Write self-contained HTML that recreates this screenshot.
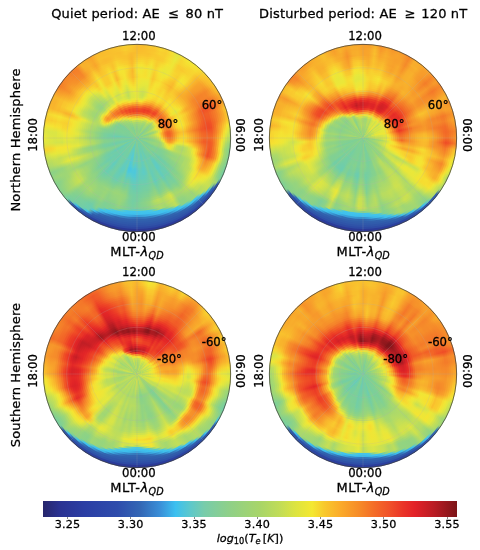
<!DOCTYPE html><html><head><meta charset="utf-8"><title>Polar Te maps</title><style>
html,body{margin:0;padding:0;background:#fff}
body{width:480px;height:550px;position:relative;overflow:hidden;font-family:"DejaVu Sans","Liberation Sans",sans-serif;color:#000}
.pl{position:absolute;width:189.2px;height:189.2px}
.pl i{position:absolute;display:block;border-radius:50%}
.ov{position:absolute;overflow:visible}
.t{position:absolute;white-space:nowrap;line-height:1;transform:translate(-50%,-50%);-webkit-text-stroke:0.28px #000}
.tt{font-size:13px;letter-spacing:.15px}
.tk{font-size:11.7px}
.r90{transform:translate(-50%,-50%) rotate(-90deg)}
.r270{transform:translate(-50%,-50%) rotate(90deg)}
.cb{position:absolute;left:42.7px;top:500.8px;width:414.5px;height:16.3px;background:linear-gradient(to right,#27266b 0.0%,#2a3292 4.0%,#2b3ea4 10.0%,#2e4cac 18.0%,#3367b5 23.5%,#3a8fd8 28.3%,#3cc0f0 32.0%,#5cc8cc 35.5%,#78ccaa 39.0%,#8fd088 45.0%,#a8d568 52.4%,#c0dc58 57.0%,#dce440 60.9%,#f4e832 65.0%,#f8c82c 68.0%,#fbac2a 71.7%,#f68a28 76.5%,#f46c28 80.0%,#f0502a 83.8%,#ea3428 87.0%,#e32228 89.8%,#b81c24 94.6%,#7c1418 100.0%)}
.tick{position:absolute;top:517px;width:0.6px;height:2px;background:#888}
sub{font-size:74%;vertical-align:baseline;position:relative;top:0.28em;font-style:italic}
em{font-style:italic}
</style></head><body>
<div class="pl" style="left:42.4px;top:43.2px">
<i style="left:0.65px;top:0.65px;width:187.90px;height:187.90px;background:conic-gradient(#f9bc2d,#f9bd2d,#f9c52e,#f9c82e,#f7d530,#f8d02f,#f6dd31,#dee642,#f6dc31,#f2e534,#f3e533,#f5e232,#f6db31,#f9cc2e,#f9c62e,#f9c42e,#f9ba2d,#f8a82b,#f8a62b,#f9ca2e,#f9c62e,#f8cd2f,#e7e83b,#c4df56,#b3db64,#97d57c,#86d18c,#87d18b,#83d090,#7fd096,#78cf9f,#7bcf9a,#2f58aa,#2e4fa6,#2d49a3,#2c45a1,#2c429f,#2c419f,#2c409e,#2b3f9e,#2b3d9d,#2b3b9b,#2b3a99,#2b3997,#2b3996,#2b3895,#2b3895,#2b3794,#2b3794,#2b3794,#2b3895,#2b3896,#2b3896,#2b3998,#2b3a99,#2b3c9c,#2c409e,#2e4ba4,#2e4fa6,#2f52a8,#305fac,#74cea3,#87d18b,#89d289,#85d18d,#95d47e,#8ad288,#a8d86d,#bddd5c,#d1e34c,#f7d530,#e0e641,#eae73a,#e1e740,#f5e132,#f9cc2e,#f8d02f,#f8b32c,#f8b02c,#f8b62c,#f7992b,#f47e29,#f5832a,#f5882a,#f47f29,#f5852a,#f8b12c,#f8ad2c,#f8a12b,#f9b92d,#f9bc2d,#f9c22d,#f9be2d,#f9c32d,#f8d22f,#f8d02f,#f9bc2d)"></i>
<i style="left:2.99px;top:2.99px;width:183.22px;height:183.22px;background:conic-gradient(#f9bc2d,#f9bc2d,#f9c52e,#f9c82e,#f7d630,#f8cf2f,#f6de31,#e0e641,#f6dc31,#f4e433,#f5e432,#f6de31,#f8d12f,#f9c62e,#f9c12d,#f9ba2d,#f8b32c,#f79f2b,#f79c2b,#f9b92d,#f8b72c,#f9c02d,#f5e332,#dce544,#c2df57,#a2d772,#94d47f,#97d57c,#92d480,#8ad289,#83d190,#89d28a,#a4d870,#326bb3,#305eac,#3059aa,#2f56a9,#2f54a8,#2f53a8,#2e51a7,#2e50a7,#2e4ea6,#2e4ca5,#2d4ba4,#2d4aa4,#2d49a3,#2d48a3,#2d48a3,#2d47a2,#2d48a3,#2d48a3,#2d49a3,#2d4aa4,#2e4ba4,#2e4da5,#2e4fa6,#2f53a8,#3161ad,#3370b6,#3dbae9,#76cea1,#78cf9e,#8ed384,#8fd384,#89d289,#98d57b,#8cd287,#adda69,#bddd5b,#d6e448,#f8d32f,#dfe641,#e7e83b,#dee642,#f3e433,#f8cd2f,#f6da31,#f8b72c,#f8b32c,#f8b52c,#f79b2b,#f48129,#f5882a,#f5892a,#f47e29,#f48029,#f8b22c,#f8ae2c,#f8a42b,#f9bc2d,#f9bc2d,#f9be2d,#f9c22d,#f9c52e,#f9cc2e,#f9c82e,#f9bc2d)"></i>
<i style="left:4.98px;top:4.98px;width:179.23px;height:179.23px;background:conic-gradient(#f9bc2d,#f9be2d,#f9c22d,#f9c52e,#f8d02f,#f8cd2f,#f6db31,#e5e83d,#f7d530,#f6df31,#f6de31,#f6dc31,#f9cc2e,#f9c12d,#f9ba2d,#f8af2c,#f8a62b,#f6952a,#f68f2a,#f8a72b,#f8a72b,#f8b12c,#f8cf2f,#eee637,#d5e449,#b4db63,#a1d773,#a6d86e,#a2d772,#96d47d,#91d382,#97d57d,#b0da66,#88d18b,#3cb1e5,#3371b7,#3161ad,#305fad,#305dac,#305bab,#3059aa,#2f57a9,#2f55a9,#2f54a8,#2f53a8,#2f52a8,#2f52a7,#2e51a7,#2e51a7,#2e51a7,#2f52a7,#2f52a8,#2f53a8,#2f54a8,#2f55a9,#2f58aa,#305eac,#3fc2ee,#6dcdac,#76cea1,#78cf9e,#7ed096,#96d47d,#94d47f,#8cd287,#9bd579,#8dd286,#b1db66,#bfde5a,#dde643,#f7d530,#dee642,#e3e73e,#d9e546,#f3e533,#f8ce2f,#f6da31,#f8b52c,#f8b32c,#f8b72c,#f79d2b,#f5862a,#f58b2a,#f58c2a,#f5832a,#f48129,#f8b12c,#f8b22c,#f8a72b,#f9be2d,#f9bd2d,#f9be2d,#f9c12d,#f9c32e,#f8ce2f,#f9c52e,#f9bc2d)"></i>
<i style="left:6.97px;top:6.97px;width:175.25px;height:175.25px;background:conic-gradient(#f9bd2d,#f9be2d,#f9c32d,#f9c72e,#f8d12f,#f8ce2f,#f6dd31,#e8e83b,#f7d430,#f6db31,#f7d630,#f7d730,#f9c62e,#f9ba2d,#f8b02c,#f79f2b,#f79c2b,#f5882a,#f47e29,#f7992b,#f79b2b,#f8a42b,#f9be2d,#f7d830,#ebe739,#d1e24c,#c0de59,#cbe150,#c8e053,#b0da67,#a9d96c,#adda69,#bddd5c,#c4df56,#bcdd5c,#3fc3ee,#3aa9e1,#3789c8,#3373b8,#3163ae,#3160ad,#305eac,#305cab,#305bab,#3059aa,#2f58aa,#2f58aa,#2f57aa,#2f57a9,#2f57aa,#2f58aa,#3059aa,#3059aa,#305bab,#305cab,#305fad,#347abd,#6bcdb0,#72cea6,#77ce9f,#7bcf9b,#83d190,#9ed676,#99d57a,#90d383,#9bd678,#8fd384,#b8dc60,#c4df56,#e2e73f,#f7d530,#dbe544,#dee642,#dae546,#f4e433,#f8cc2f,#f6dd31,#f9b82d,#f9b82d,#f9b92d,#f7a02b,#f58a2a,#f6912a,#f68c2a,#f5852a,#f5822a,#f8ae2c,#f8b42c,#f8a82b,#f9bf2d,#f9bf2d,#f9c02d,#f9c02d,#f9bf2d,#f9c72e,#f9c22d,#f9bd2d)"></i>
<i style="left:8.97px;top:8.97px;width:171.27px;height:171.27px;background:conic-gradient(#f9be2d,#f9c12d,#f9c12d,#f9c72e,#f9cb2e,#f8cf2f,#f6df31,#eae739,#f8d32f,#f7d430,#f8d32f,#f7d530,#f9bd2d,#f8af2c,#f8a32b,#f6932a,#f6932a,#f47e29,#f37328,#f68e2a,#f68f2a,#f6952a,#f8aa2b,#f9bc2d,#f7d630,#efe636,#e8e73a,#f1e535,#eee636,#d5e349,#cce150,#cbe150,#c9e052,#c9e052,#bcdd5c,#b2db65,#42c4ea,#3fc3ee,#3ebfec,#39a1db,#357fc1,#3166b0,#3162ad,#3160ad,#305fac,#305eac,#305dac,#305dac,#305cab,#305dac,#305dac,#305eac,#305fac,#3160ad,#3163ae,#3371b8,#3fc1ed,#6ccdaf,#73cea5,#79cf9e,#7ccf99,#84d18e,#a3d771,#9ed676,#96d47d,#9ed676,#91d381,#badd5f,#c7e054,#e4e83d,#f7d930,#d9e546,#dee642,#dae545,#f5e432,#f8d02f,#f6df31,#f9ba2d,#f9be2d,#f9bd2d,#f8a52b,#f68e2a,#f6952a,#f6902a,#f58a2a,#f5852a,#f8ad2c,#f8b32c,#f8a62b,#f9be2d,#f9bb2d,#f9bd2d,#f9c32d,#f9c02d,#f9c62e,#f9ba2d,#f9be2d)"></i>
<i style="left:10.96px;top:10.96px;width:167.29px;height:167.29px;background:conic-gradient(#f9c32d,#f9c52e,#f9c32e,#f9ca2e,#f9c92e,#f8cd2f,#f6dd31,#ede637,#f9cc2e,#f8cd2f,#f8d22f,#f7d430,#f9ba2d,#f8a72b,#f79c2b,#f58a2a,#f58c2a,#f37428,#f26327,#f48029,#f5832a,#f5892a,#f79b2b,#f8a72b,#f9be2d,#f8cc2f,#f8d12f,#f9c42e,#f9c22d,#f1e534,#ece638,#eae739,#d8e447,#cde14f,#bcdd5c,#b2db65,#9cd677,#97d57c,#63ccbc,#40c3ed,#3ec0ec,#39a0da,#357ec0,#3371b7,#3166b0,#3163ae,#3162ae,#3162ad,#3161ad,#3162ae,#3162ae,#3163ae,#3165af,#3373b8,#3687c6,#3cb3e6,#76cea0,#6ccdae,#73cea5,#7bcf9b,#80d094,#89d28a,#a8d86d,#a2d772,#9ad579,#9dd676,#94d47f,#c0de59,#c7e054,#e7e83b,#f6de31,#d6e448,#dbe544,#dce543,#f6e031,#f8cf2f,#f6e031,#f9b82d,#f9bf2d,#f9be2d,#f8a82b,#f6912a,#f79c2b,#f6922a,#f58a2a,#f5862a,#f8a92b,#f8b72c,#f8a52b,#f9bd2d,#f9ba2d,#f9bc2d,#f9c52e,#f9c12d,#f9c22d,#f9b82d,#f9c32d)"></i>
<i style="left:12.95px;top:12.95px;width:163.30px;height:163.30px;background:conic-gradient(#f9c62e,#f9cb2e,#f9c92e,#f8cf2f,#f9c82e,#f8cd2f,#f6df31,#eee636,#f8cd2f,#f9c92e,#f8d22f,#f7d530,#f9bb2d,#f8a52b,#f79c2b,#f5862a,#f5852a,#f36e28,#f15b27,#f47829,#f47929,#f47829,#f5892a,#f6922a,#f8a92b,#f8ab2b,#f8ab2b,#f7a02b,#f79b2b,#f9c82e,#f7d530,#f6dc31,#e9e73a,#d6e449,#bcdd5c,#b2db65,#9cd677,#97d57c,#91d382,#8dd286,#42c4ea,#3fc2ee,#3db9e9,#3aa5de,#3892cf,#3581c2,#3479bd,#3475ba,#3370b7,#3476bb,#357dbf,#3683c3,#378ecc,#3aa8e1,#3ebfec,#40c3ec,#87d18b,#70cda8,#77ce9f,#82d091,#85d18d,#8bd288,#acd96a,#aad96b,#a0d674,#9dd676,#96d47d,#c4df56,#c4df56,#e6e83c,#f4e433,#d3e34b,#dce544,#dbe544,#f5e132,#f7d530,#f5e232,#f9bc2d,#f9c72e,#f9c42e,#f8ad2c,#f6952a,#f7a02b,#f6962a,#f68f2a,#f58b2a,#f8a82b,#f9ba2d,#f8ab2b,#f9c02d,#f9bd2d,#f9c02d,#f9c92e,#f9c42e,#f9c22d,#f8b72c,#f9c62e)"></i>
<i style="left:14.94px;top:14.94px;width:159.32px;height:159.32px;background:conic-gradient(#f8cd2f,#f8d12f,#f8cd2f,#f7d830,#f8cd2f,#f8d32f,#f5e432,#eee636,#f8cf2f,#f8ce2f,#f7d830,#f7d730,#f9bc2d,#f8a32b,#f79b2b,#f5862a,#f5852a,#f37028,#f15827,#f37128,#f37128,#f26a27,#f37228,#f47d29,#f6902a,#f68e2a,#f68e2a,#f5822a,#f48129,#f8ad2c,#f9be2d,#f9ca2e,#f2e534,#e2e73f,#c8e053,#c0de5a,#9cd677,#9bd678,#91d382,#8fd383,#c0de59,#70cda9,#40c3ed,#3fc2ed,#3ebfec,#3cb4e7,#3aaae1,#39a3dc,#399bd7,#3aa5de,#3bafe4,#3db8e9,#3ebfec,#3fc2ee,#41c4eb,#7acf9c,#87d18b,#77cea0,#7ed097,#89d289,#8ad289,#91d382,#b3db64,#afda67,#a1d773,#9ed675,#9cd677,#cce150,#c3df57,#e8e73a,#f4e433,#d5e349,#dfe641,#e3e73e,#f6e031,#f7d530,#f5e332,#f9bb2d,#f9c92e,#f9c62e,#f8af2c,#f7a02b,#f8a72b,#f79f2b,#f79a2b,#f6952a,#f8ac2c,#f9c42e,#f8b12c,#f9c62e,#f9c62e,#f9c32d,#f8d22f,#f9c92e,#f9c42e,#f8b62c,#f8cd2f)"></i>
<i style="left:16.93px;top:16.93px;width:155.34px;height:155.34px;background:conic-gradient(#f8d22f,#f7d830,#f8d02f,#f6de31,#f8cd2f,#f6db31,#f0e535,#efe536,#f8d12f,#f8d02f,#f6de31,#f6da31,#f9bc2d,#f8a22b,#f79a2b,#f5832a,#f5832a,#f36f28,#f05326,#f26827,#f26827,#f26127,#f16027,#f36e28,#f48029,#f37528,#f37628,#f37028,#f36e28,#f79f2b,#f8b12c,#f9bf2d,#f5e132,#e8e83b,#cfe24e,#c3df57,#a0d674,#9fd675,#91d382,#8fd383,#c0de59,#afda67,#82d091,#45c5e6,#41c4ec,#3fc3ee,#3fc1ed,#3fc1ed,#3ec0ec,#3fc1ed,#3fc2ee,#3fc3ee,#40c3ec,#4ec8db,#80d094,#7ed096,#87d18b,#7dcf98,#85d18d,#92d481,#92d481,#97d57c,#badd5e,#b8dc60,#a8d86d,#a1d773,#a3d771,#d4e349,#c8e053,#ece638,#f5e432,#d4e34a,#dfe641,#e5e83c,#f6df31,#f8d32f,#f6de31,#f8b72c,#f8ce2f,#f9ca2e,#f8b52c,#f8a82b,#f8ae2c,#f8a62b,#f79f2b,#f79f2b,#f8b22c,#f9cb2e,#f9b82d,#f9c72e,#f8cd2f,#f9c22d,#f7d630,#f9cc2e,#f9ca2e,#f9b82d,#f8d22f)"></i>
<i style="left:18.92px;top:18.92px;width:151.35px;height:151.35px;background:conic-gradient(#f7d930,#f6de31,#f8d22f,#f5e332,#f8cd2f,#f6df31,#eee637,#eee637,#f7d630,#f8d02f,#f5e232,#f6de31,#f9be2d,#f8a32b,#f7992b,#f5832a,#f5832a,#f36d28,#f05126,#f15f27,#f15c27,#f05226,#ef4e26,#f15d27,#f36f28,#f26127,#f15f27,#f15d27,#f15d27,#f6932a,#f8a22b,#f8b42c,#f6db31,#f0e536,#dee642,#d0e24d,#abd96b,#a2d772,#96d47d,#94d47f,#c0de59,#b1da66,#a1d773,#acd96a,#85d18d,#50c9d9,#42c4ea,#41c4eb,#40c4ec,#41c4eb,#42c4ea,#59cbcc,#76cea1,#86d18c,#82d091,#7ed096,#8ad288,#85d18d,#8fd384,#9bd579,#98d57b,#9bd579,#c1de58,#bcdd5c,#b0da66,#a2d772,#aad96c,#dbe544,#cbe151,#ece638,#f4e433,#d1e34c,#e1e73f,#e9e73a,#f7d730,#f8d12f,#f6dc31,#f8b32c,#f8d32f,#f8ce2f,#f9bc2d,#f8b32c,#f9ba2d,#f8b02c,#f8a92b,#f8a52b,#f9b92d,#f8d22f,#f9bf2d,#f9c92e,#f7d430,#f9c22d,#f6da31,#f7d330,#f9cb2e,#f9ba2d,#f7d930)"></i>
<i style="left:20.91px;top:20.91px;width:147.37px;height:147.37px;background:conic-gradient(#f5e132,#f5e432,#f6da31,#f0e535,#f8d22f,#f3e433,#ebe739,#eee637,#f7d630,#f8cd2f,#f3e533,#f6e031,#f9be2d,#f8a32b,#f7972b,#f5832a,#f47f29,#f36e28,#f05226,#f15f27,#f15b27,#ef4d26,#ef4926,#f15c27,#f26a27,#f15927,#f15927,#f05326,#f05126,#f5882a,#f79b2b,#f8ad2c,#f7d530,#f4e432,#e8e83b,#dae545,#b6dc62,#a8d86d,#9cd677,#9bd579,#c8e053,#bcdd5c,#a4d770,#acd96a,#a1d773,#8fd383,#80d094,#76cea1,#67ccb6,#6bcdb1,#7acf9c,#83d18f,#91d382,#86d18c,#82d091,#80d094,#92d481,#8dd286,#93d480,#9fd675,#9dd677,#9ed675,#c6e054,#c1de58,#b7dc60,#a1d773,#add969,#e2e73f,#cce150,#ebe739,#f5e432,#d9e546,#e6e83c,#eee637,#f7d730,#f8d02f,#f7da30,#f8b32c,#f7d430,#f8d12f,#f9c42e,#f9be2d,#f9c32d,#f9c12d,#f8b32c,#f8af2c,#f9bc2d,#f7d730,#f9c22d,#f9c92e,#f7d930,#f9c42e,#f5e232,#f6db31,#f8d32f,#f9bf2d,#f5e132)"></i>
<i style="left:22.91px;top:22.91px;width:143.39px;height:143.39px;background:conic-gradient(#f1e535,#eee637,#f5e232,#ebe739,#f7d430,#f1e534,#e8e73a,#efe636,#f7d830,#f8cd2f,#f2e534,#f6e031,#f9be2d,#f8a52b,#f6962a,#f5842a,#f47e29,#f36d28,#f05026,#f15a27,#f15927,#ef4e26,#ef4926,#f15d27,#f36b28,#f15927,#f26127,#f26327,#f16027,#f6932a,#f8a22b,#f8ae2c,#f8d22f,#f6db31,#f0e536,#e3e73e,#c0de59,#afda67,#a3d771,#a5d870,#d3e34a,#bfde5a,#adda69,#acd96a,#a5d870,#93d480,#86d18c,#82d091,#7ccf99,#76cea1,#7dcf97,#87d18b,#94d47f,#88d18a,#86d18c,#88d18b,#97d57c,#90d383,#97d57c,#a9d96d,#a5d870,#a4d770,#c8e053,#c5df55,#bcdd5c,#a1d773,#b6dc61,#e7e83b,#cee24e,#e9e73a,#f5e432,#dee642,#ebe739,#f3e534,#f7d530,#f8cf2f,#f7d730,#f8b22c,#f7d630,#f7d630,#f8cd2f,#f9c62e,#f9c92e,#f9ca2e,#f9bb2d,#f9b92d,#f9c22d,#f6e031,#f9c72e,#f9cc2e,#f6df31,#f9ca2e,#efe636,#f5e232,#f7d930,#f9c42e,#f1e535)"></i>
<i style="left:24.90px;top:24.90px;width:139.40px;height:139.40px;background:conic-gradient(#f4e433,#eee637,#f5e132,#ece638,#f8d22f,#f5e432,#eae739,#f2e534,#f7d530,#f9c72e,#f5e232,#f6da31,#f9ba2d,#f8a62b,#f7972b,#f5882a,#f5822a,#f37628,#f15e27,#f16027,#f15c27,#f05527,#ef4e26,#f26127,#f26b27,#f15b27,#f26a27,#f37328,#f37228,#f8a32b,#f8b32c,#f9bd2d,#f6de31,#f4e433,#e9e73a,#d8e447,#b9dd5f,#a9d96c,#a7d86e,#a6d86e,#d2e34b,#c0de59,#b0da66,#b5dc62,#aad96b,#96d47d,#8ad289,#84d18f,#7ccf99,#77cea0,#7fd095,#8ad288,#98d57b,#8ed384,#8cd286,#8cd287,#9ad57a,#92d481,#97d57c,#a6d86e,#a4d870,#a1d773,#bfde5a,#bfde5a,#bbdd5e,#a1d773,#b5db63,#e5e83d,#c8e053,#e2e73f,#f2e534,#dbe545,#e8e73b,#f1e535,#f6dd31,#f7d830,#f6df31,#f9b92d,#f5e232,#f6e031,#f8d32f,#f8d22f,#f7d630,#f6da31,#f9cc2e,#f9c82e,#f9c42e,#f5e432,#f9cb2e,#f8cd2f,#f6de31,#f9c02d,#f4e433,#f5e332,#f7d530,#f9bb2d,#f4e433)"></i>
<i style="left:26.89px;top:26.89px;width:135.42px;height:135.42px;background:conic-gradient(#f5e332,#f1e534,#f6df31,#ece638,#f8cd2f,#f6e031,#efe636,#f5e132,#f8cd2f,#f9c22d,#f6dd31,#f7d530,#f9b92d,#f8a72b,#f79a2b,#f58a2a,#f5862a,#f5822a,#f26a27,#f26927,#f26527,#f15d27,#f05427,#f26427,#f36c28,#f15c27,#f37328,#f5852a,#f5842a,#f8b32c,#f9c72e,#f8d02f,#eee636,#ede638,#dee642,#cae052,#afda68,#9dd677,#a2d772,#a7d86e,#d5e449,#c4df56,#b2db65,#bddd5c,#b1db65,#97d57c,#8bd287,#85d18d,#7bcf9a,#76cea1,#7ed096,#8bd287,#99d57a,#91d382,#90d383,#8cd287,#9ad57a,#94d47f,#97d57d,#a0d773,#a1d773,#9fd675,#b3db64,#b6dc61,#b6dc61,#9fd675,#b6dc61,#e0e640,#c4df56,#d9e546,#ece638,#dae545,#e7e83c,#f0e535,#f4e433,#f6dd31,#f5e232,#f9c02d,#eee636,#efe636,#f6e031,#f5e132,#f5e432,#f1e535,#f6db31,#f8d32f,#f9c52e,#f3e433,#f9cc2e,#f9cc2e,#f6df31,#f9c02d,#f5e232,#f4e432,#f8d02f,#f8b72c,#f5e332)"></i>
<i style="left:28.88px;top:28.88px;width:131.44px;height:131.44px;background:conic-gradient(#f5e132,#f2e534,#f6df31,#ede637,#f9ca2e,#f6de31,#f1e535,#f7d930,#f9c72e,#f9bc2d,#f7d630,#f8cd2f,#f8b42c,#f8a72b,#f79c2b,#f6902a,#f68d2a,#f58c2a,#f47929,#f37428,#f37228,#f26427,#f05827,#f26a27,#f37328,#f26627,#f5832a,#f7982b,#f7972b,#f9c62e,#f6da31,#f5e132,#e3e73f,#e1e740,#cfe24e,#bcdd5c,#a5d86f,#94d47f,#9ed676,#a1d773,#cee24f,#bfde5a,#aeda68,#bcdd5d,#b0da67,#95d47e,#8cd287,#85d18e,#7acf9b,#75cea2,#7dcf98,#8ed385,#9bd579,#93d480,#93d480,#8dd286,#99d57a,#95d47e,#98d57b,#a0d674,#9dd677,#9dd677,#adda69,#acd969,#b0da67,#9cd678,#b6dc61,#dee642,#bede5b,#cce150,#e8e73b,#dae546,#e3e73e,#ede637,#eee637,#f4e433,#f3e533,#f9ca2e,#e5e83d,#e6e83c,#eee637,#eee637,#eae739,#e8e73b,#f1e534,#f6dc31,#f9c62e,#f2e534,#f8cd2f,#f9cb2e,#f6e031,#f9bc2d,#f6df31,#f5e432,#f8ce2f,#f9b92d,#f5e132)"></i>
<i style="left:30.87px;top:30.87px;width:127.46px;height:127.46px;background:conic-gradient(#f6dd31,#f5e432,#f6df31,#eee637,#f9c82e,#f6db31,#f5e332,#f8d22f,#f9c62e,#f9ba2d,#f8d02f,#f9c62e,#f8b12c,#f8a92b,#f8a32b,#f79b2b,#f6942a,#f6942a,#f5842a,#f48029,#f47d29,#f37328,#f26527,#f37428,#f47e29,#f37328,#f6942a,#f8b02c,#f8ae2c,#f6dc31,#ede637,#e8e73a,#d2e34c,#cde14f,#bfde5a,#abd96b,#9cd678,#8ad288,#94d47f,#94d47f,#b9dd5f,#acd96a,#9cd677,#acd969,#a0d774,#8ed384,#88d18a,#80d093,#77cea0,#74cea4,#7dcf98,#90d383,#99d57a,#97d57d,#95d47e,#8ed384,#9bd678,#97d57c,#96d47d,#9cd678,#9ad579,#9ad57a,#a3d771,#a9d96c,#aad96c,#97d57c,#b8dc60,#dee642,#bbdd5d,#c3df57,#e6e83c,#d8e446,#dde543,#e9e73a,#e8e83b,#efe536,#efe636,#f8d12f,#dee642,#dbe544,#e7e83b,#e8e83b,#e0e641,#dde643,#e6e83c,#f1e535,#f8d12f,#f1e535,#f9cc2e,#f9cc2e,#f5e232,#f9b82d,#f6db31,#f5e432,#f9cc2e,#f9ba2d,#f6dd31)"></i>
<i style="left:32.86px;top:32.86px;width:123.47px;height:123.47px;background:conic-gradient(#f6da31,#f5e332,#f5e232,#f1e534,#f9c52e,#f7d730,#f6dd31,#f8cd2f,#f9be2d,#f8b42c,#f9c72e,#f9bf2d,#f8ae2c,#f8ab2b,#f8a92b,#f8a52b,#f79d2b,#f79f2b,#f6902a,#f58c2a,#f68d2a,#f48029,#f37028,#f5832a,#f68c2a,#f5822a,#f8a52b,#f9ca2e,#f8ce2f,#ebe739,#dce544,#d7e447,#c0de59,#bede5b,#afda67,#9cd678,#96d47e,#83d090,#8ad289,#87d18b,#a1d773,#9ad57a,#8fd383,#9fd675,#98d57b,#88d28a,#84d18e,#7ed097,#77cea0,#76cea1,#7ed097,#93d480,#99d57a,#98d57b,#98d57b,#92d381,#99d57a,#95d47e,#94d47f,#97d57d,#97d57c,#96d47d,#9dd677,#a4d771,#a3d771,#96d47d,#b7dc61,#d8e447,#b1db65,#bcdd5d,#e5e83c,#d7e448,#d3e34b,#e5e83d,#dfe642,#e8e73b,#eae739,#f6dc31,#d1e24c,#cde14f,#d8e447,#dee642,#d2e34b,#cbe151,#d6e448,#e9e73a,#f8d32f,#f0e535,#f9cc2e,#f9cc2e,#f5e132,#f9b82d,#f7d930,#f3e533,#f8ce2f,#f9b92d,#f6da31)"></i>
<i style="left:34.86px;top:34.86px;width:119.49px;height:119.49px;background:conic-gradient(#f6e031,#efe636,#efe636,#ece638,#f9cb2e,#f6de31,#f5e132,#f8d22f,#f9c72e,#f9b92d,#f9c82e,#f9bf2d,#f8b32c,#f8b42c,#f8b42c,#f8b12c,#f8a32b,#f8a82b,#f79c2b,#f7972b,#f7972b,#f58b2a,#f47a29,#f58c2a,#f6952a,#f6902a,#f8b22c,#f6de31,#f4e433,#e0e641,#cee24f,#c6e054,#b7dc60,#b5db63,#a6d86f,#93d480,#90d383,#7ed096,#84d18f,#7ed097,#95d47e,#8cd286,#83d18f,#94d47f,#8fd384,#83d090,#7fd096,#7acf9b,#75cea2,#76cea1,#7dcf98,#94d47f,#99d57a,#9bd678,#9bd579,#95d47e,#9bd579,#97d57d,#92d481,#91d382,#93d480,#93d480,#97d57c,#a1d773,#a1d773,#94d47f,#b5db63,#cfe24e,#adda69,#b5db63,#e6e83c,#d7e448,#cde14f,#e3e73f,#d8e447,#e0e641,#e4e73e,#f3e534,#c6df55,#bede5b,#cae052,#d1e34c,#c4df56,#c1de58,#cae151,#dbe545,#f6e031,#e9e73a,#f7d530,#f7d530,#f0e535,#f9c52e,#f5e332,#ede637,#f7d330,#f9c12d,#f6e031)"></i>
<i style="left:36.85px;top:36.85px;width:115.51px;height:115.51px;background:conic-gradient(#f5e432,#ece638,#eae739,#eae73a,#f8d02f,#f5e332,#f5e232,#f8d22f,#f9ca2e,#f9be2d,#f9cb2e,#f9c52e,#f9ba2d,#f9bb2d,#f9bd2d,#f9bb2d,#f8a72b,#f8b62c,#f8a92b,#f8a22b,#f8a52b,#f6942a,#f5842a,#f7992b,#f8a32b,#f79e2b,#f9bf2d,#ece638,#e2e73f,#d0e24d,#bcdd5d,#b8dc60,#b2db65,#afda67,#a0d774,#91d382,#8ed384,#79cf9d,#7ed096,#78ce9f,#8cd286,#84d18e,#7dcf97,#91d382,#89d289,#7fd096,#7ccf99,#79cf9c,#74cea4,#75cea2,#79cf9d,#90d382,#94d47f,#99d57a,#98d57c,#8fd384,#92d481,#91d382,#8ed385,#89d289,#8cd287,#92d481,#91d381,#9cd678,#9cd678,#92d381,#b4db63,#c9e052,#a9d96c,#abd96a,#dbe544,#cfe24d,#c1de58,#d6e448,#cde14f,#d9e546,#d9e546,#eae739,#c1de58,#b8dc60,#bfde5a,#c8e053,#bbdd5d,#b7dc61,#c4df56,#d1e24c,#f2e534,#e1e740,#f6de31,#f6df31,#eee637,#f9cb2e,#f1e535,#eae739,#f6db31,#f9c92e,#f5e432)"></i>
<i style="left:38.84px;top:38.84px;width:111.52px;height:111.52px;background:conic-gradient(#f3e533,#eae739,#e6e83c,#e7e83b,#f7d330,#f5e332,#f6e031,#f7d430,#f7d430,#f9c32e,#f8ce2f,#f9cc2e,#f9c52e,#f9c42e,#f9c72e,#f9c92e,#f8b22c,#f9c32d,#f8b52c,#f8b02c,#f8b32c,#f7a02b,#f68f2a,#f8a32b,#f8b12c,#f8aa2b,#f8cf2f,#dbe544,#cee24e,#c7e054,#b4db63,#b0da67,#adda69,#a6d86f,#9bd678,#8cd287,#8dd385,#78cf9e,#7ccf99,#74cea4,#87d18b,#81d092,#79cf9c,#8cd286,#83d090,#7bcf9a,#79cf9c,#76cea0,#72cda7,#72cea6,#76cea1,#8dd286,#8ed385,#94d47f,#92d381,#87d18b,#8bd288,#8bd287,#88d28a,#83d090,#84d18e,#8fd384,#8bd287,#94d47f,#98d57c,#92d481,#b4db63,#c4df56,#a3d771,#a2d772,#d1e34c,#cde14f,#bfde5a,#cde14f,#c1de58,#cee24e,#d2e34c,#e6e83c,#bede5b,#b2db65,#b3db64,#bfde5a,#afda67,#acd96a,#badd5e,#c5df55,#ebe739,#d9e546,#f5e432,#f1e535,#e7e83b,#f8d22f,#ede637,#e6e83c,#f6e031,#f8d22f,#f3e533)"></i>
<i style="left:40.83px;top:40.83px;width:107.54px;height:107.54px;background:conic-gradient(#f0e535,#e6e83c,#e4e73e,#e3e73e,#f7d730,#f5e432,#f6dd31,#f8d22f,#f7d930,#f9c92e,#f8cd2f,#f8d12f,#f8cc2f,#f8ce2f,#f7d530,#f7d930,#f9bd2d,#f8cf2f,#f9c42e,#f9c02d,#f9c02d,#f8ab2b,#f7982b,#f8ad2c,#f9bc2d,#f8b32c,#f7d930,#d1e24c,#c6e054,#c0de59,#b0da66,#aeda68,#adda69,#a4d771,#99d57a,#88d18a,#8ad288,#75cea2,#78cf9e,#71cda7,#84d18e,#7dcf97,#75cea2,#86d18c,#7dcf98,#77ce9f,#76cea0,#73cea5,#6ecdab,#70cda9,#74cea3,#87d18b,#85d18d,#8dd286,#8ad288,#81d093,#83d090,#85d18e,#82d091,#7ed096,#7fd095,#8cd287,#87d18b,#90d382,#95d47e,#93d480,#b3db64,#bede5b,#a0d674,#9ed675,#cae151,#c6e055,#b7dc60,#c3df57,#b8dc60,#c6df55,#c9e052,#dae545,#b8dc60,#acd96a,#acd96a,#b7dc61,#a8d86d,#a6d86e,#b4db63,#bfde5a,#e5e83d,#d6e449,#f4e432,#ede637,#e2e73f,#f6da31,#e9e73a,#dce543,#f4e433,#f6da31,#f0e535)"></i>
<i style="left:42.82px;top:42.82px;width:103.56px;height:103.56px;background:conic-gradient(#efe636,#e2e73f,#dce544,#e2e73f,#f6db31,#f3e534,#f6de31,#f7d430,#f6db31,#f8cd2f,#f8d12f,#f6da31,#f8d12f,#f7d630,#f6dc31,#f3e533,#f9ca2e,#f7d630,#f9cc2e,#f9cc2e,#f9ca2e,#f8b72c,#f8a52b,#f9b92d,#f9c82e,#f9be2d,#f3e433,#c2df57,#bddd5c,#bddd5b,#aad96b,#a3d771,#a3d771,#9cd678,#95d47e,#85d18e,#88d18b,#73cea5,#76cea1,#6ecdab,#7fd095,#79cf9d,#70cda8,#82d092,#7acf9c,#76cea1,#75cea2,#71cda7,#6ccdae,#6acdb2,#72cea6,#82d091,#7ed096,#85d18d,#82d091,#7bcf9b,#7ccf9a,#81d093,#7ccf99,#78cf9e,#79cf9d,#87d18b,#82d091,#8bd287,#91d382,#93d480,#b1da66,#b7dc60,#9ad579,#99d57a,#c4df56,#c2de58,#aeda68,#b9dc5f,#adda69,#bddd5c,#c1de58,#cfe24d,#b5db63,#a8d86d,#a4d771,#acd96a,#9fd675,#9fd675,#abd96a,#b7dc61,#d7e447,#cee24e,#f0e535,#e7e83c,#dee642,#f5e132,#e8e83b,#d4e34a,#efe636,#f5e232,#efe636)"></i>
<i style="left:44.81px;top:44.81px;width:99.57px;height:99.57px;background:conic-gradient(#ede638,#d9e546,#d6e449,#dee642,#f6df31,#f1e535,#f6e031,#f7d730,#f6de31,#f8d12f,#f8d02f,#f5e132,#f7d930,#f6de31,#f4e433,#eae739,#f7d530,#f6de31,#f7d830,#f6db31,#f7d930,#f9c72e,#f8b52c,#f9c72e,#f7d530,#f9ca2e,#efe636,#bcdd5d,#b5dc62,#b9dc5f,#a6d86f,#a0d774,#a1d773,#96d47d,#8ed384,#82d091,#85d18e,#70cda9,#74cea4,#68ccb4,#7bcf9a,#74cea3,#6acdb2,#7dcf98,#77cea0,#73cea5,#72cea6,#71cda8,#6bcdb1,#67ccb6,#6fcdaa,#7dcf98,#77ce9f,#81d093,#7bcf9a,#74cea3,#76cea1,#7dd097,#79cf9d,#74cea3,#76cea1,#85d18e,#7dcf98,#87d18b,#8dd286,#92d381,#afda67,#b1db65,#97d57c,#96d47e,#bddd5b,#badd5f,#a5d870,#b0da67,#a6d86e,#b4db63,#b9dc5f,#c6e054,#b1db65,#a3d771,#a1d773,#a7d86e,#9cd678,#98d57b,#a5d870,#aeda68,#cae152,#c5df55,#ece638,#dee642,#d8e446,#efe636,#dfe641,#cde14f,#e8e73a,#efe636,#ede638)"></i>
<i style="left:46.80px;top:46.80px;width:95.59px;height:95.59px;background:conic-gradient(#ede638,#d7e448,#cfe24d,#dbe544,#f4e433,#eee636,#f5e332,#f6db31,#f4e432,#f7d930,#f7d430,#f4e433,#f6de31,#f4e432,#efe636,#e4e83d,#f6de31,#f4e433,#f5e332,#f5e432,#f4e432,#f7d430,#f9c12d,#f8ce2f,#f6dc31,#f7d730,#e7e83b,#b3db64,#aeda68,#b5dc62,#a2d772,#9ed676,#9dd676,#91d381,#8ad288,#7dcf97,#81d093,#6bcdb0,#6ecdab,#63ccbc,#76cea0,#6fcdaa,#62ccbe,#79cf9d,#72cea6,#6dcdad,#6ecdac,#6fcda9,#66ccb7,#64ccbb,#6bcdb1,#78cf9f,#70cda8,#7bcf9a,#75cea3,#6ccdaf,#6fcdaa,#78cf9e,#73cea4,#6ecdac,#73cea5,#81d092,#78cf9e,#82d091,#89d289,#8fd383,#a9d96c,#aad96c,#94d47f,#92d481,#b8dc60,#b2db65,#9ed675,#a9d96c,#a0d774,#adda69,#b0da66,#bbdd5d,#acd96a,#a1d773,#9ed676,#a2d772,#9ad579,#95d47e,#a3d771,#a9d96c,#c1de59,#c0de5a,#e8e83b,#d1e34c,#cfe24d,#e8e73b,#d7e448,#c5df55,#e0e641,#e8e83b,#ede638)"></i>
<i style="left:48.80px;top:48.80px;width:91.61px;height:91.61px;background:conic-gradient(#ebe739,#d0e24d,#c9e052,#d8e447,#f3e533,#f0e535,#f6e031,#f7d930,#f5e332,#f7d830,#f8d32f,#f3e533,#f6dd31,#f5e232,#f1e535,#e6e83c,#f7da30,#f5e132,#f5e432,#f5e432,#f5e332,#f8d22f,#f9bf2d,#f9ca2e,#f6da31,#f7d830,#e6e83c,#b4db63,#aeda68,#b4db63,#a3d771,#9bd678,#9bd678,#8ed385,#89d289,#7ccf9a,#7fd096,#6bcdb0,#6ccdae,#63ccbd,#76cea0,#6dcdad,#63ccbd,#7acf9b,#72cea6,#6ccdaf,#6ccdaf,#6dcdad,#65ccba,#62ccbe,#66ccb8,#73cea4,#6ccdae,#7acf9b,#74cea3,#6ccdaf,#6dcdad,#76cea1,#72cea6,#6acdb1,#72cda7,#80d094,#76cea1,#80d094,#86d18d,#90d383,#a7d86e,#a5d86f,#92d481,#91d382,#b3db64,#b0da67,#9ad57a,#a4d771,#9dd677,#a7d86e,#acd96a,#b6dc62,#adda69,#a5d86f,#a5d86f,#a7d86e,#9fd675,#9bd579,#abd96b,#aeda68,#c1de58,#bfde5a,#e6e83c,#d1e24c,#d1e34c,#e4e73e,#d3e34b,#bfde5a,#d9e546,#e2e73f,#ebe739)"></i>
<i style="left:50.79px;top:50.79px;width:87.63px;height:87.63px;background:conic-gradient(#e9e73a,#d0e24d,#c8e053,#dbe544,#f0e536,#f4e433,#f6db31,#f7d630,#f6e031,#f7d430,#f9cc2e,#f5e132,#f7d930,#f6e031,#f5e432,#ebe738,#f8d12f,#f7d930,#f6dd31,#f6df31,#f6dc31,#f9cc2e,#f9ba2d,#f9c82e,#f7d730,#f7da30,#e7e83b,#b5db63,#b1db65,#b6dc61,#a2d772,#97d57c,#99d57a,#8cd287,#87d18b,#79cf9d,#7dcf98,#6bcdb1,#6ccdae,#62ccbe,#74cea4,#6ecdac,#66ccb8,#78cf9e,#6fcdaa,#6acdb1,#69cdb3,#6acdb1,#61ccbf,#5eccc4,#60ccc0,#6ecdab,#69cdb4,#78cf9e,#71cda7,#69cdb3,#6acdb2,#76cea1,#72cea6,#6acdb1,#71cda8,#7ed096,#74cea3,#7fd095,#84d18f,#8fd384,#a7d86e,#a4d870,#91d382,#91d381,#afda67,#aad96b,#95d47f,#9cd678,#98d57c,#a2d772,#aad96c,#b2db65,#b4db63,#b3db64,#bddd5c,#bcdd5c,#afda67,#a9d96d,#bddd5c,#b9dc5f,#cae152,#c3df56,#e8e83b,#d2e34b,#d4e34a,#dce543,#d0e24d,#bede5b,#dae546,#dee642,#e9e73a)"></i>
<i style="left:52.78px;top:52.78px;width:83.64px;height:83.64px;background:conic-gradient(#eae739,#d4e34a,#cfe24e,#e6e83c,#f5e232,#f6dc31,#f8d22f,#f8ce2f,#f7d730,#f9c72e,#f9bf2d,#f7d530,#f9cb2e,#f8d22f,#f7d430,#f5e132,#f9c22d,#f9c62e,#f8ce2f,#f8d22f,#f8d12f,#f9bf2d,#f8af2c,#f9bb2d,#f9cb2e,#f8d12f,#ede637,#bddd5c,#b6dc61,#bbdd5d,#a2d772,#96d47d,#99d57a,#8bd288,#85d18d,#76cea1,#79cf9d,#6acdb1,#6ccdaf,#61ccbf,#73cea5,#6ecdac,#66ccb7,#77ce9f,#6dcdad,#67ccb6,#64ccbb,#67ccb6,#5dccc5,#59cbcc,#5eccc4,#66ccb8,#62ccbe,#75cea2,#6dcdac,#67ccb7,#6bcdb1,#75cea2,#71cda8,#66ccb8,#70cda9,#7ccf99,#72cea6,#7ccf99,#7fd096,#8ad288,#a0d774,#9dd677,#8dd286,#8bd287,#a5d870,#a1d773,#8ed384,#94d47f,#91d382,#9cd678,#a0d774,#aeda68,#bddd5c,#cbe151,#e2e73f,#e2e73f,#d1e24c,#c8e053,#dae545,#d2e34b,#dfe642,#d6e448,#f0e535,#dbe545,#dfe642,#e1e73f,#d6e448,#c6e054,#dce543,#dee642,#eae739)"></i>
<i style="left:54.77px;top:54.77px;width:79.66px;height:79.66px;background:conic-gradient(#f1e535,#e4e73e,#e2e73f,#f0e535,#f8d32f,#f9cc2e,#f9bf2d,#f9b92d,#f9c32d,#f8b52c,#f8aa2b,#f9c12d,#f8b52c,#f9bb2d,#f9b92d,#f9c82e,#f8ad2c,#f8ae2c,#f9ba2d,#f9bd2d,#f9bd2d,#f8ac2c,#f79d2b,#f8a62b,#f8b52c,#f9bc2d,#f6dc31,#d2e34c,#c4df56,#c4df56,#a2d772,#93d480,#96d47d,#88d18a,#84d18e,#75cea3,#76cea1,#6dcdac,#67ccb6,#62ccbe,#72cda6,#6dcdae,#65ccb9,#76cea1,#6acdb1,#65ccba,#64ccbb,#67ccb6,#5bcbc8,#53cad4,#56cbd0,#5fccc3,#5bcbc9,#73cea5,#69cdb3,#65ccb9,#6bcdb1,#75cea3,#6ecdab,#65ccba,#6fcdaa,#7acf9c,#70cda9,#79cf9e,#7acf9c,#85d18d,#9ad579,#96d57d,#87d18b,#87d18b,#9fd675,#9cd678,#88d18a,#8ed385,#8bd288,#97d57c,#99d57a,#b0da67,#d2e34b,#ece638,#f8d12f,#f8d02f,#f5e332,#f0e535,#f6df31,#f2e534,#f5e132,#eee636,#f8d32f,#efe636,#f0e535,#eee636,#eae73a,#dae545,#ebe739,#eae739,#f1e535)"></i>
<i style="left:56.76px;top:56.76px;width:75.68px;height:75.68px;background:conic-gradient(#f8cf2f,#f5e432,#f5e232,#f9cc2e,#f9b82d,#f8b42c,#f8a62b,#f8a12b,#f8a92b,#f7992b,#f6912a,#f8aa2b,#f79f2b,#f8a32b,#f79f2b,#f8ac2c,#f6962a,#f6932a,#f79f2b,#f8a62b,#f8a42b,#f6932a,#f5892a,#f68d2a,#f79c2b,#f8a42b,#f9bf2d,#eae73a,#dde643,#d2e34c,#a1d773,#91d382,#92d481,#85d18e,#81d093,#71cda7,#75cea2,#6fcdaa,#63ccbc,#5eccc3,#70cda9,#6bcdb1,#66ccb7,#76cea1,#65ccba,#5fccc3,#62ccbd,#67ccb7,#59cbcb,#51c9d7,#52cad5,#58cbce,#55cbd2,#6fcdaa,#65ccb9,#62ccbe,#69cdb2,#75cea3,#6fcda9,#64ccbb,#6dcdad,#76cea1,#6ecdac,#75cea2,#76cea0,#82d092,#93d480,#8fd384,#82d091,#83d090,#96d47d,#95d47e,#83d091,#86d18c,#86d18c,#91d382,#92d480,#b3db64,#e3e73f,#f7d530,#f8ad2c,#f8a52b,#f9b82d,#f9bb2d,#f8af2c,#f9ba2d,#f9ba2d,#f9c52e,#f8b02c,#f9cb2e,#f9c92e,#f8d12f,#f7d630,#f2e534,#f6da31,#f6dc31,#f8cf2f)"></i>
<i style="left:58.75px;top:58.75px;width:71.69px;height:71.69px;background:conic-gradient(#f8ae2c,#f9bf2d,#f9bd2d,#f8aa2b,#f79a2b,#f6932a,#f5882a,#f5872a,#f68f2a,#f47d29,#f37328,#f68f2a,#f5892a,#f58c2a,#f5882a,#f6962a,#f48129,#f47b29,#f5882a,#f6922a,#f68f2a,#f47729,#f37128,#f47729,#f5862a,#f6902a,#f8a82b,#f6db31,#ede637,#dfe641,#9ed675,#8ed384,#8dd385,#85d18e,#7fd095,#70cda8,#74cea4,#6fcdaa,#61ccbf,#5eccc5,#6ecdab,#6bcdb0,#68ccb5,#75cea2,#64ccbb,#5dccc6,#62ccbf,#67ccb6,#57cbd0,#4dc8dc,#4fc9da,#4fc9da,#4ec8db,#6ccdae,#63ccbd,#60ccc0,#69cdb3,#74cea3,#6fcdaa,#61ccbf,#69cdb3,#73cea5,#6ccdae,#73cea5,#72cea6,#7dcf98,#8dd286,#88d18a,#7ccf99,#7dcf98,#8dd286,#8ed384,#7ed097,#81d093,#81d092,#89d289,#8bd287,#afda67,#e3e73e,#f9cc2e,#f79e2b,#f6902a,#f79c2b,#f7992b,#f68d2a,#f6922a,#f6902a,#f79d2b,#f68c2a,#f8a42b,#f7a02b,#f8ae2c,#f8ac2c,#f9bf2d,#f8b22c,#f9b92d,#f8ae2c)"></i>
<i style="left:60.74px;top:60.74px;width:67.71px;height:67.71px;background:conic-gradient(#f5872a,#f6952a,#f6932a,#f5812a,#f37428,#f37028,#f26727,#f26827,#f37028,#f15e27,#f15927,#f47729,#f37228,#f47729,#f37428,#f48029,#f36d28,#f26827,#f37528,#f5822a,#f47f29,#f26627,#f16027,#f26627,#f47729,#f5842a,#f79b2b,#f8ce2f,#f3e433,#e2e73f,#99d57b,#8ad288,#8ad288,#82d092,#7dd097,#70cda9,#74cea3,#71cda7,#61ccc0,#5eccc4,#6fcdaa,#6ccdaf,#6acdb1,#75cea2,#65ccba,#5dccc5,#63ccbc,#66ccb7,#54cbd3,#4ec8db,#51c9d8,#4ac7e0,#4bc7df,#6ccdae,#60ccc1,#61ccc0,#6ccdaf,#74cea4,#6fcdaa,#63ccbd,#6bcdb0,#72cda7,#6bcdb0,#71cda7,#70cda9,#7bcf9b,#88d18a,#82d091,#78cf9e,#7acf9c,#87d18b,#88d18a,#79cf9d,#7bcf9a,#7ccf99,#84d18f,#86d18c,#9ed676,#c9e052,#f5e432,#f8b22c,#f7992b,#f79a2b,#f58b2a,#f47929,#f47b29,#f37428,#f47c29,#f26927,#f47f29,#f47829,#f5882a,#f5842a,#f6922a,#f5892a,#f6912a,#f5872a)"></i>
<i style="left:62.74px;top:62.74px;width:63.73px;height:63.73px;background:conic-gradient(#f15e27,#f36f28,#f26827,#f15b27,#f05026,#f05026,#ef4926,#ef4c26,#f15827,#ef4926,#ef4826,#f36c28,#f26b27,#f36b28,#f36c28,#f47929,#f26327,#f15e27,#f36d28,#f47e29,#f47d29,#f26327,#f16027,#f26727,#f47d29,#f68e2a,#f8a22b,#f7d830,#ebe739,#d2e34b,#96d57d,#85d18d,#85d18e,#80d094,#7ccf99,#70cda9,#74cea3,#71cda7,#61ccc0,#61ccbf,#70cda8,#6dcdad,#6bcdb0,#77cea0,#65ccba,#5eccc4,#66ccb8,#6acdb1,#58cbcd,#51c9d7,#56cbd1,#4bc7df,#4ac7df,#6bcdb0,#61ccbf,#62ccbe,#6dcdad,#73cea5,#71cda8,#66ccb8,#6ecdab,#72cda7,#6ecdac,#72cea6,#70cda9,#7bcf9b,#88d28a,#82d092,#77cea0,#7acf9b,#85d18d,#85d18d,#78cf9e,#79cf9d,#7acf9c,#81d093,#84d18e,#93d480,#aad96c,#d0e24d,#f4e432,#f9be2d,#f8b62c,#f7972b,#f47e29,#f47829,#f26927,#f26a27,#f05527,#f26127,#f05627,#f26427,#f15b27,#f26827,#f16027,#f26927,#f15e27)"></i>
<i style="left:64.73px;top:64.73px;width:59.74px;height:59.74px;background:conic-gradient(#ed3f26,#ef4e26,#ef4926,#ee4226,#eb3b26,#ed4026,#eb3b26,#ee4326,#f05026,#ee4226,#ef4a26,#f37028,#f37528,#f37328,#f37628,#f5842a,#f36e28,#f26927,#f47a29,#f68d2a,#f58a2a,#f37128,#f37228,#f47b29,#f6922a,#f8a72b,#f9c22d,#eae739,#d2e34b,#bcdd5d,#94d47f,#83d190,#82d092,#7ed097,#7bcf9a,#6ecdac,#73cea4,#73cea5,#62ccbe,#62ccbe,#71cda8,#6fcdaa,#6dcdae,#76cea0,#68ccb6,#62ccbe,#6bcdb0,#70cda9,#5cccc7,#56cbd0,#5fccc2,#52cad6,#4ec9db,#6bcdb0,#62ccbe,#64ccbc,#70cda8,#75cea2,#73cea5,#68ccb4,#6dcdac,#70cda9,#6dcdae,#71cda8,#6dcdad,#79cf9d,#86d18c,#7fd095,#75cea2,#7acf9b,#84d18f,#82d091,#77ce9f,#75cea2,#77ce9f,#7ed096,#82d091,#8ad289,#95d47e,#a7d86e,#c2df58,#e9e73a,#f2e534,#f9bd2d,#f79c2b,#f68f2a,#f47b29,#f37228,#f05527,#f15a27,#ee4626,#f04f26,#ed4126,#ef4d26,#ee4326,#ef4c26,#ed3f26)"></i>
<i style="left:66.72px;top:66.72px;width:55.76px;height:55.76px;background:conic-gradient(#ea3826,#ee4426,#ee4426,#ee4326,#ec3e26,#ef4826,#ee4626,#f05126,#f16027,#f05527,#f26627,#f5892a,#f6942a,#f6902a,#f6932a,#f79f2b,#f58b2a,#f5852a,#f6952a,#f8ab2b,#f8a82b,#f6902a,#f6922a,#f79c2b,#f8b22c,#f8cd2f,#efe636,#c5df55,#b7dc61,#a9d96c,#93d480,#83d091,#7fd095,#7ed096,#7ed097,#71cda7,#76cea1,#74cea3,#66ccb8,#65ccba,#72cea6,#70cda8,#6dcdae,#75cea2,#69cdb3,#64ccbb,#6dcdad,#70cda8,#5eccc4,#5cccc7,#67ccb6,#57cbcf,#50c9d8,#69cdb4,#60ccc1,#66ccb8,#71cda7,#74cea3,#74cea4,#6acdb2,#6fcdaa,#6fcdaa,#6ecdab,#71cda8,#6dcdae,#78cf9e,#86d18c,#7ccf98,#72cea5,#78cf9e,#81d093,#82d091,#77cea0,#73cea4,#75cea2,#7ccf99,#82d092,#84d18f,#89d289,#91d382,#98d57b,#b4db64,#bede5b,#ebe739,#f9c82e,#f9b92d,#f79f2b,#f6912a,#f37228,#f36d28,#f05126,#f05627,#ee4326,#ef4b26,#ed3f26,#ef4826,#ea3826)"></i>
<i style="left:68.71px;top:68.71px;width:51.78px;height:51.78px;background:conic-gradient(#ef4c26,#f15c27,#f15e27,#f26127,#f15f27,#f36c28,#f36e28,#f47b29,#f5872a,#f47e29,#f6922a,#f8b22c,#f9c12d,#f9bb2d,#f9bb2d,#f9c82e,#f8b32c,#f8a82b,#f9ba2d,#f7d630,#f8cf2f,#f8b52c,#f9b92d,#f9c62e,#f7d830,#eae739,#cde24f,#acd96a,#a3d772,#9ed676,#93d480,#82d092,#7fd095,#80d094,#80d094,#74cea4,#7acf9c,#78cf9e,#6bcdb1,#6acdb2,#73cea5,#6fcdaa,#6ccdaf,#75cea2,#68ccb5,#63ccbd,#6fcdaa,#72cea6,#61ccbf,#65ccba,#6dcdae,#58cbcd,#52cad6,#67ccb7,#60ccc1,#68ccb5,#72cea6,#73cea5,#73cea5,#6bcdb0,#6fcda9,#6dcdad,#71cda8,#71cda7,#68ccb5,#75cea2,#85d18d,#7bcf9a,#71cda8,#76cea1,#7fd096,#80d093,#76cea1,#71cda8,#75cea2,#7acf9c,#7fd095,#81d093,#82d091,#85d18d,#85d18d,#96d47d,#99d57b,#bddd5c,#e7e83c,#efe636,#f8d22f,#f9c42e,#f8a32b,#f7972b,#f37628,#f47629,#f26127,#f26227,#f05727,#f15d27,#ef4c26)"></i>
<i style="left:70.70px;top:70.70px;width:47.80px;height:47.80px;background:conic-gradient(#f47a29,#f58b2a,#f58b2a,#f6912a,#f6922a,#f79c2b,#f79f2b,#f8ae2c,#f9b92d,#f8ae2c,#f9c52e,#f5e332,#e9e73a,#efe636,#f2e534,#e9e73a,#f6dd31,#f7d430,#f5e232,#dfe641,#e8e73b,#f6db31,#f5e232,#f0e535,#e8e73a,#cce150,#b2db65,#9dd677,#9cd677,#9ad57a,#92d381,#82d091,#80d094,#82d091,#81d092,#75cea2,#7bcf9a,#7bcf9a,#6ecdab,#6dcdad,#73cea5,#6fcdaa,#69cdb3,#72cea5,#69cdb3,#63ccbd,#70cda9,#74cea4,#62ccbd,#69cdb3,#6fcdab,#56cbd0,#52cad5,#65ccb9,#60ccc2,#6acdb1,#73cea4,#72cea6,#73cea5,#6ccdae,#71cda8,#6ccdaf,#70cda9,#71cda8,#67ccb6,#74cea3,#83d190,#79cf9d,#6fcdaa,#76cea1,#7dcf98,#7ed096,#74cea3,#6ccdae,#72cea6,#77ce9f,#7ed097,#7fd095,#80d093,#81d093,#7dcf97,#88d18a,#84d18e,#9bd678,#b5dc62,#c3df57,#d9e546,#e9e73a,#f6da31,#f8cf2f,#f8a92b,#f8a82b,#f6922a,#f6912a,#f5882a,#f58b2a,#f47a29)"></i>
<i style="left:72.69px;top:72.69px;width:43.81px;height:43.81px;background:conic-gradient(#f8b02c,#f9c22d,#f9be2d,#f9c62e,#f9c82e,#f7d630,#f6dd31,#f1e534,#efe636,#f6de31,#e9e73a,#d2e34b,#bcdd5d,#c6e054,#cfe24d,#c8e053,#dee642,#eae73a,#dbe545,#bfde5a,#cbe151,#e8e73a,#e0e641,#d4e34a,#cbe151,#b2db65,#9fd675,#96d47d,#9ad57a,#99d57a,#92d481,#84d18f,#7fd096,#84d18e,#83d18f,#77ce9f,#80d094,#7fd095,#72cea6,#71cda7,#73cea5,#6fcda9,#68ccb4,#72cda7,#68ccb4,#64ccbb,#6fcdaa,#74cea4,#64ccbb,#6bcdb1,#70cda9,#56cbd0,#54cbd3,#62ccbf,#60ccc1,#6ecdac,#75cea2,#72cea6,#73cea5,#6dcdae,#72cea5,#6ccdae,#71cda7,#70cda9,#66ccb8,#75cea3,#82d091,#78cf9e,#70cda9,#75cea2,#7ccf99,#7ed096,#76cea1,#6bcdb0,#73cea5,#78cf9f,#7ccf99,#7ed096,#7fd095,#80d093,#7ccf99,#83d18f,#7dcf98,#8dd385,#9ed676,#a6d86f,#b4db63,#bbdd5d,#d2e34b,#dbe544,#f5e132,#f5e332,#f9c92e,#f9c72e,#f9be2d,#f9c32e,#f8b02c)"></i>
<i style="left:74.69px;top:74.69px;width:39.83px;height:39.83px;background:conic-gradient(#f1e535,#e5e83d,#ece638,#e5e83d,#e4e73e,#d7e448,#d0e24d,#c7e054,#c4df56,#d8e447,#c1de58,#b0da66,#9fd675,#a7d86e,#afda67,#adda69,#c4df56,#d3e34a,#c1de59,#a9d96c,#b7dc61,#d2e34b,#cbe151,#bfde5a,#badd5e,#a2d772,#99d57b,#94d47f,#9bd579,#99d57a,#92d481,#84d18f,#7fd095,#85d18d,#86d18c,#7bcf9b,#82d091,#81d092,#76cea1,#75cea2,#75cea2,#70cda9,#67ccb7,#71cda8,#67ccb7,#63ccbd,#70cda8,#73cea5,#61ccbf,#6acdb1,#71cda8,#57cbd0,#55cbd2,#60ccc2,#5eccc4,#6fcdaa,#77ce9f,#73cea4,#73cea5,#70cda9,#75cea2,#6ecdab,#72cea6,#70cda9,#67ccb7,#75cea3,#82d091,#79cf9e,#71cda8,#75cea3,#7ccf99,#7fd095,#77ce9f,#6acdb2,#73cea5,#79cf9d,#7bcf9a,#7fd095,#7fd095,#80d093,#7dd097,#82d092,#7acf9c,#86d18c,#92d481,#98d57b,#9ed676,#a1d773,#aeda68,#b1db66,#cfe24d,#cae151,#e5e83d,#e8e73b,#ede637,#e6e83c,#f1e535)"></i>
<i style="left:76.68px;top:76.68px;width:35.85px;height:35.85px;background:conic-gradient(#c6e054,#bbdd5d,#c4df56,#bcdd5c,#bfde5a,#b5dc62,#aeda68,#a9d96d,#abd96b,#bddd5b,#acd96a,#a0d773,#94d47f,#9cd678,#a0d773,#9ed676,#b4db63,#c0de5a,#aeda68,#9ad579,#a7d86e,#c1de58,#bbdd5d,#b1da66,#adda69,#9ad579,#90d382,#8fd383,#98d57b,#96d57d,#8fd384,#82d091,#7ccf99,#83d090,#85d18d,#7acf9c,#84d18f,#84d18f,#78cf9e,#77cea0,#75cea2,#71cda7,#67ccb7,#70cda8,#68ccb5,#66ccb8,#74cea4,#76cea1,#64ccba,#6dcdac,#72cea6,#58cbce,#59cbcc,#60ccc1,#5fccc3,#71cda8,#78cf9e,#72cda6,#74cea4,#72cea6,#77cea0,#6fcdaa,#73cea5,#70cda8,#65ccb9,#75cea3,#81d092,#77ce9f,#6fcdaa,#75cea3,#7bcf9a,#7ed096,#78cf9e,#6acdb2,#73cea5,#79cf9c,#7ccf9a,#7ed096,#7ed096,#80d093,#7ccf99,#81d092,#7acf9b,#82d092,#8bd287,#92d381,#95d47e,#96d47d,#9cd678,#99d57a,#acd96a,#a7d86e,#bfde5a,#c1de59,#c2df58,#b9dc5f,#c6e054)"></i>
<i style="left:78.67px;top:78.67px;width:31.86px;height:31.86px;background:conic-gradient(#a9d96c,#a1d773,#a9d96c,#a4d771,#aad96b,#a1d773,#9dd677,#9bd579,#9fd675,#b0da67,#a1d773,#9cd678,#8dd385,#95d47e,#9bd579,#9ad57a,#aad96c,#b6dc61,#a5d870,#93d480,#9fd675,#b4db64,#b0da67,#a5d86f,#a5d86f,#93d480,#8cd287,#8cd286,#94d47f,#94d47f,#8ed384,#82d092,#7ccf99,#82d091,#84d18f,#79cf9d,#84d18e,#87d18b,#7acf9c,#77ce9f,#75cea2,#72cea6,#67ccb6,#70cda8,#6acdb2,#68ccb4,#75cea2,#78ce9f,#6acdb1,#71cda8,#76cea1,#5eccc4,#5bcbc9,#60ccc1,#60ccc1,#74cea4,#7ccf99,#73cea5,#74cea4,#73cea4,#78ce9f,#6fcdaa,#74cea4,#72cea6,#67ccb6,#76cea1,#80d094,#75cea2,#6fcdab,#74cea4,#7bcf9b,#7fd096,#7acf9c,#6dcdad,#74cea4,#79cf9d,#7bcf9a,#7fd095,#7ed097,#80d094,#7ccf99,#81d092,#7bcf9b,#82d092,#88d18a,#90d383,#91d382,#91d382,#93d480,#8fd384,#9ad57a,#96d47e,#a6d86f,#a6d86e,#a8d86d,#9fd675,#a9d96c)"></i>
<i style="left:80.66px;top:80.66px;width:27.88px;height:27.88px;background:conic-gradient(#9bd579,#97d57c,#9dd676,#9ad57a,#9fd675,#9ad57a,#95d47e,#93d480,#9cd678,#a8d86d,#9dd677,#9bd579,#88d28a,#91d382,#95d47e,#95d47e,#a6d86f,#b1da66,#9dd676,#8dd385,#98d57b,#a7d86e,#a8d86d,#9fd675,#9fd675,#8cd286,#88d18a,#8ad289,#92d481,#92d381,#8ad288,#7fd095,#7acf9c,#81d093,#84d18f,#7acf9c,#84d18e,#85d18d,#79cf9d,#77cea0,#75cea3,#72cea6,#6acdb2,#71cda7,#6ccdae,#6acdb1,#76cea1,#7acf9c,#70cda8,#73cea5,#78cf9e,#63ccbd,#5fccc2,#60ccc1,#63ccbd,#77cea0,#7ed096,#74cea3,#74cea3,#74cea3,#79cf9d,#71cda8,#76cea1,#74cea4,#66ccb8,#74cea3,#7ed096,#73cea5,#6fcdaa,#75cea2,#7bcf9a,#7fd096,#78cf9e,#6ecdab,#75cea2,#79cf9c,#7ccf9a,#7ed097,#7dcf98,#80d094,#7dcf98,#82d092,#7bcf9a,#82d092,#88d18a,#8fd384,#8ed384,#8cd286,#8dd385,#89d289,#91d382,#8bd287,#9bd579,#9ad57a,#9ad579,#94d47f,#9bd579)"></i>
<i style="left:82.65px;top:82.65px;width:23.90px;height:23.90px;background:conic-gradient(#92d480,#91d382,#96d57d,#93d480,#97d57c,#94d47f,#8ed385,#8dd286,#98d57b,#a2d772,#97d57c,#96d47d,#83d090,#8ed385,#91d381,#92d381,#9ed676,#a5d870,#99d57b,#88d18b,#91d382,#9cd678,#9dd677,#97d57c,#98d57b,#84d18f,#84d18f,#86d18c,#8ed385,#90d383,#87d18b,#7ccf98,#77ce9f,#7ed096,#81d092,#7acf9c,#85d18d,#86d18c,#79cf9c,#77cea0,#74cea3,#73cea5,#6dcdae,#73cea4,#70cda8,#6ccdaf,#77cea0,#7bcf9a,#74cea4,#75cea3,#7acf9c,#66ccb7,#64ccbb,#63ccbd,#68ccb5,#7acf9b,#82d092,#74cea3,#75cea2,#76cea1,#7acf9c,#71cda7,#77cea0,#75cea3,#66ccb9,#74cea3,#7ed096,#71cda7,#6fcdaa,#74cea3,#7bcf9b,#7fd096,#79cf9d,#70cda8,#76cea1,#7acf9b,#7acf9b,#7dcf98,#7dcf98,#7ed097,#7bcf9b,#82d092,#7ccf99,#80d094,#87d18b,#8dd385,#8bd287,#89d289,#88d18a,#84d18e,#88d18a,#82d091,#93d480,#94d47f,#95d47e,#8ed385,#92d480)"></i>
<i style="left:84.64px;top:84.64px;width:19.91px;height:19.91px;background:conic-gradient(#8dd385,#8ed385,#95d47e,#8ed385,#92d481,#8ed384,#89d289,#88d28a,#95d47e,#a0d774,#94d47f,#94d47f,#7dcf98,#89d289,#8dd286,#8ed384,#9ad579,#9fd675,#93d480,#83d090,#8cd287,#97d57d,#99d57b,#94d47f,#94d47f,#80d094,#82d091,#86d18c,#8bd287,#8ed384,#85d18d,#7bcf9a,#77cea0,#7fd095,#81d092,#7bcf9a,#87d18b,#87d18b,#79cf9d,#77ce9f,#75cea2,#74cea3,#6fcda9,#74cea3,#71cda8,#6ccdaf,#75cea2,#7ccf99,#76cea1,#78cf9e,#7dcf98,#6acdb1,#69cdb3,#66ccb9,#6bcdb1,#7dd097,#84d18f,#75cea2,#77cea0,#77ce9f,#7ccf99,#75cea3,#79cf9d,#76cea1,#68ccb5,#75cea2,#7ed096,#71cda7,#71cda7,#76cea1,#7bcf9b,#7fd095,#79cf9d,#71cda8,#78cf9e,#7bcf9a,#7bcf9a,#7dcf98,#7dcf98,#7ed097,#7bcf9a,#84d18f,#7ed096,#81d092,#88d28a,#8fd384,#8ad288,#88d18b,#88d18a,#83d090,#84d18f,#7dcf97,#8dd385,#90d383,#92d481,#8ad288,#8dd385)"></i>
<i style="left:86.63px;top:86.63px;width:15.93px;height:15.93px;background:conic-gradient(#8bd287,#8dd286,#92d480,#8ad288,#90d383,#8ed384,#88d28a,#87d18b,#95d47e,#9fd675,#90d383,#92d481,#7bcf9b,#85d18d,#8bd287,#8dd286,#98d57b,#9cd677,#92d481,#82d092,#89d289,#94d47f,#97d57c,#92d481,#90d383,#7dcf98,#7fd095,#84d18f,#88d18a,#8cd286,#84d18e,#7acf9c,#76cea1,#7dcf97,#82d091,#7bcf9a,#89d28a,#85d18d,#7acf9c,#76cea0,#75cea2,#76cea1,#71cda7,#78cf9e,#73cea5,#6fcdaa,#77cea0,#7ed097,#7acf9c,#7bcf9a,#80d094,#6ecdac,#6dcdac,#68ccb4,#6ecdac,#7fd094,#85d18d,#77ce9f,#77ce9f,#78cf9e,#7dcf97,#77cea0,#7ccf9a,#77cea0,#69cdb3,#76cea1,#7dcf98,#72cea6,#72cea6,#78cf9f,#7ccf99,#7fd095,#7acf9b,#71cda7,#79cf9d,#7ccf99,#7bcf9a,#7ed097,#7fd096,#7fd095,#7dcf98,#85d18e,#80d094,#82d091,#8bd288,#91d381,#8cd287,#87d18b,#89d289,#82d091,#82d091,#7dcf97,#8ed385,#8ed384,#92d481,#8ad288,#8bd287)"></i>
<i style="left:88.63px;top:88.63px;width:11.95px;height:11.95px;background:conic-gradient(#88d18a,#8bd287,#92d381,#88d18a,#8ed384,#8ed385,#86d18c,#88d18b,#95d47e,#9fd675,#8fd384,#90d382,#79cf9d,#83d190,#88d18a,#8bd287,#96d57d,#9ad579,#90d383,#80d094,#85d18d,#8ed385,#93d480,#8dd286,#8bd287,#7bcf9b,#7ed097,#83d190,#86d18d,#8bd288,#82d091,#79cf9d,#75cea2,#7bcf9a,#80d094,#7bcf9a,#8bd288,#86d18c,#7bcf9a,#78cf9e,#77cea0,#78cf9f,#74cea3,#7ccf9a,#76cea1,#72cea6,#78cf9f,#7fd095,#7ed096,#7ed097,#82d092,#70cda9,#71cda7,#6ccdaf,#71cda8,#82d091,#87d18b,#79cf9d,#78cf9e,#79cf9d,#7fd095,#79cf9d,#7ccf98,#79cf9d,#6ecdab,#77ce9f,#7ed097,#72cea6,#73cea5,#79cf9d,#7dcf98,#81d092,#7ccf99,#73cea5,#7acf9c,#7ccf99,#7acf9b,#7fd095,#80d093,#80d093,#7ed096,#86d18c,#81d093,#83d090,#8dd385,#93d480,#8cd287,#88d18a,#8ad288,#83d190,#84d18e,#7ed097,#8dd286,#8ed384,#94d47f,#8ad288,#88d18a)"></i>
<i style="left:90.62px;top:90.62px;width:7.97px;height:7.97px;background:conic-gradient(#88d18a,#8cd286,#91d382,#86d18c,#8cd286,#8cd286,#84d18f,#86d18c,#95d47e,#9ed676,#8cd286,#8fd383,#76cea1,#80d094,#86d18c,#87d18b,#93d480,#97d57c,#8ed385,#7ed097,#82d091,#89d289,#8fd384,#88d28a,#86d18c,#77cea0,#7ccf99,#81d092,#84d18f,#88d28a,#7fd095,#77ce9f,#75cea3,#7acf9b,#7fd096,#7bcf9a,#8dd385,#84d18e,#7acf9b,#79cf9d,#79cf9d,#79cf9d,#76cea1,#7dcf98,#78cf9f,#75cea2,#77ce9f,#82d092,#80d093,#81d092,#85d18d,#72cda7,#72cea5,#6dcdad,#71cda7,#84d18f,#88d18a,#7acf9c,#78cf9e,#79cf9d,#80d093,#7bcf9a,#7fd096,#7bcf9b,#70cda9,#77ce9f,#7ccf99,#71cda7,#74cea4,#7bcf9b,#7fd095,#81d092,#7ccf99,#75cea2,#7bcf9a,#7dcf98,#79cf9e,#80d094,#82d091,#81d093,#7fd095,#88d18a,#82d091,#83d090,#8fd384,#94d47f,#8ad288,#89d289,#8cd286,#83d091,#84d18f,#7dd097,#8dd286,#8ed385,#94d47f,#8bd288,#88d18a)"></i>
<i style="left:92.61px;top:92.61px;width:3.98px;height:3.98px;background:conic-gradient(#8ad289,#8bd287,#8fd384,#84d18e,#8cd286,#8cd287,#83d090,#86d18c,#93d480,#9cd678,#89d289,#8dd286,#75cea3,#80d094,#84d18e,#86d18c,#91d382,#95d47e,#8bd287,#7ccf99,#7fd095,#84d18f,#8ad288,#86d18c,#82d091,#75cea2,#7bcf9a,#7fd095,#81d093,#86d18c,#7ed097,#77cea0,#72cea5,#79cf9e,#7ed096,#7ccf99,#8ed385,#84d18f,#7bcf9a,#7bcf9a,#7ccf99,#7acf9c,#78ce9f,#7fd096,#79cf9d,#77ce9f,#78cf9e,#82d091,#82d091,#83d190,#88d18a,#73cea4,#75cea2,#71cda7,#74cea4,#85d18d,#8bd288,#7bcf9a,#79cf9d,#7acf9b,#82d091,#7fd095,#82d091,#7dcf98,#71cda7,#79cf9d,#7bcf9a,#71cda8,#74cea3,#7bcf9a,#7fd095,#83d090,#7dcf98,#78cf9e,#7fd096,#7dcf97,#78cf9f,#81d092,#84d18e,#83d190,#7fd095,#87d18b,#85d18d,#84d18f,#90d383,#96d47d,#8ad288,#89d289,#8dd385,#82d091,#82d091,#7ed096,#8dd385,#8ed385,#93d47f,#8bd288,#8ad289)"></i>
</div>
<svg class="ov" style="left:37.0px;top:37.8px" width="200" height="200" viewBox="-100 -100 200 200">
<circle r="23.40" stroke="#b0b0b0" stroke-opacity="0.38" stroke-width="0.5" fill="none"/>
<circle r="46.80" stroke="#b0b0b0" stroke-opacity="0.38" stroke-width="0.5" fill="none"/>
<circle r="70.20" stroke="#b0b0b0" stroke-opacity="0.38" stroke-width="0.5" fill="none"/>
<line x1="0.00" y1="-93.60" x2="-0.00" y2="93.60" stroke="#b0b0b0" stroke-opacity="0.38" stroke-width="0.5" fill="none"/>
<line x1="66.19" y1="-66.19" x2="-66.19" y2="66.19" stroke="#b0b0b0" stroke-opacity="0.38" stroke-width="0.5" fill="none"/>
<line x1="93.60" y1="-0.00" x2="-93.60" y2="0.00" stroke="#b0b0b0" stroke-opacity="0.38" stroke-width="0.5" fill="none"/>
<line x1="66.19" y1="66.19" x2="-66.19" y2="-66.19" stroke="#b0b0b0" stroke-opacity="0.38" stroke-width="0.5" fill="none"/>
<circle r="93.65" stroke="#3c3c3c" stroke-width="0.75" fill="none"/>
</svg>
<div class="pl" style="left:268.6px;top:43.2px">
<i style="left:0.65px;top:0.65px;width:187.90px;height:187.90px;background:conic-gradient(#f79d2b,#f79e2b,#f8b22c,#f68f2a,#f8a32b,#f6962a,#f79e2b,#f7972b,#f5862a,#f8ab2b,#f8ac2c,#f8a22b,#f8a32b,#f68d2a,#f79c2b,#f5852a,#f79c2b,#f9b82d,#f6912a,#f8a12b,#f6962a,#f8a52b,#f6962a,#f5872a,#f6952a,#f48029,#f9c22d,#f6db31,#e7e83c,#e6e83c,#d1e24c,#b1db66,#c1de59,#aad96c,#3160ad,#305bab,#2f57a9,#2f53a8,#2e51a7,#2e4da5,#2d48a3,#2c44a0,#2c419f,#2b3f9e,#2b3d9d,#2b3b9a,#2b3a98,#2b3997,#2b3896,#2b3996,#2b3997,#2b3997,#2b3997,#2b3a99,#2b3b9b,#2b3d9c,#2b3f9e,#2c419f,#2c44a0,#2d47a2,#2d4ba4,#2e4fa6,#305aaa,#85d18d,#81d093,#8ad289,#86d18c,#adda69,#9fd675,#a8d86d,#cce150,#f5e132,#f7d430,#f7d430,#f8b32c,#f9ca2e,#f8b22c,#f8ad2c,#f8b02c,#f7992b,#f9bd2d,#f9bd2d,#f58b2a,#f48129,#f7a02b,#f79c2b,#f8a22b,#f8ad2c,#f8b22c,#f9c12d,#f8ab2b,#f79f2b,#f8b42c,#f8a62b,#f8ab2b,#f8a62b,#f79d2b)"></i>
<i style="left:2.99px;top:2.99px;width:183.22px;height:183.22px;background:conic-gradient(#f79f2b,#f7a02b,#f8b72c,#f6942a,#f8a62b,#f79a2b,#f7a12b,#f79b2b,#f5872a,#f8ae2c,#f8ac2b,#f7a02b,#f79e2b,#f5872a,#f79c2b,#f5852a,#f7982b,#f8b42c,#f6952a,#f8a32b,#f6902a,#f8a12b,#f6902a,#f47e29,#f68c2a,#f37328,#f8b52c,#f9c72e,#f5e232,#f6e031,#e8e73a,#cde14f,#dee642,#bddd5c,#c0de5a,#abd96b,#6bcdb1,#3fc0ed,#3791ce,#3162ae,#305dac,#2f58aa,#2f54a8,#2e51a7,#2e4fa7,#2e4ea6,#2e4ca5,#2d4ba4,#2d4aa4,#2d4aa4,#2d4aa4,#2d4aa4,#2d4ba4,#2e4ca5,#2e4ea6,#2e4fa7,#2e51a7,#2f54a8,#2f58aa,#305cab,#3160ad,#3372b8,#8bd287,#89d289,#89d289,#94d47f,#8bd288,#b2db65,#a0d774,#acd96a,#cee24f,#f5e132,#f7d830,#f7d630,#f9b82d,#f8cf2f,#f8b22c,#f8ac2b,#f8b02c,#f79d2b,#f9c22d,#f9c22d,#f6932a,#f5852a,#f8a42b,#f7a12b,#f8a72b,#f8ae2c,#f8b52c,#f9c02d,#f8af2c,#f7a02b,#f8b22c,#f8a42b,#f8ad2c,#f8ab2b,#f79f2b)"></i>
<i style="left:4.98px;top:4.98px;width:179.23px;height:179.23px;background:conic-gradient(#f79e2b,#f8a62b,#f9bc2d,#f7992b,#f8a92b,#f79e2b,#f8a32b,#f79c2b,#f5882a,#f8ac2c,#f8ad2c,#f79e2b,#f79c2b,#f5832a,#f79b2b,#f5832a,#f6952a,#f8b32c,#f7992b,#f8a22b,#f58b2a,#f7992b,#f5882a,#f47829,#f5842a,#f26627,#f8a62b,#f8b42c,#f8d12f,#f9c82e,#f6db31,#eae739,#f2e534,#cfe24e,#cfe24e,#b2db65,#8bd287,#91d381,#a0d774,#40c4ec,#3aa5de,#3165af,#305fac,#305bab,#2f58aa,#2f56a9,#2f55a8,#2f54a8,#2f53a8,#2f53a8,#2f53a8,#2f53a8,#2f54a8,#2f55a9,#2f56a9,#2f58aa,#305bab,#305fac,#3166b0,#378fcd,#3fc1ed,#84d18f,#8dd385,#8cd286,#91d382,#9ad579,#91d382,#bddd5b,#a5d86f,#afda67,#cbe150,#f5e332,#f6df31,#f7d930,#f9bc2d,#f8d02f,#f8b32c,#f8b12c,#f8b02c,#f79a2b,#f9c42e,#f9c82e,#f7982b,#f5872a,#f8a42b,#f8a72b,#f8af2c,#f8b12c,#f8b32c,#f9bf2d,#f8b02c,#f8a22b,#f8b02c,#f79d2b,#f8aa2b,#f8ab2b,#f79e2b)"></i>
<i style="left:6.97px;top:6.97px;width:175.25px;height:175.25px;background:conic-gradient(#f8a22b,#f8a52b,#f9bc2d,#f79e2b,#f8ac2b,#f8a12b,#f8a22b,#f7a02b,#f58a2a,#f8ae2c,#f8b12c,#f79d2b,#f79b2b,#f5832a,#f6952a,#f47e29,#f6932a,#f8af2c,#f79e2b,#f8a32b,#f5862a,#f6932a,#f5822a,#f37228,#f47c29,#f15927,#f6932a,#f8a22b,#f9c02d,#f8af2c,#f9c42e,#f7d830,#f8d02f,#e2e73f,#dbe545,#b8dc60,#8fd384,#92d481,#a1d773,#a0d774,#8cd287,#3ec0ec,#3682c3,#3164af,#3160ad,#305dac,#305cab,#305aab,#3059aa,#305aaa,#305aab,#305aab,#305aab,#305cab,#305dac,#3160ad,#3164af,#3687c6,#3fc0ed,#4fc9da,#92d481,#8ad288,#90d383,#8fd383,#97d57c,#a2d772,#99d57a,#c6e054,#adda69,#b5db63,#cfe24e,#f4e433,#f5e132,#f7da30,#f9c02d,#f7d330,#f8b52c,#f8b52c,#f8b02c,#f79a2b,#f9c62e,#f9cc2e,#f7a02b,#f68e2a,#f8a72b,#f8ad2c,#f9b92d,#f8b12c,#f8b52c,#f9bd2d,#f8b62c,#f8a72b,#f8ab2b,#f7982b,#f8ac2b,#f8ae2c,#f8a22b)"></i>
<i style="left:8.97px;top:8.97px;width:171.27px;height:171.27px;background:conic-gradient(#f8a22b,#f8a62b,#f9bf2d,#f8a22b,#f8ae2c,#f8a52b,#f7a02b,#f7a12b,#f5892a,#f8a92b,#f8ae2c,#f79e2b,#f7972b,#f48129,#f6942a,#f47a29,#f68f2a,#f8af2c,#f7a12b,#f79d2b,#f47d29,#f5892a,#f37528,#f26b27,#f37328,#f05026,#f5832a,#f6962a,#f8b12c,#f7992b,#f8a62b,#f9be2d,#f9bd2d,#f0e535,#e9e73a,#c3df57,#95d47e,#98d57c,#a3d771,#a1d773,#9fd675,#9ed675,#3fc2ee,#3aa7e0,#347abd,#3164af,#3161ad,#3160ad,#305fac,#305fac,#305fad,#3160ad,#3160ad,#3162ae,#3165af,#3478bc,#3aa7e0,#3fc3ee,#8bd287,#8ed385,#92d481,#8ad288,#93d480,#94d47f,#9dd677,#abd96b,#a0d774,#d0e24d,#b2db65,#bddd5c,#d0e24d,#f0e535,#f5e432,#f6de31,#f9c62e,#f6db31,#f9bb2d,#f9bb2d,#f8b22c,#f79c2b,#f9c72e,#f9ca2e,#f8a92b,#f6952a,#f8aa2b,#f8b12c,#f9bb2d,#f8b02c,#f8b32c,#f9bb2d,#f9bc2d,#f8ac2c,#f8ab2b,#f6952a,#f8ac2c,#f8af2c,#f8a22b)"></i>
<i style="left:10.96px;top:10.96px;width:167.29px;height:167.29px;background:conic-gradient(#f8a42b,#f8a42b,#f9bc2d,#f8a42b,#f8ad2c,#f8a42b,#f7a02b,#f8a22b,#f58b2a,#f8aa2b,#f8ac2c,#f79d2b,#f6952a,#f47c29,#f6922a,#f47829,#f58b2a,#f8a62b,#f8a12b,#f7982b,#f47929,#f48129,#f36c28,#f26827,#f37128,#ef4c26,#f47829,#f58a2a,#f8a42b,#f5872a,#f7972b,#f8ad2c,#f8b02c,#f6db31,#f5e332,#d1e34c,#9cd678,#9cd678,#a7d86e,#a1d773,#9fd675,#add969,#98d57b,#40c3ec,#3ebfec,#3894d1,#357cbf,#336eb6,#3165af,#3166b0,#3268b2,#326cb4,#336fb6,#3580c1,#3899d5,#3ebdeb,#40c3ec,#7dcf98,#8bd287,#8ed385,#92d481,#8bd287,#96d47e,#95d47e,#a3d771,#b6dc61,#a7d86e,#dae546,#bbdd5e,#c3df57,#d1e34c,#eee637,#f2e534,#f5e232,#f8d12f,#f6df31,#f9ba2d,#f9bf2d,#f8b72c,#f7a02b,#f9ca2e,#f8cc2f,#f8b02c,#f79a2b,#f8ac2c,#f8b72c,#f9c32d,#f8b02c,#f8b12c,#f9bd2d,#f9bf2d,#f8ae2c,#f8a72b,#f6922a,#f8aa2b,#f8af2c,#f8a42b)"></i>
<i style="left:12.95px;top:12.95px;width:163.30px;height:163.30px;background:conic-gradient(#f8ab2b,#f8a72b,#f9bf2d,#f8aa2b,#f8b02c,#f8a62b,#f7a12b,#f8a52b,#f6902a,#f8ac2c,#f8b02c,#f79e2b,#f6962a,#f47e29,#f6952a,#f47b29,#f58b2a,#f8a52b,#f8a32b,#f79b2b,#f47b29,#f5812a,#f36e28,#f36c28,#f47729,#f15927,#f47d29,#f6912a,#f8a82b,#f58b2a,#f79c2b,#f8ac2b,#f8af2c,#f7d830,#f6e031,#d2e34c,#9ed676,#9ed676,#acd96a,#a6d86f,#9fd675,#add969,#9bd579,#8fd384,#42c4eb,#3fc1ed,#3db6e8,#39a1db,#378ecc,#3893d0,#3898d4,#399dd8,#3aa3dd,#3ebceb,#3fc1ed,#41c4eb,#8cd287,#7dcf98,#8bd287,#8ed385,#93d480,#8ed385,#9bd579,#99d57a,#a5d86f,#b7dc60,#a8d86d,#dbe544,#bcdd5d,#c4df56,#cde14f,#ebe739,#f2e534,#f6df31,#f7d430,#f5e232,#f9bd2d,#f9c22d,#f8b72c,#f8a32b,#f9c92e,#f7d530,#f9bd2d,#f7a02b,#f8ab2b,#f9b82d,#f9c72e,#f8af2c,#f8b02c,#f9c02d,#f9c42e,#f8b42c,#f8a92b,#f6962a,#f8b42c,#f8b62c,#f8ab2b)"></i>
<i style="left:14.94px;top:14.94px;width:159.32px;height:159.32px;background:conic-gradient(#f8ad2c,#f8aa2b,#f9c12d,#f8af2c,#f8b42c,#f8a72b,#f8a12b,#f8aa2b,#f6922a,#f8ae2c,#f8b12c,#f7a02b,#f6942a,#f5842a,#f7992b,#f47f29,#f68d2a,#f8a82b,#f8ab2b,#f79d2b,#f5822a,#f5862a,#f37128,#f37528,#f5832a,#f26827,#f5862a,#f6952a,#f8af2c,#f6922a,#f7a02b,#f8af2c,#f9b82d,#f6db31,#f6e031,#d4e34a,#a2d772,#a2d772,#b5dc62,#b3db64,#9fd675,#add969,#9bd579,#8fd384,#85d18d,#43c4e9,#40c3ed,#3fc1ed,#3ebfec,#3ebfec,#3ec0ed,#3fc1ed,#3fc1ed,#40c3ec,#51cad7,#bedd5b,#8cd287,#7dcf98,#8bd287,#8ed385,#9ed676,#97d57c,#a3d771,#a0d674,#aeda68,#bede5b,#adda69,#dfe641,#bfde5a,#cae151,#cee24e,#e4e73e,#f2e534,#f6dc31,#f7d630,#f5e432,#f9bb2d,#f9c52e,#f9bb2d,#f8a62b,#f9c92e,#f7d530,#f9c72e,#f8a82b,#f8b02c,#f9bd2d,#f9cb2e,#f8b02c,#f8b42c,#f9c72e,#f9cb2e,#f9c02d,#f8ac2c,#f79a2b,#f9bc2d,#f9bc2d,#f8ad2c)"></i>
<i style="left:16.93px;top:16.93px;width:155.34px;height:155.34px;background:conic-gradient(#f9b82d,#f8ad2c,#f9c22d,#f8b42c,#f9b92d,#f8a62b,#f7a02b,#f8aa2b,#f6962a,#f8ae2c,#f8b22c,#f8a52b,#f7992b,#f5872a,#f7992b,#f5842a,#f68f2a,#f8a82b,#f8ad2c,#f7a02b,#f5812a,#f5882a,#f37528,#f47d29,#f58c2a,#f37328,#f58b2a,#f79f2b,#f8b52c,#f79a2b,#f8a52b,#f8b12c,#f9bd2d,#f6df31,#f6dd31,#dee642,#aad96c,#a7d86e,#c1de59,#c2df57,#afda68,#b6dc62,#a3d771,#92d481,#86d18c,#a4d771,#7bcf9a,#42c4ea,#40c3ec,#41c4ec,#41c4eb,#42c4ea,#42c4ea,#80d093,#8dd286,#bedd5b,#8cd287,#7dcf98,#8bd287,#99d57a,#aad96b,#9cd677,#aad96b,#a7d86e,#b4db63,#bfde5a,#b0da66,#e2e73f,#c3df57,#cee24e,#d0e24d,#dee642,#f0e535,#f6dd31,#f7da30,#f5e432,#f9bb2d,#f9ca2e,#f9bc2d,#f8a82b,#f9cb2e,#f7d530,#f8ce2f,#f8b02c,#f8b32c,#f9c12d,#f8cf2f,#f8b32c,#f8b72c,#f8cd2f,#f7d430,#f9c52e,#f8ac2c,#f79e2b,#f9c32d,#f9c82e,#f9b82d)"></i>
<i style="left:18.92px;top:18.92px;width:151.35px;height:151.35px;background:conic-gradient(#f9bc2d,#f8af2c,#f9c12d,#f8b72c,#f9bd2d,#f8ab2b,#f8a32b,#f8aa2b,#f79a2b,#f8ae2c,#f8b12c,#f8aa2b,#f79d2b,#f5892a,#f79b2b,#f5872a,#f6902a,#f8a72b,#f8af2c,#f8a32b,#f5872a,#f58b2a,#f47829,#f5862a,#f6962a,#f47f29,#f68f2a,#f8a62b,#f9bd2d,#f8a12b,#f8b02c,#f8b72c,#f9c62e,#f6df31,#f6dd31,#e1e740,#b2db65,#adda69,#c6df55,#cce150,#b8dc60,#bedd5b,#acd96a,#99d57a,#8bd288,#a4d771,#9fd675,#96d47d,#82d091,#93d480,#89d28a,#9ed675,#a0d774,#93d480,#8dd286,#bedd5b,#8cd287,#86d18c,#97d57d,#a6d86e,#bbdd5d,#a8d96d,#b5dc62,#aeda68,#badd5f,#c4df56,#b6dc62,#e1e740,#c3df57,#cee24f,#d0e24d,#d6e448,#efe636,#f6e031,#f6dd31,#f5e432,#f9be2d,#f8cd2f,#f9c02d,#f8ac2b,#f9c82e,#f7d430,#f7d430,#f8b42c,#f8b22c,#f9c52e,#f8d02f,#f9b82d,#f9bd2d,#f7d430,#f6da31,#f9ca2e,#f8ae2c,#f8a12b,#f9c82e,#f8cf2f,#f9bc2d)"></i>
<i style="left:20.91px;top:20.91px;width:147.37px;height:147.37px;background:conic-gradient(#f9c02d,#f8b22c,#f9c42e,#f9ba2d,#f9c12d,#f8ad2c,#f7a12b,#f8ac2c,#f7a02b,#f8ae2c,#f8b12c,#f8aa2b,#f79f2b,#f68f2a,#f79c2b,#f5892a,#f6902a,#f8a32b,#f8b02c,#f8a32b,#f5852a,#f58b2a,#f47c29,#f6902a,#f7a02b,#f58c2a,#f6922a,#f8ad2c,#f9c02d,#f8a72b,#f9b82d,#f9b92d,#f8ce2f,#f6dd31,#f6db31,#e4e73e,#b4db63,#b1db66,#cae151,#c9e052,#b5dc62,#b8dc60,#a8d86d,#9ad57a,#8ad288,#a4d771,#a5d870,#9bd579,#b3db64,#bddd5c,#95d47e,#a0d773,#a0d774,#93d480,#8dd286,#bedd5b,#97d57c,#98d57c,#a8d86d,#badd5e,#cbe151,#b5db62,#bfde5a,#b7dc61,#bddd5c,#c9e052,#badd5e,#e4e73e,#c4df56,#d6e448,#d6e448,#cfe24e,#ede637,#f5e132,#f6df31,#f3e433,#f9c22d,#f7d330,#f9c02d,#f8b22c,#f9c92e,#f7d830,#f6df31,#f9bc2d,#f8b52c,#f9c92e,#f7d330,#f9bc2d,#f9be2d,#f7d930,#f5e132,#f8ce2f,#f8b02c,#f8a52b,#f9cb2e,#f8d12f,#f9c02d)"></i>
<i style="left:22.91px;top:22.91px;width:143.39px;height:143.39px;background:conic-gradient(#f9cc2e,#f9bd2d,#f9c72e,#f9bf2d,#f9c62e,#f8af2c,#f8a62b,#f8b02c,#f79f2b,#f8ad2c,#f8b12c,#f8ac2c,#f8a22b,#f6962a,#f8a12b,#f68c2a,#f6902a,#f8a62b,#f8b42c,#f8a72b,#f5892a,#f58c2a,#f48029,#f7972b,#f8a72b,#f6942a,#f6952a,#f8b62c,#f9c52e,#f8af2c,#f9be2d,#f9be2d,#f7d630,#f6e031,#f6e031,#e0e640,#b3db64,#aeda68,#c5df55,#c5df55,#b0da67,#b2db65,#a5d870,#9ad579,#90d383,#b0da66,#b1db65,#a4d770,#c7e054,#d1e24c,#a0d774,#aad96b,#a0d774,#99d57a,#93d480,#d0e24d,#aad96b,#a6d86f,#bbdd5e,#cfe24e,#dce544,#c0de59,#c9e052,#bfde5a,#c6e054,#cbe150,#c0de5a,#e9e73a,#cce150,#dee642,#dae545,#cbe151,#eee637,#f6e031,#f5e332,#f3e433,#f9bf2d,#f7d330,#f9c52e,#f8b62c,#f9c72e,#f7d630,#f1e534,#f9c32e,#f9b92d,#f9cc2e,#f7d730,#f9bf2d,#f9c12d,#f6de31,#f2e534,#f7d530,#f9b82d,#f8ac2c,#f7d730,#f6dd31,#f9cc2e)"></i>
<i style="left:24.90px;top:24.90px;width:139.40px;height:139.40px;background:conic-gradient(#f7d430,#f9c32e,#f9cc2e,#f9c52e,#f9cb2e,#f8b62c,#f8ac2c,#f8b72c,#f7a02b,#f8a92b,#f8b22c,#f8af2c,#f8a32b,#f7992b,#f7a12b,#f68f2a,#f68e2a,#f8a52b,#f9bb2d,#f8ac2b,#f68d2a,#f68d2a,#f5882a,#f8a12b,#f8b12c,#f79e2b,#f79d2b,#f9be2d,#f9cc2e,#f9b92d,#f9c92e,#f9c72e,#f3e433,#f2e534,#f2e534,#e0e640,#afda67,#aad96c,#c1de58,#c1de58,#b1db66,#b2db65,#abd96b,#a0d774,#94d47f,#b5db63,#b0da67,#9ed675,#c3df57,#cee24e,#9fd674,#adda69,#a6d86f,#9ed675,#98d57b,#d6e448,#b4db63,#abd96b,#c0de59,#d1e24c,#dae545,#bede5b,#c8e053,#c1de58,#cae151,#cde14f,#c7e053,#efe636,#d8e447,#ece638,#e6e83c,#d1e24c,#f5e432,#f7d530,#f6dc31,#f6dd31,#f9ba2d,#f8d02f,#f9be2d,#f8b72c,#f9c42e,#f8d22f,#f3e533,#f9c42e,#f9ba2d,#f8d12f,#f6dc31,#f9c62e,#f9cb2e,#f2e534,#ece638,#f6df31,#f9c32e,#f9ba2d,#f6e031,#f5e332,#f7d430)"></i>
<i style="left:26.89px;top:26.89px;width:135.42px;height:135.42px;background:conic-gradient(#f6dd31,#f9c92e,#f8d12f,#f9cc2e,#f8d02f,#f9bc2d,#f8b52c,#f9ba2d,#f8a42b,#f8ae2c,#f8af2c,#f8b02c,#f8a62b,#f79a2b,#f79e2b,#f6902a,#f6902a,#f8a52b,#f9be2d,#f8ae2c,#f6922a,#f68e2a,#f58b2a,#f8a72b,#f8b52c,#f8a62b,#f8a52b,#f9c62e,#f8ce2f,#f9c62e,#f7d430,#f8d12f,#eae739,#ede637,#f0e536,#dde643,#afda67,#afda67,#c3df57,#c1de58,#b3db64,#b5dc62,#b0da66,#a7d86e,#98d57b,#b8dc60,#afda68,#9bd678,#c7e054,#cde14f,#9ed675,#b1da66,#b0da67,#a2d772,#9dd676,#dde643,#bddd5b,#b0da67,#c3df57,#d2e34b,#dde643,#bddd5c,#c4df56,#c7e054,#cce150,#d0e24d,#cee24e,#f5e432,#e2e73f,#f0e536,#ece638,#d9e546,#f7d930,#f9c92e,#f8d22f,#f7d430,#f8af2c,#f9c52e,#f8b42c,#f8ac2b,#f8b62c,#f9cc2e,#f6e031,#f9bf2d,#f8b52c,#f8d12f,#f7d930,#f9c72e,#f8ce2f,#f0e536,#eae739,#f2e534,#f9c82e,#f9c42e,#f4e433,#efe536,#f6dd31)"></i>
<i style="left:28.88px;top:28.88px;width:131.44px;height:131.44px;background:conic-gradient(#f5e432,#f8cc2f,#f7d330,#f8d22f,#f7d330,#f9c12d,#f9be2d,#f9c02d,#f8a92b,#f8b12c,#f8ac2b,#f8af2c,#f8ad2c,#f79d2b,#f7a02b,#f6922a,#f6922a,#f8a52b,#f9c22d,#f8ae2c,#f7982b,#f6912a,#f6922a,#f8ac2c,#f9bc2d,#f8b42c,#f8b12c,#f8ce2f,#f8d22f,#f8d12f,#f6e031,#f6dd31,#dee642,#e9e73a,#ece638,#dde643,#b1db65,#b0da66,#c3df57,#c0de5a,#b3db64,#badd5e,#b3db64,#abd96b,#99d57a,#b7dc61,#aad96b,#98d57b,#c5df56,#cee24e,#9ad579,#b0da67,#b8dc60,#abd96b,#a1d773,#e4e73e,#c6df55,#b5db63,#c8e053,#d9e546,#dee642,#bddd5c,#c2df57,#cae151,#d3e34a,#d0e24d,#d8e447,#f6de31,#eae739,#f5e132,#f4e433,#e1e73f,#f8cf2f,#f9c02d,#f9c82e,#f9c92e,#f8a72b,#f9be2d,#f8aa2b,#f79b2b,#f8a32b,#f9bb2d,#f7d630,#f8b32c,#f8ab2b,#f8cf2f,#f7d730,#f9c62e,#f9cb2e,#ece638,#e8e73b,#f0e536,#f8cc2f,#f9c82e,#f0e535,#ece638,#f5e432)"></i>
<i style="left:30.87px;top:30.87px;width:127.46px;height:127.46px;background:conic-gradient(#eee637,#f8d22f,#f8d32f,#f7d930,#f6dd31,#f9c82e,#f9c42e,#f9c12d,#f8af2c,#f8b12c,#f8a92b,#f8b02c,#f8ad2c,#f8a12b,#f8a22b,#f6952a,#f6942a,#f8a72b,#f9c12d,#f8b02c,#f79c2b,#f6962a,#f79a2b,#f8b62c,#f9c12d,#f9b92d,#f8b72c,#f7d830,#f7d430,#f6dd31,#f4e433,#f5e432,#d1e24c,#e6e83c,#eae73a,#dbe544,#afda67,#b6dc61,#c9e053,#c4df56,#b8dc60,#bddd5c,#b7dc60,#b2db64,#9ed675,#b9dc5f,#a8d86d,#95d47e,#c2df57,#cce150,#99d57a,#aeda68,#bddd5c,#b3db64,#a9d96d,#e8e73a,#cce150,#b9dc5f,#cae151,#d8e447,#dce544,#bfde5b,#c3df57,#d0e24d,#d5e449,#d5e449,#e6e83c,#f8d32f,#f3e533,#f7d930,#f6df31,#e8e83b,#f9c52e,#f8b52c,#f9bd2d,#f9bb2d,#f79c2b,#f8b22c,#f79e2b,#f6922a,#f7982b,#f8ac2c,#f8cf2f,#f8ad2c,#f8a52b,#f9cc2e,#f7d430,#f9c72e,#f9c92e,#ece638,#e8e73b,#ede637,#f7d530,#f7d530,#eae739,#e5e83d,#eee637)"></i>
<i style="left:32.86px;top:32.86px;width:123.47px;height:123.47px;background:conic-gradient(#eae739,#f7d930,#f8d32f,#f6dd31,#f5e432,#f8d02f,#f8cd2f,#f9c32e,#f8ae2c,#f8af2c,#f8ab2b,#f8b42c,#f8ae2c,#f79f2b,#f8a32b,#f7982b,#f6962a,#f8a82b,#f9c12d,#f8ac2c,#f79e2b,#f6952a,#f7992b,#f9b82d,#f9c12d,#f9ba2d,#f9ba2d,#f6dd31,#f8d12f,#f5e232,#f3e433,#f4e433,#cde14f,#eae739,#eae739,#d9e546,#acd96a,#b7dc61,#cae052,#c7e054,#badd5e,#bfde5a,#b9dc5f,#b6dc61,#9ed676,#b6dc62,#a6d86e,#93d480,#c5df55,#cce150,#99d57b,#b2db65,#c2df57,#b9dc5f,#b0da67,#eae739,#d6e448,#bede5b,#cde14f,#d8e447,#dde643,#bddd5c,#c1de58,#d5e449,#dde643,#e1e740,#ece638,#f8ce2f,#f6e031,#f8d02f,#f7d630,#ece638,#f9ba2d,#f8ab2b,#f8ae2c,#f8ad2c,#f6932a,#f8a52b,#f6952a,#f5892a,#f68d2a,#f79e2b,#f9c42e,#f8a72b,#f79e2b,#f9cb2e,#f7d530,#f9cb2e,#f9cc2e,#ece638,#eae73a,#ebe739,#f7d930,#f6dc31,#e5e83d,#e3e73e,#eae739)"></i>
<i style="left:34.86px;top:34.86px;width:119.49px;height:119.49px;background:conic-gradient(#e7e83b,#f6dc31,#f7d430,#f6dc31,#f5e132,#f8ce2f,#f8d02f,#f9c02d,#f8ab2b,#f8ab2b,#f8a42b,#f8b12c,#f8ab2b,#f79d2b,#f79d2b,#f6912a,#f68f2a,#f8a22b,#f8b62c,#f8a52b,#f79a2b,#f6902a,#f7982b,#f8b42c,#f9bd2d,#f9b82d,#f9b82d,#f6da31,#f9c92e,#f6de31,#f5e232,#f6e031,#c9e052,#e8e83b,#e9e73a,#dae546,#acd96a,#bbdd5e,#cce150,#cce150,#bfde5a,#bede5b,#b8dc60,#b8dc60,#9ed676,#b3db64,#a1d773,#8ed384,#bfde5a,#c3df57,#95d47e,#afda67,#c2df57,#b5dc62,#afda67,#eae73a,#dae546,#bbdd5e,#cce150,#d3e34a,#d8e447,#badd5e,#bede5b,#d2e34c,#d7e448,#e0e641,#eee637,#f8cf2f,#f6da31,#f8cf2f,#f8d02f,#f3e533,#f8b22c,#f8a32b,#f8a42b,#f8a22b,#f5892a,#f79b2b,#f58b2a,#f47d29,#f48029,#f68f2a,#f8b72c,#f79f2b,#f7972b,#f9c52e,#f8ce2f,#f9ca2e,#f8cd2f,#ebe739,#ebe739,#ebe738,#f6dc31,#f5e132,#e3e73e,#e2e73f,#e7e83b)"></i>
<i style="left:36.85px;top:36.85px;width:115.51px;height:115.51px;background:conic-gradient(#eae73a,#f6da31,#f8cf2f,#f7d830,#f6dd31,#f9c62e,#f8cd2f,#f9b82d,#f8a32b,#f8a12b,#f7982b,#f8a62b,#f8a32b,#f6952a,#f6942a,#f58b2a,#f5882a,#f79a2b,#f8ac2c,#f79f2b,#f7982b,#f68d2a,#f6962a,#f8b12c,#f9bc2d,#f8b42c,#f8b52c,#f8d32f,#f9bf2d,#f7da30,#f6de31,#f7d930,#cbe151,#eae739,#e8e73b,#d4e34a,#acd96a,#bddd5c,#cae052,#cde14f,#bcdd5d,#b8dc60,#b2db65,#b2db65,#9bd678,#acd96a,#9bd579,#88d18b,#b5db63,#badd5e,#91d381,#a7d86e,#bcdd5c,#b1da66,#a7d86e,#dee642,#d0e24c,#b3db64,#bfde5a,#c5df55,#cde14f,#afda67,#b5db62,#cce150,#cee24e,#d8e447,#eae739,#f8d22f,#f7d930,#f8cf2f,#f9cc2e,#f6da31,#f8a92b,#f79d2b,#f79b2b,#f79b2b,#f5832a,#f6912a,#f47e29,#f36d28,#f36f28,#f47d29,#f8a62b,#f6952a,#f68f2a,#f9bc2d,#f9c42e,#f9c32e,#f9c22d,#f2e534,#f2e534,#f0e535,#f6db31,#f6de31,#e3e73e,#e7e83c,#eae73a)"></i>
<i style="left:38.84px;top:38.84px;width:111.52px;height:111.52px;background:conic-gradient(#ece638,#f7d830,#f9ca2e,#f8d12f,#f7d630,#f9c02d,#f9c92e,#f8af2c,#f79b2b,#f6962a,#f58b2a,#f79e2b,#f79a2b,#f58a2a,#f58a2a,#f5852a,#f47e29,#f68f2a,#f79f2b,#f7972b,#f7982b,#f58a2a,#f6952a,#f8ae2c,#f9b92d,#f8ad2c,#f8b32c,#f9cc2e,#f9b82d,#f7d430,#f7d330,#f8d32f,#c9e053,#e9e73a,#e9e73a,#d4e34a,#aeda68,#c1de58,#cae052,#c9e052,#b8dc60,#b4db64,#b1db66,#add969,#98d57b,#a4d870,#96d47d,#82d091,#abd96a,#b3db64,#8cd287,#9fd675,#b6dc61,#aad96b,#a3d771,#d4e34a,#c9e052,#a7d86e,#b4db63,#bcdd5d,#c4df56,#a5d86f,#acd969,#c2df58,#c6df55,#d4e34a,#e9e73a,#f7d830,#f6da31,#f9cc2e,#f9c62e,#f8d12f,#f8a32b,#f6942a,#f6912a,#f6902a,#f47929,#f5862a,#f37328,#f15e27,#f26127,#f36b28,#f68f2a,#f5822a,#f48029,#f8af2c,#f8b52c,#f9bd2d,#f9ba2d,#f6de31,#f6dd31,#f5e132,#f7d730,#f6db31,#e8e83b,#ece738,#ece638)"></i>
<i style="left:40.83px;top:40.83px;width:107.54px;height:107.54px;background:conic-gradient(#ede637,#f7d830,#f9c72e,#f9cb2e,#f8ce2f,#f9b92d,#f9c62e,#f8a52b,#f68e2a,#f5892a,#f47e29,#f6962a,#f68e2a,#f48029,#f47e29,#f47929,#f37528,#f5852a,#f7982b,#f6922a,#f7972b,#f5872a,#f6932a,#f8a92b,#f8b22c,#f8a62b,#f8ae2c,#f9c42e,#f8ae2c,#f8ce2f,#f9ca2e,#f8ce2f,#cae151,#ebe739,#ebe738,#d3e34a,#aeda68,#c2df57,#c7e054,#c4df56,#b2db65,#afda67,#adda69,#abd96b,#98d57b,#a0d674,#90d382,#80d094,#a6d86f,#aeda68,#86d18c,#98d57b,#adda69,#a5d86f,#9dd677,#cce150,#c4df56,#9ed676,#acd96a,#b1db65,#badd5f,#a1d773,#a8d86d,#bbdd5d,#bddd5c,#cde14f,#e5e83d,#f6dc31,#f7d730,#f9cc2e,#f9c52e,#f9c72e,#f79d2b,#f68c2a,#f5872a,#f5892a,#f37428,#f47e29,#f36c28,#f05427,#f05126,#f15827,#f47e29,#f37028,#f37428,#f8a12b,#f8a42b,#f8ad2c,#f8aa2b,#f8d12f,#f8cd2f,#f7d630,#f7d630,#f7d630,#eae739,#eee636,#ede637)"></i>
<i style="left:42.82px;top:42.82px;width:103.56px;height:103.56px;background:conic-gradient(#efe636,#f7d630,#f9c32d,#f9c92e,#f9c72e,#f8b22c,#f9bf2d,#f79d2b,#f5842a,#f47f29,#f37228,#f58c2a,#f5822a,#f47729,#f37128,#f37028,#f36d28,#f47a29,#f68e2a,#f58a2a,#f6942a,#f5822a,#f68f2a,#f8a22b,#f8a82b,#f79c2b,#f8a72b,#f9bd2d,#f8a82b,#f9ca2e,#f9c72e,#f8d12f,#c7e054,#e8e83b,#ebe739,#cee24e,#abd96a,#c1de58,#c6e054,#c0de59,#b0da66,#abd96b,#abd96a,#a3d771,#94d47f,#9ad57a,#8bd287,#7ccf98,#9ed676,#a5d86f,#82d091,#92d481,#a4d870,#9fd675,#98d57b,#bfde5a,#bcdd5d,#98d57b,#a1d773,#a7d86e,#b1db66,#9ad579,#a1d772,#b3db64,#b5db62,#c9e052,#dde643,#f3e533,#f6df31,#f7d330,#f8cf2f,#f9cc2e,#f8a72b,#f6932a,#f6902a,#f68e2a,#f37528,#f47729,#f26427,#ef4c26,#ef4b26,#ef4b26,#f36c28,#f16027,#f26527,#f6922a,#f6962a,#f7a12b,#f79e2b,#f9c22d,#f9c22d,#f9cc2e,#f8ce2f,#f8cf2f,#ede637,#f3e533,#efe636)"></i>
<i style="left:44.81px;top:44.81px;width:99.57px;height:99.57px;background:conic-gradient(#f3e433,#f8cf2f,#f9be2d,#f9c02d,#f9be2d,#f8a92b,#f8b42c,#f68e2a,#f47729,#f37228,#f26727,#f5822a,#f47729,#f36e28,#f26727,#f26527,#f26227,#f36f28,#f5842a,#f47d29,#f68e2a,#f37528,#f5862a,#f79d2b,#f8a42b,#f6962a,#f8a42b,#f9bc2d,#f8a92b,#f9cc2e,#f9c72e,#f7d930,#c1de58,#e2e73f,#e9e73a,#c8e053,#a8d86d,#c0de5a,#c4df56,#bfde5a,#acd96a,#a5d870,#a8d86d,#a2d772,#93d480,#95d47e,#87d18b,#7bcf9a,#99d57a,#9ed675,#7ed097,#89d289,#9ed675,#99d57a,#95d47f,#b6dc62,#b0da66,#91d382,#9cd677,#9dd676,#a4d870,#94d47f,#9cd678,#abd96b,#aeda68,#c3df57,#d8e447,#eee637,#f3e534,#f6df31,#f6dd31,#f7d530,#f8b32c,#f8a22b,#f79d2b,#f7992b,#f5822a,#f5842a,#f26a27,#ef4a26,#ef4726,#ee4326,#f16027,#f05627,#f05627,#f5842a,#f5872a,#f6922a,#f68f2a,#f8b52c,#f8b42c,#f9c22d,#f9c62e,#f9c42e,#f2e534,#f6e031,#f3e433)"></i>
<i style="left:46.80px;top:46.80px;width:95.59px;height:95.59px;background:conic-gradient(#f7d530,#f9bf2d,#f8ac2c,#f8ad2c,#f8aa2b,#f7992b,#f8a32b,#f47b29,#f26527,#f16027,#f05527,#f37528,#f26827,#f26427,#f15827,#f05427,#f05427,#f26127,#f37228,#f36e28,#f5822a,#f26b27,#f47e29,#f6912a,#f79a2b,#f68e2a,#f8a22b,#f9bc2d,#f8a72b,#f8ce2f,#f8cd2f,#f6df31,#bfde5a,#dfe641,#e7e83b,#c5df56,#a8d86d,#bede5b,#c4df56,#bddd5c,#a9d96c,#9fd674,#a6d86f,#9ed676,#93d480,#93d480,#85d18d,#7acf9b,#95d47e,#9ad57a,#7ccf99,#86d18c,#99d57b,#93d47f,#91d382,#abd96a,#a3d771,#89d289,#93d480,#96d47d,#9fd675,#8ed385,#99d57a,#a3d771,#a5d870,#bbdd5e,#cae151,#e0e640,#ebe738,#efe636,#f0e536,#f5e332,#f9c92e,#f9b82d,#f8ac2c,#f8ad2c,#f6912a,#f68d2a,#f37428,#f05627,#ef4f26,#ee4226,#f15827,#ef4c26,#ef4926,#f37128,#f37028,#f48129,#f47d29,#f8a32b,#f8a62b,#f8b12c,#f9b82d,#f9b92d,#f7d930,#f8cd2f,#f7d530)"></i>
<i style="left:48.80px;top:48.80px;width:91.61px;height:91.61px;background:conic-gradient(#f8b52c,#f8a42b,#f6922a,#f6922a,#f6912a,#f5832a,#f68e2a,#f26127,#ef4c26,#ef4b26,#ee4226,#f26727,#f15a27,#f05727,#ef4d26,#ef4926,#ee4226,#f05226,#f26227,#f16027,#f37328,#f15e27,#f37228,#f5862a,#f6922a,#f5882a,#f8a22b,#f9b92d,#f8a62b,#f8ce2f,#f8d02f,#f4e433,#bede5b,#d7e447,#e4e73e,#c0de59,#a9d96c,#c0de59,#c3df57,#bbdd5d,#a4d770,#9cd677,#a2d772,#98d57b,#8fd383,#8ed385,#82d092,#78ce9f,#92d481,#94d47f,#77cea0,#80d094,#93d480,#8dd286,#86d18c,#9ed676,#9ad579,#81d092,#89d289,#8ad289,#94d47f,#84d18e,#93d480,#9bd678,#9dd677,#afda67,#bbdd5d,#cde14f,#dbe544,#dfe642,#dde643,#ece638,#f6de31,#f7d530,#f9c82e,#f8ce2f,#f8af2c,#f8a42b,#f58b2a,#f36b28,#f15e27,#ef4b26,#f05727,#ef4726,#ee4126,#f26227,#f15b27,#f26927,#f26427,#f58c2a,#f68e2a,#f6952a,#f79c2b,#f79e2b,#f9bc2d,#f8ae2c,#f8b52c)"></i>
<i style="left:50.79px;top:50.79px;width:87.63px;height:87.63px;background:conic-gradient(#f6952a,#f58a2a,#f37628,#f47729,#f37428,#f26527,#f37528,#ef4926,#eb3926,#eb3a26,#e93626,#f15927,#ef4d26,#ef4e26,#ec3e26,#ed3e26,#ea3826,#ee4126,#f05427,#f05627,#f26827,#f05427,#f26a27,#f47f29,#f58b2a,#f48029,#f7a02b,#f8b62c,#f8a52b,#f8d02f,#f7d730,#efe536,#bddd5c,#d3e34a,#e1e740,#bbdd5d,#a8d86d,#bede5b,#c2df57,#b8dc60,#a2d772,#9ad579,#9cd677,#93d480,#8cd286,#88d28a,#7dd097,#75cea2,#8dd385,#8fd383,#74cea4,#7bcf9a,#8cd287,#85d18d,#7fd095,#94d47f,#90d382,#7acf9b,#81d093,#7fd095,#8cd287,#7fd095,#8ed385,#94d47f,#94d47f,#a2d772,#aeda68,#badd5e,#c9e052,#c8e053,#c9e052,#dde643,#e9e73a,#ece638,#f5e332,#efe536,#f8d02f,#f9c72e,#f8ab2b,#f5892a,#f47729,#f15c27,#f15e27,#ef4f26,#ee4626,#f15d27,#ef4d26,#f05126,#ef4826,#f36f28,#f36e28,#f37628,#f47b29,#f47c29,#f7992b,#f68d2a,#f6952a)"></i>
<i style="left:52.78px;top:52.78px;width:83.64px;height:83.64px;background:conic-gradient(#f26827,#f26327,#f05326,#f05827,#f05527,#ef4a26,#f15b27,#e93426,#e32627,#e52927,#e52a27,#ee4626,#ec3c26,#ee4326,#e83227,#e93426,#e62d27,#e93426,#ee4526,#ef4826,#f15a27,#ef4926,#f26127,#f37628,#f48129,#f37628,#f79a2b,#f8b42c,#f8a62b,#f8d12f,#f6db31,#ece638,#badd5e,#cfe24d,#dae545,#b5dc62,#a5d870,#b9dc5f,#bede5b,#b8dc60,#9fd675,#96d57d,#9bd678,#8fd384,#89d28a,#84d18f,#7acf9c,#73cea5,#89d289,#8bd288,#6fcdaa,#76cea1,#85d18d,#80d093,#79cf9d,#89d289,#86d18d,#73cea5,#78cf9e,#78ce9f,#84d18f,#78cf9e,#88d18a,#8dd286,#8ed384,#9ad579,#a5d870,#a9d96c,#b9dc5f,#b4db63,#b5dc62,#c9e052,#d0e24c,#d4e34a,#e4e73d,#d3e34b,#e9e73a,#f0e536,#f8cd2f,#f8a92b,#f7972b,#f47829,#f36f28,#f15e27,#ef4f26,#f26127,#ee4626,#ee4226,#e93526,#f05226,#f05126,#f05527,#f15927,#f05326,#f36e28,#f16027,#f26827)"></i>
<i style="left:54.77px;top:54.77px;width:79.66px;height:79.66px;background:conic-gradient(#ed3f26,#ed3e26,#e93426,#eb3926,#ea3926,#e93426,#ee4526,#e22527,#d52226,#d92327,#dc2327,#ec3c26,#e83327,#ec3d26,#e52a27,#e72f27,#e62c27,#e83227,#ed3f26,#ed3f26,#f05026,#ed3e26,#f15a27,#f36e28,#f47a29,#f36b28,#f79c2b,#f9b92d,#f8b02c,#f7d630,#f6e031,#e7e83b,#b6dc61,#cce150,#d6e448,#b4db63,#a5d870,#b4db63,#bcdd5c,#b4db63,#9cd677,#91d381,#96d47d,#87d18b,#84d18f,#7ed097,#78cf9e,#73cea4,#84d18f,#85d18e,#6acdb1,#70cda8,#7ed096,#7acf9c,#73cea5,#81d093,#7ed097,#6acdb2,#70cda8,#70cda9,#7bcf9a,#72cda7,#81d093,#83d090,#86d18c,#92d481,#9ad579,#9bd678,#a6d86f,#a0d774,#a3d771,#b7dc61,#b7dc61,#b4db63,#c4df56,#b2db64,#c4df56,#cbe151,#ebe739,#f8ce2f,#f9bc2d,#f7972b,#f5892a,#f37528,#f16027,#f26a27,#ef4726,#ed3f26,#e62e27,#ee4326,#ed3e26,#eb3b26,#eb3a26,#e83127,#ee4526,#ea3726,#ed3f26)"></i>
<i style="left:56.76px;top:56.76px;width:75.68px;height:75.68px;background:conic-gradient(#e52a27,#e62c27,#e32527,#e72f27,#e62c27,#e52927,#ec3b26,#da2327,#d22126,#d52226,#df2427,#ed3e26,#e83327,#ed4026,#e52c27,#e72f27,#e62c27,#e72f27,#eb3a26,#eb3a26,#ee4626,#ea3726,#f05627,#f36c28,#f47c29,#f47729,#f8a62b,#f9c42e,#f9b82d,#f7d930,#f5e332,#e6e83c,#badd5f,#cde14f,#d6e448,#b3db64,#a6d86e,#b2db64,#bbdd5d,#b5db63,#9cd678,#90d382,#96d47d,#84d18e,#83d190,#7ccf99,#77ce9f,#74cea3,#83d090,#84d18f,#6bcdb0,#6ecdac,#7ccf99,#7bcf9b,#75cea2,#7fd095,#7ccf99,#6bcdb0,#70cda9,#70cda9,#79cf9d,#70cda8,#80d094,#80d093,#82d091,#8cd287,#94d47f,#92d481,#9cd678,#94d47f,#97d57c,#a9d96c,#a3d771,#9ed676,#acd969,#9dd677,#a5d86f,#a9d96c,#c6df55,#e7e83b,#f4e433,#f9bd2d,#f8a42b,#f68e2a,#f37128,#f37128,#ee4626,#eb3b26,#e42727,#eb3926,#e83327,#e52b27,#e42927,#d92327,#e52b27,#de2427,#e52a27)"></i>
<i style="left:58.75px;top:58.75px;width:71.69px;height:71.69px;background:conic-gradient(#d32126,#db2327,#d92327,#e12527,#dd2427,#dd2427,#e83227,#d62227,#d12126,#d42126,#e02427,#ec3d26,#e83227,#ee4326,#e72f27,#e73127,#e62c27,#e72f27,#eb3926,#ec3e26,#f05126,#ef4626,#f26927,#f48029,#f68c2a,#f5882a,#f8b72c,#f8ce2f,#f9c02d,#f6da31,#f2e534,#e2e73f,#bbdd5d,#cde14f,#cfe24e,#aeda68,#a3d771,#afda68,#b9dc5f,#b5db63,#9cd677,#91d382,#97d57c,#84d18f,#83d190,#7acf9c,#77cea0,#78cf9e,#84d18f,#84d18f,#70cda9,#71cda8,#7fd096,#7dcf98,#77ce9f,#81d092,#7ccf99,#6dcdad,#6fcdaa,#71cda7,#7ccf99,#72cea5,#82d091,#80d093,#82d091,#8cd286,#93d480,#8fd384,#99d57b,#92d381,#94d47f,#a4d870,#9fd675,#98d57b,#a2d772,#93d480,#95d47e,#94d47f,#a4d771,#bbdd5d,#c8e053,#efe636,#f9cb2e,#f8af2c,#f68e2a,#f5852a,#f05427,#ed3f26,#e32527,#e83327,#e52927,#dd2427,#d82327,#c71f26,#d92327,#cc2026,#d32126)"></i>
<i style="left:60.74px;top:60.74px;width:67.71px;height:67.71px;background:conic-gradient(#d02126,#d82327,#da2327,#e22527,#dd2427,#dc2327,#e83127,#d92327,#d52226,#d82227,#e52b27,#ee4226,#ea3926,#f05527,#ec3d26,#ee4526,#ed4026,#ef4a26,#f05727,#f15927,#f26a27,#f26227,#f5812a,#f6952a,#f7a02b,#f79e2b,#f9cb2e,#f7da30,#f9c92e,#f6de31,#f1e534,#dee642,#c0de5a,#cde14f,#cee24e,#abd96b,#a3d772,#abd96a,#badd5e,#b5dc62,#9fd675,#94d47f,#99d57a,#83d18f,#82d091,#7bcf9b,#7acf9c,#7dd097,#85d18d,#86d18d,#75cea2,#74cea3,#81d092,#80d094,#7ccf9a,#83d18f,#7dd097,#70cda8,#71cda8,#73cea5,#7dcf98,#72cea6,#82d091,#80d094,#82d091,#8cd286,#92d481,#8ed385,#98d57b,#90d383,#91d382,#a4d870,#9ed675,#98d57b,#a4d771,#96d47d,#95d47e,#90d383,#9ad579,#a2d772,#a0d774,#bbdd5d,#e2e73f,#f5e132,#f8b52c,#f79e2b,#f36b28,#f05226,#e93426,#ec3c26,#e62e27,#da2327,#d32126,#bf1e24,#d22126,#ca1f26,#d02126)"></i>
<i style="left:62.74px;top:62.74px;width:63.73px;height:63.73px;background:conic-gradient(#d82327,#e12427,#e32627,#e62d27,#e12527,#e02427,#eb3b26,#e12527,#de2427,#e12527,#ea3826,#ef4e26,#ee4226,#f26427,#f05126,#f26327,#f15f27,#f26a27,#f37528,#f47929,#f5882a,#f47c29,#f7982b,#f8ac2c,#f9b92d,#f8b52c,#f6dc31,#f5e232,#f8d12f,#f6e031,#f0e535,#dae545,#c1de58,#cde14f,#cae151,#a9d96c,#a3d772,#a5d86f,#badd5e,#b6dc62,#a0d774,#95d47e,#9ad57a,#84d18e,#83d090,#7ccf98,#7ccf99,#83d190,#87d18b,#89d289,#77ce9f,#77ce9f,#84d18f,#81d093,#7ccf99,#82d092,#7dcf98,#73cea5,#72cea6,#75cea2,#7ed096,#73cea4,#83d090,#7fd096,#83d090,#8cd287,#91d382,#8bd287,#99d57b,#8ed385,#90d383,#a6d86f,#9fd675,#97d57c,#a4d870,#98d57c,#95d47e,#90d383,#98d57b,#9cd677,#95d47e,#9fd674,#b3db64,#bddd5c,#e8e73a,#f8d22f,#f68f2a,#f36c28,#ef4926,#f05527,#ee4626,#e62d27,#e02427,#cd2026,#db2327,#d22126,#d82327)"></i>
<i style="left:64.73px;top:64.73px;width:59.74px;height:59.74px;background:conic-gradient(#e62d27,#ea3726,#ec3e26,#ee4326,#eb3a26,#ec3e26,#f15b27,#ee4126,#ed3f26,#ed4026,#f15a27,#f36b28,#f26327,#f5892a,#f47629,#f5892a,#f5862a,#f68f2a,#f7972b,#f7992b,#f8a62b,#f79c2b,#f8b52c,#f9c42e,#f8d12f,#f9c92e,#f0e535,#f1e535,#f7d930,#f5e432,#ece638,#d8e447,#c2df57,#cee24e,#c7e054,#a6d86e,#a2d772,#a2d772,#bbdd5e,#b4db64,#a0d774,#96d47e,#9bd579,#85d18d,#81d092,#7bcf9a,#7dd097,#88d18b,#89d289,#8bd288,#7ccf9a,#7acf9b,#85d18d,#84d18f,#7fd095,#83d090,#7dcf98,#74cea3,#73cea5,#76cea1,#80d094,#75cea2,#84d18e,#7ed096,#81d092,#8bd287,#91d382,#88d18a,#96d47d,#8dd385,#90d383,#a3d771,#9ed676,#94d47f,#a4d870,#97d57c,#92d481,#8fd384,#98d57b,#9bd678,#92d481,#99d57a,#a0d773,#99d57a,#abd96b,#c6df55,#f9cb2e,#f79d2b,#f37328,#f37628,#f26527,#ef4826,#ea3726,#e32527,#e72e27,#e32527,#e62d27)"></i>
<i style="left:66.72px;top:66.72px;width:55.76px;height:55.76px;background:conic-gradient(#f26327,#f37128,#f47a29,#f5822a,#f37428,#f47929,#f6952a,#f47929,#f47829,#f47829,#f6902a,#f79b2b,#f6912a,#f9b92d,#f8a22b,#f8b12c,#f8ad2c,#f8b52c,#f8b62c,#f8b72c,#f9c02d,#f9b82d,#f8d02f,#f6db31,#f5e332,#f6dd31,#e6e83c,#e8e73a,#f3e533,#efe636,#e4e73e,#cce150,#bddd5b,#c7e054,#bede5b,#9ed675,#a0d774,#9dd677,#b3db64,#acd96a,#9dd677,#95d47e,#97d57c,#83d090,#7fd095,#7acf9b,#7ed097,#89d289,#89d289,#8bd288,#7bcf9b,#7bcf9b,#84d18f,#82d091,#7fd096,#81d093,#7bcf9a,#77cea0,#73cea5,#76cea1,#80d094,#76cea0,#84d18e,#7dcf98,#7fd095,#88d28a,#8ed385,#83d090,#91d382,#89d289,#8ed384,#9ed675,#98d57b,#8fd383,#a1d773,#94d47f,#90d383,#8cd287,#93d480,#97d57c,#8ed384,#94d47f,#9bd678,#91d382,#97d57d,#9bd678,#cfe24d,#f1e535,#f8b62c,#f8b42c,#f79d2b,#f47829,#f26227,#ef4c26,#f15c27,#f15927,#f26327)"></i>
<i style="left:68.71px;top:68.71px;width:51.78px;height:51.78px;background:conic-gradient(#f79b2b,#f8ad2c,#f8b52c,#f9bb2d,#f8ab2b,#f8af2c,#f9cc2e,#f8b02c,#f8ae2c,#f8a72b,#f9c52e,#f9c82e,#f9b92d,#f3e533,#f9cb2e,#f7d830,#f8d02f,#f7d730,#f7d430,#f7d530,#f7d930,#f8d02f,#f2e534,#ede637,#e8e73b,#ede637,#d6e449,#dde643,#eae739,#e6e83c,#d7e448,#c1de59,#b6dc62,#bfde5a,#b3db64,#9ad57a,#9cd677,#97d57c,#aeda68,#a5d870,#9ad57a,#93d480,#94d47f,#80d094,#7ccf99,#79cf9d,#7dcf98,#8ad288,#86d18c,#88d28a,#7bcf9b,#7bcf9a,#81d092,#80d094,#7ed096,#7fd096,#7acf9c,#77cea0,#73cea5,#79cf9d,#80d094,#77cea0,#84d18f,#7ccf99,#7fd096,#85d18d,#89d289,#7fd095,#8bd287,#85d18d,#8bd288,#9ad57a,#92d481,#8bd287,#9dd677,#92d480,#8dd286,#89d28a,#90d383,#93d480,#89d289,#90d383,#97d57c,#8cd286,#92d481,#93d480,#adda69,#bfde5a,#e1e740,#d7e447,#ece638,#f9c32d,#f8a72b,#f6912a,#f7982b,#f6942a,#f79b2b)"></i>
<i style="left:70.70px;top:70.70px;width:47.80px;height:47.80px;background:conic-gradient(#f6dd31,#ede637,#e9e73a,#e8e73a,#f5e432,#f4e433,#e2e73f,#f6df31,#f6dc31,#f7d330,#eee637,#f2e534,#f7d830,#d6e449,#f0e535,#e7e83b,#ede637,#e7e83b,#ece738,#ebe739,#ece638,#f3e534,#e2e73f,#dde643,#d8e447,#e0e641,#c5df55,#d4e34a,#dde643,#d7e447,#c9e052,#b8dc60,#b2db65,#b9dc5f,#acd96a,#99d57b,#9ad57a,#93d480,#a9d96c,#a0d773,#98d57c,#91d381,#92d481,#81d093,#7ccf99,#79cf9d,#7ed096,#8bd287,#85d18e,#85d18d,#7bcf9a,#7dcf98,#82d091,#7fd095,#80d094,#7fd095,#7bcf9b,#78cf9e,#74cea4,#79cf9d,#81d093,#79cf9d,#84d18e,#7dcf98,#7ed096,#84d18e,#87d18b,#7ed096,#89d28a,#83d190,#88d18a,#98d57c,#90d383,#8ad289,#98d57b,#91d382,#8bd288,#86d18c,#8cd287,#8fd384,#87d18b,#8bd288,#93d480,#88d18a,#8ed385,#8fd383,#a3d771,#add969,#bbdd5e,#a2d772,#aad96b,#d0e24d,#e7e83b,#f6dd31,#f6de31,#f6db31,#f6dd31)"></i>
<i style="left:72.69px;top:72.69px;width:43.81px;height:43.81px;background:conic-gradient(#c9e052,#b7dc61,#b3db64,#b9dc5f,#cfe24d,#cee24e,#bddd5c,#dce544,#e4e83d,#ebe739,#d5e449,#e2e73f,#ede638,#bfde5a,#e2e73f,#d6e448,#e2e73f,#dbe544,#e7e83b,#e6e83c,#eae73a,#efe636,#dee642,#dae545,#d2e34b,#d5e449,#b9dc5f,#c7e054,#cde14f,#cde14f,#bfde5a,#adda69,#acd96a,#b2db65,#a5d870,#94d47f,#98d57b,#8fd383,#a1d773,#99d57a,#95d47e,#8fd383,#90d383,#82d091,#7bcf9a,#79cf9e,#7dcf98,#8bd288,#84d18e,#84d18f,#7bcf9a,#7ed097,#82d091,#7ed096,#7fd096,#80d094,#7ccf99,#79cf9d,#74cea4,#7ccf9a,#81d092,#79cf9d,#85d18d,#7dcf97,#7ed096,#84d18f,#86d18c,#7ccf99,#85d18d,#83d090,#8ad288,#97d57c,#8fd383,#8cd287,#9bd579,#95d47e,#8dd286,#8ad289,#8ed384,#91d382,#88d28a,#8ad288,#93d480,#8ad288,#8fd384,#91d382,#a1d773,#a9d96d,#b3db64,#98d57b,#98d57b,#afda68,#b9dc5f,#cee24f,#cbe150,#cae151,#c9e052)"></i>
<i style="left:74.69px;top:74.69px;width:39.83px;height:39.83px;background:conic-gradient(#adda69,#a0d774,#9ed676,#a5d86f,#bcdd5c,#bede5b,#b1da66,#cde14f,#d4e349,#dfe642,#cce150,#dee642,#e9e73a,#b8dc60,#dee642,#d1e34c,#dee642,#d4e349,#e5e83d,#e3e73e,#eae739,#eae739,#d6e449,#d4e34a,#cee24e,#cbe151,#add969,#bfde5a,#c2df57,#c2de58,#b3db64,#a3d771,#a7d86e,#abd96a,#a0d774,#92d481,#98d57b,#90d383,#9fd675,#95d47e,#93d480,#90d383,#8ed384,#83d090,#7ccf99,#7bcf9b,#7dcf98,#8bd287,#83d18f,#82d091,#7bcf9a,#7ccf99,#82d092,#80d094,#7fd096,#7fd095,#7bcf9a,#79cf9d,#74cea3,#7ccf98,#81d092,#7bcf9a,#86d18c,#7ed097,#7dcf98,#82d092,#86d18d,#7bcf9a,#85d18e,#81d092,#8ad289,#99d57b,#8fd384,#8dd286,#9dd677,#9ad57a,#8fd384,#8dd286,#90d383,#94d47f,#8bd288,#8bd287,#95d47e,#8dd286,#92d481,#93d480,#a1d773,#a9d96c,#adda69,#8fd384,#8dd385,#a1d773,#a9d96d,#b6dc62,#b7dc61,#aeda68,#adda69)"></i>
<i style="left:76.68px;top:76.68px;width:35.85px;height:35.85px;background:conic-gradient(#adda69,#a1d773,#a1d773,#a5d870,#b8dc60,#bcdd5c,#aeda68,#cae152,#d5e449,#dee642,#cce150,#e1e740,#ece638,#b9dc5f,#dde643,#cfe24d,#dce544,#d2e34c,#e2e73f,#dde643,#eae739,#e6e83c,#d2e34b,#d0e24d,#c8e053,#c2de58,#a1d773,#b7dc61,#badd5e,#b5db62,#a7d86e,#9cd678,#a3d771,#a8d96d,#9dd677,#90d382,#98d57c,#8ed385,#9cd678,#91d382,#90d383,#90d383,#8cd286,#83d18f,#7ccf9a,#7bcf9b,#7dcf97,#8dd286,#83d090,#81d092,#7acf9b,#7dcf98,#82d091,#80d093,#7fd095,#7ed096,#7bcf9a,#79cf9d,#74cea3,#7fd096,#81d092,#7dcf97,#87d18b,#7fd095,#7fd096,#83d091,#85d18d,#7ccf9a,#83d090,#82d092,#8bd287,#99d57b,#90d383,#8ed384,#9fd675,#9ed676,#91d382,#8fd384,#92d481,#96d47d,#8dd385,#8ed385,#96d47d,#8dd385,#94d47f,#95d47e,#a0d774,#abd96b,#afda68,#8ed385,#8ad288,#9dd676,#a2d772,#adda69,#b2db65,#a9d96c,#adda69)"></i>
<i style="left:78.67px;top:78.67px;width:31.86px;height:31.86px;background:conic-gradient(#b0da67,#a5d86f,#a4d770,#a5d86f,#b9dc5f,#b7dc61,#abd96a,#c8e053,#d5e349,#dbe545,#cae151,#e3e73e,#eee637,#bbdd5e,#dee642,#d0e24d,#dae546,#cfe24d,#dfe641,#dae545,#e9e73a,#e0e641,#d1e24c,#cde14f,#c7e054,#bbdd5d,#9bd579,#adda69,#afda68,#a7d86e,#9fd675,#96d47d,#9ed675,#a3d771,#98d57b,#90d383,#96d57d,#8dd286,#99d57a,#8dd385,#8ed385,#8ed385,#8cd286,#86d18c,#7bcf9b,#7bcf9a,#7ed096,#8ed385,#83d190,#80d093,#7acf9b,#7dcf98,#82d092,#7fd095,#7fd095,#7fd095,#7dcf97,#7acf9c,#76cea0,#81d092,#81d092,#7fd095,#88d18a,#81d093,#80d094,#83d090,#84d18f,#7bcf9a,#82d091,#81d092,#8cd286,#98d57c,#90d383,#8fd384,#a1d773,#a2d772,#95d47e,#91d382,#93d480,#9bd579,#90d383,#8ed384,#98d57b,#92d481,#97d57c,#95d47e,#9fd675,#adda69,#b0da67,#8dd385,#8cd287,#9fd675,#a4d771,#aad96c,#b4db63,#abd96a,#b0da67)"></i>
<i style="left:80.66px;top:80.66px;width:27.88px;height:27.88px;background:conic-gradient(#b1da66,#a9d96d,#a6d86f,#a4d870,#b9dc5f,#b8dc60,#abd96b,#c7e054,#d7e448,#dae545,#cbe150,#e4e73e,#f0e535,#bbdd5d,#dce544,#d0e24d,#d6e448,#cbe151,#d9e546,#d6e448,#e9e73a,#dde643,#d0e24d,#cee24f,#c9e052,#b8dc60,#97d57c,#a6d86f,#a6d86f,#a1d773,#99d57a,#92d481,#9cd678,#9fd674,#95d47e,#8fd384,#94d47f,#89d289,#95d47e,#8bd288,#8bd287,#8cd287,#8bd288,#8ad288,#7bcf9b,#7acf9c,#7dcf98,#8fd384,#83d090,#80d093,#7ccf99,#7ed096,#80d093,#80d094,#7ed096,#80d093,#7fd096,#7bcf9a,#79cf9d,#83d18f,#82d092,#82d091,#89d289,#82d091,#81d092,#82d091,#82d092,#7ccf99,#81d093,#80d093,#8ed385,#98d57b,#90d383,#90d383,#a4d771,#a7d86e,#97d57c,#94d47f,#95d47e,#9ed676,#92d481,#92d481,#99d57a,#94d47f,#9ad57a,#99d57b,#9dd677,#b0da66,#b1db65,#8fd384,#8dd385,#a0d774,#a3d771,#abd96b,#b8dc60,#abd96b,#b1da66)"></i>
<i style="left:82.65px;top:82.65px;width:23.90px;height:23.90px;background:conic-gradient(#a9d96c,#a5d86f,#a1d773,#9ed675,#aeda68,#adda69,#a4d770,#bddd5c,#cde14f,#cfe24e,#c3df57,#dce544,#ebe739,#b3db64,#cfe24d,#c6df55,#cae151,#bcdd5d,#cde24f,#c7e054,#e0e641,#cfe24e,#c6df55,#c3df57,#bcdd5d,#adda69,#92d381,#a0d774,#9fd675,#9cd678,#95d47e,#8fd384,#9ad57a,#9cd677,#91d382,#8ed384,#93d480,#88d18a,#92d481,#89d28a,#8ad288,#8bd287,#8ad288,#8cd287,#7acf9b,#79cf9d,#7dcf98,#8fd383,#83d090,#80d094,#7dcf98,#81d093,#81d093,#7fd094,#80d094,#81d093,#80d094,#7ccf99,#7bcf9b,#84d18f,#82d092,#83d090,#8ad289,#84d18f,#82d091,#82d092,#82d092,#7ccf99,#7fd095,#81d093,#8ed385,#96d47d,#8ed385,#8fd384,#a1d773,#a7d86e,#98d57b,#96d57d,#95d47e,#9ed676,#91d382,#90d383,#99d57b,#95d47e,#9dd677,#9ad579,#99d57a,#abd96a,#adda69,#8fd384,#8cd286,#9ed676,#9fd675,#a4d870,#b4db63,#a4d870,#a9d96c)"></i>
<i style="left:84.64px;top:84.64px;width:19.91px;height:19.91px;background:conic-gradient(#a3d771,#a1d773,#9ed676,#9bd579,#a5d870,#a7d86e,#9ed675,#b4db64,#c5df56,#c5df55,#bddd5c,#d0e24d,#e1e740,#abd96b,#c2df57,#bede5b,#c0de59,#b0da66,#c0de5a,#badd5f,#d2e34c,#c2df57,#bddd5c,#badd5e,#b2db65,#a4d771,#8cd286,#9bd678,#99d57a,#96d47d,#91d382,#8cd286,#99d57b,#9ad579,#8ed384,#8ed385,#92d481,#86d18c,#8ed384,#87d18b,#88d28a,#8bd288,#88d18a,#8dd385,#7ccf9a,#7bcf9a,#7dcf98,#8fd383,#84d18e,#81d092,#7fd095,#81d093,#81d093,#81d093,#80d094,#82d091,#82d091,#7dcf98,#7dcf98,#85d18d,#82d092,#84d18e,#89d28a,#85d18d,#83d190,#82d091,#83d090,#7ed096,#7fd095,#80d093,#8dd385,#96d47d,#8cd286,#8ed385,#a1d773,#a9d96c,#98d57b,#95d47e,#95d47e,#9dd676,#92d481,#90d382,#99d57a,#96d47d,#9cd678,#99d57a,#96d47d,#a7d86e,#a8d86d,#8ed385,#8dd385,#9cd678,#9cd677,#a0d774,#b1da66,#9fd675,#a3d771)"></i>
<i style="left:86.63px;top:86.63px;width:15.93px;height:15.93px;background:conic-gradient(#9dd677,#9fd675,#9cd678,#97d57c,#a0d674,#a0d774,#98d57b,#abd96b,#c0de59,#bbdd5d,#b5db63,#c3df57,#d2e34b,#a1d773,#b9dd5f,#b4db63,#b3db64,#a6d86e,#b6dc61,#acd96a,#c7e053,#b8dc60,#b4db63,#b3db64,#abd96a,#9fd675,#86d18c,#96d47e,#92d381,#8ed384,#8bd287,#8bd287,#96d57d,#97d57c,#8cd286,#8cd286,#91d382,#87d18b,#8cd287,#84d18e,#87d18b,#8ad289,#86d18c,#8dd385,#7ccf9a,#7bcf9a,#7dcf98,#8fd384,#86d18c,#83d090,#82d092,#82d091,#81d093,#82d091,#82d092,#85d18d,#84d18f,#7dcf97,#7fd095,#85d18d,#82d092,#87d18b,#8cd286,#89d289,#85d18e,#81d093,#82d092,#80d094,#80d094,#81d092,#8fd383,#97d57c,#8bd288,#8ed385,#a3d771,#a9d96c,#98d57b,#96d57d,#95d47e,#9ed676,#93d480,#91d382,#9ad579,#99d57a,#9cd678,#98d57b,#94d47f,#a3d771,#a5d86f,#8ed385,#8dd286,#9ad57a,#99d57a,#9cd677,#aeda68,#9cd677,#9dd677)"></i>
<i style="left:88.63px;top:88.63px;width:11.95px;height:11.95px;background:conic-gradient(#97d57c,#9cd677,#99d57b,#93d480,#9bd579,#9dd677,#94d47f,#a2d772,#badd5e,#b1db65,#adda69,#b7dc60,#c5df55,#9ad579,#aeda68,#a9d96c,#a7d86e,#9fd674,#abd96a,#a0d774,#b9dc5f,#a9d96c,#acd96a,#aad96b,#a0d774,#99d57a,#82d091,#91d382,#89d289,#88d28a,#89d289,#8ad289,#94d47f,#93d480,#89d28a,#8ad288,#90d383,#88d18a,#89d28a,#83d090,#85d18d,#88d28a,#84d18e,#90d383,#7bcf9a,#7acf9b,#7dcf98,#8fd384,#87d18b,#83d090,#83d090,#82d092,#7fd095,#82d091,#81d093,#86d18c,#85d18d,#7dd097,#81d092,#86d18c,#81d093,#8ad288,#8ed385,#8dd286,#85d18d,#81d092,#83d090,#82d091,#81d093,#82d091,#90d382,#98d57b,#8ad288,#8dd385,#a0d774,#aad96c,#9ad579,#97d57d,#96d47d,#9ed676,#94d47f,#92d381,#9bd579,#9ad57a,#9bd678,#98d57c,#8fd383,#a0d774,#a2d772,#8ed384,#8cd287,#95d47e,#96d47d,#9ad579,#abd96b,#99d57b,#97d57c)"></i>
<i style="left:90.62px;top:90.62px;width:7.97px;height:7.97px;background:conic-gradient(#93d480,#99d57a,#96d47d,#8ed385,#97d57c,#9ad57a,#90d383,#9dd677,#b1db66,#aad96c,#a6d86f,#add969,#bbdd5e,#95d47e,#a5d870,#a3d772,#9dd677,#98d57b,#a1d773,#98d57b,#aeda68,#9fd675,#a3d771,#a2d772,#9ad57a,#93d480,#7ed096,#8bd288,#83d190,#83d190,#85d18d,#88d18a,#91d382,#90d382,#86d18c,#8ad289,#8cd286,#87d18b,#85d18d,#81d092,#84d18f,#86d18c,#82d091,#90d382,#7dcf98,#7ccf99,#7ed097,#8fd383,#86d18c,#82d091,#84d18f,#82d091,#7fd096,#82d091,#81d092,#87d18b,#86d18c,#7dd097,#84d18f,#86d18c,#80d093,#8cd286,#90d383,#8fd384,#86d18c,#81d093,#82d091,#83d090,#82d091,#84d18f,#92d481,#99d57a,#87d18b,#8dd385,#a0d774,#aad96b,#9bd678,#97d57c,#97d57c,#9ed676,#96d47e,#91d382,#9ad579,#99d57b,#9bd678,#96d47d,#8cd287,#9cd678,#a0d773,#8ed385,#8dd286,#90d382,#93d480,#97d57c,#a7d86e,#96d47d,#93d480)"></i>
<i style="left:92.61px;top:92.61px;width:3.98px;height:3.98px;background:conic-gradient(#91d382,#99d57b,#93d480,#8cd287,#93d480,#96d47d,#8cd287,#97d57c,#a9d96d,#a1d773,#a0d774,#a1d773,#adda69,#8fd383,#9dd677,#9cd677,#94d47f,#91d382,#99d57b,#91d382,#a6d86e,#99d57a,#9dd676,#9cd677,#93d480,#8ed384,#7ccf99,#87d18b,#80d094,#81d093,#84d18f,#87d18b,#8fd383,#8ed385,#84d18e,#89d289,#8cd286,#88d28a,#83d190,#7ed096,#81d092,#84d18e,#82d091,#8fd383,#7dcf98,#7dcf98,#80d094,#91d382,#88d18a,#84d18e,#86d18c,#81d092,#7fd096,#83d090,#80d094,#88d28a,#88d18a,#7ed097,#88d18a,#87d18b,#80d093,#8ed384,#91d382,#90d382,#88d18a,#82d092,#82d091,#85d18e,#85d18e,#85d18d,#91d382,#9ad579,#88d18a,#8ed385,#9ed675,#a9d96c,#9ed676,#9ad579,#97d57c,#9dd677,#95d47e,#91d382,#9ad579,#9bd579,#9cd677,#95d47e,#88d18a,#99d57a,#9ed676,#8dd286,#8cd286,#8ed385,#90d383,#95d47e,#a4d771,#92d481,#91d382)"></i>
</div>
<svg class="ov" style="left:263.2px;top:37.8px" width="200" height="200" viewBox="-100 -100 200 200">
<circle r="23.40" stroke="#b0b0b0" stroke-opacity="0.38" stroke-width="0.5" fill="none"/>
<circle r="46.80" stroke="#b0b0b0" stroke-opacity="0.38" stroke-width="0.5" fill="none"/>
<circle r="70.20" stroke="#b0b0b0" stroke-opacity="0.38" stroke-width="0.5" fill="none"/>
<line x1="0.00" y1="-93.60" x2="-0.00" y2="93.60" stroke="#b0b0b0" stroke-opacity="0.38" stroke-width="0.5" fill="none"/>
<line x1="66.19" y1="-66.19" x2="-66.19" y2="66.19" stroke="#b0b0b0" stroke-opacity="0.38" stroke-width="0.5" fill="none"/>
<line x1="93.60" y1="-0.00" x2="-93.60" y2="0.00" stroke="#b0b0b0" stroke-opacity="0.38" stroke-width="0.5" fill="none"/>
<line x1="66.19" y1="66.19" x2="-66.19" y2="-66.19" stroke="#b0b0b0" stroke-opacity="0.38" stroke-width="0.5" fill="none"/>
<circle r="93.65" stroke="#3c3c3c" stroke-width="0.75" fill="none"/>
</svg>
<div class="pl" style="left:42.4px;top:279.0px">
<i style="left:0.65px;top:0.65px;width:187.90px;height:187.90px;background:conic-gradient(#f9b82d,#f8d12f,#f2e534,#f5e132,#f9b82d,#f9c12d,#f7d330,#f9bc2d,#f7d830,#f9b92d,#f8a32b,#f79d2b,#f9c22d,#f8d12f,#f9c42e,#f9bc2d,#f8d22f,#f8b72c,#f8d02f,#f9bb2d,#f9cc2e,#f9bb2d,#f9c02d,#f5e232,#d5e349,#e5e83d,#c3df57,#9ad579,#90d383,#7bcf9a,#74cea4,#82d091,#42c4ea,#3161ad,#3059aa,#2f54a8,#2e4fa6,#2d4aa4,#2d46a2,#2c44a0,#2c429f,#2c419f,#2c3f9e,#2b3d9d,#2b3b9b,#2b3a98,#2b3997,#2b3895,#2b3794,#2b3895,#2b3896,#2b3997,#2b3b9a,#2b3d9d,#2c3f9e,#2c409e,#2c429f,#2c43a0,#2d46a1,#2d49a3,#2e4ea6,#2f53a8,#305eac,#7acf9c,#79cf9d,#88d28a,#9bd678,#a6d86f,#b6dc62,#d7e447,#ebe739,#f1e535,#f9c32d,#f9bb2d,#f8aa2b,#f79b2b,#f79c2b,#f6962a,#f36c28,#f47f29,#f58a2a,#f5832a,#f37528,#f47e29,#f48029,#f47929,#f37428,#f26727,#f26627,#f36f28,#f5862a,#f6952a,#f79e2b,#f8a22b,#f9be2d,#f9c72e,#f9b82d)"></i>
<i style="left:2.99px;top:2.99px;width:183.22px;height:183.22px;background:conic-gradient(#f8b22c,#f9cb2e,#f5e432,#f6db31,#f8b32c,#f9bc2d,#f9c92e,#f8b62c,#f8d02f,#f8ad2c,#f7982b,#f7982b,#f8b72c,#f9cc2e,#f9c52e,#f9b92d,#f9cc2e,#f8b02c,#f9c82e,#f8b32c,#f9c22d,#f8b12c,#f9ba2d,#f6dd31,#dbe544,#e8e83b,#cae151,#a1d773,#9bd579,#83d190,#7bcf9a,#8dd286,#99d57a,#95d47e,#9cd678,#3fc2ee,#3476ba,#3160ad,#305bab,#2f58aa,#2f56a9,#2f54a8,#2f52a8,#2e50a7,#2e4ea6,#2e4ca5,#2d4aa4,#2d49a3,#2d48a3,#2d49a3,#2d4aa4,#2d4ba4,#2e4ea6,#2e50a7,#2f52a7,#2f53a8,#2f55a9,#2f57a9,#305aab,#305eac,#3268b1,#3fc1ed,#96d57d,#80d093,#81d092,#8fd384,#a5d86f,#b2db65,#bede5b,#e5e83d,#f2e534,#f5e132,#f9b82d,#f8b52c,#f8a72b,#f6952a,#f7992b,#f6962a,#f26b27,#f47829,#f5852a,#f48029,#f37428,#f47e29,#f47d29,#f47d29,#f47729,#f26727,#f15e27,#f26727,#f5812a,#f6952a,#f79d2b,#f79d2b,#f9b92d,#f9c12d,#f8b22c)"></i>
<i style="left:4.98px;top:4.98px;width:179.23px;height:179.23px;background:conic-gradient(#f8b02c,#f9c52e,#f6de31,#f7d830,#f8ae2c,#f8b72c,#f9c22d,#f8b22c,#f9c82e,#f8a52b,#f6902a,#f6912a,#f8ac2c,#f9c32d,#f9c02d,#f8ad2c,#f9c62e,#f8a72b,#f9bc2d,#f8a82b,#f8b42c,#f8a42b,#f8b42c,#f7d630,#e3e73f,#ede637,#d5e449,#abd96a,#a5d870,#8dd286,#82d091,#98d57c,#a3d771,#9cd677,#9fd674,#9cd677,#b2db65,#3fc1ed,#3687c7,#3166b0,#3161ad,#305fac,#305cab,#3059aa,#2f56a9,#2f54a8,#2f53a8,#2f52a8,#2e51a7,#2f52a7,#2f53a8,#2f54a8,#2f56a9,#3059aa,#305cab,#305eac,#3160ad,#3163ae,#357cbe,#3ebeeb,#71cda8,#94d47f,#9cd677,#88d18a,#89d289,#98d57b,#b7dc61,#badd5e,#c8e053,#eae739,#f6dd31,#f7d530,#f8af2c,#f8ae2c,#f8a12b,#f6922a,#f7972b,#f7982b,#f36f28,#f47729,#f47f29,#f47e29,#f37028,#f47b29,#f47929,#f47b29,#f47629,#f26427,#f05727,#f26227,#f47e29,#f6952a,#f79c2b,#f79a2b,#f8b52c,#f9c12d,#f8b02c)"></i>
<i style="left:6.97px;top:6.97px;width:175.25px;height:175.25px;background:conic-gradient(#f8ac2b,#f9ba2d,#f7d630,#f8d22f,#f8ac2b,#f8b32c,#f9ba2d,#f8aa2b,#f9be2d,#f79d2b,#f5882a,#f5892a,#f8a42b,#f9ba2d,#f9ba2d,#f8a62b,#f9bb2d,#f79d2b,#f8b22c,#f79e2b,#f8ab2b,#f79e2b,#f8b12c,#f8d32f,#e5e83d,#f1e534,#dfe641,#b7dc61,#b3db64,#99d57b,#8dd385,#a7d86e,#b3db64,#a3d771,#a4d770,#9fd674,#b4db63,#adda69,#42c4ea,#3fc1ed,#3aa9e1,#3580c2,#3267b0,#3161ad,#305eac,#305bab,#305aaa,#3059aa,#2f57aa,#2f58aa,#3059aa,#305bab,#305dac,#3160ad,#3166b0,#357cbf,#3898d4,#3ebcea,#41c4ec,#8ed384,#96d47d,#97d57c,#a3d771,#92d381,#92d481,#a3d771,#c8e053,#c5df56,#d3e34a,#f4e433,#f8d12f,#f9c92e,#f8a82b,#f8a92b,#f79c2b,#f68f2a,#f6932a,#f6962a,#f36f28,#f37428,#f47829,#f47729,#f36b28,#f47829,#f37428,#f47b29,#f47929,#f26a27,#f05727,#f26127,#f47b29,#f6942a,#f79b2b,#f6952a,#f8af2c,#f9be2d,#f8ac2b)"></i>
<i style="left:8.97px;top:8.97px;width:171.27px;height:171.27px;background:conic-gradient(#f8a72b,#f8b22c,#f8cf2f,#f9ca2e,#f8a52b,#f8ae2c,#f8b32c,#f8a42b,#f8ad2c,#f6942a,#f48029,#f47f29,#f79f2b,#f8b32c,#f9b92d,#f79d2b,#f8b12c,#f6942a,#f8a52b,#f6922a,#f79c2b,#f6942a,#f8ab2b,#f8ce2f,#e8e73b,#f5e232,#e6e83c,#c5df55,#c6df55,#a9d96c,#99d57a,#bbdd5e,#c3df57,#aad96b,#a9d96c,#a2d772,#b6dc62,#adda69,#a5d86f,#b5db62,#42c4ea,#3fc2ed,#3cb4e7,#3580c1,#3165af,#3161ad,#305fad,#305eac,#305dac,#305eac,#305fac,#3160ad,#3164af,#357dbf,#3cb3e6,#3fc1ed,#41c4ec,#7bcf9b,#89d289,#8ed384,#97d57c,#9bd678,#acd96a,#9cd678,#9bd678,#b5db63,#dce543,#d4e34a,#e0e641,#f7d730,#f9c42e,#f9be2d,#f8a22b,#f8a52b,#f79c2b,#f68d2a,#f68d2a,#f6942a,#f26927,#f36c28,#f37128,#f37528,#f26727,#f47c29,#f37228,#f47b29,#f47c29,#f36b28,#f05527,#f15d27,#f47729,#f58c2a,#f7972b,#f6912a,#f8ac2c,#f9bf2d,#f8a72b)"></i>
<i style="left:10.96px;top:10.96px;width:167.29px;height:167.29px;background:conic-gradient(#f8a32b,#f8a72b,#f9ca2e,#f9c82e,#f8a12b,#f8ac2c,#f8a82b,#f79c2b,#f8a52b,#f5892a,#f47829,#f47a29,#f6952a,#f8a92b,#f8b72c,#f6922a,#f8a42b,#f5872a,#f7982b,#f5862a,#f68e2a,#f5842a,#f79e2b,#f9c52e,#efe636,#f7d830,#f5e432,#dce544,#dfe642,#c1de59,#aad96b,#d4e349,#dfe641,#bede5b,#b2db65,#a8d86d,#b9dc5f,#aeda68,#a5d86f,#b5db62,#c2df57,#a7d86e,#42c4eb,#3ec0ec,#399bd6,#3477bc,#3267b1,#3163ae,#3162ae,#3163ae,#3165af,#3371b7,#3893d0,#3ebfec,#42c4eb,#83d090,#9ad579,#a1d773,#89d289,#8ed384,#9ad57a,#a2d772,#b9dc5f,#adda69,#abd96b,#c7e054,#f0e535,#e6e83c,#ece738,#f9ca2e,#f9b92d,#f8b12c,#f7992b,#f79f2b,#f79c2b,#f58b2a,#f58b2a,#f6932a,#f26727,#f26727,#f36d28,#f47629,#f26627,#f47c29,#f36c28,#f47929,#f48029,#f36f28,#ef4e26,#f15927,#f37328,#f5882a,#f6932a,#f58b2a,#f8a72b,#f9bb2d,#f8a32b)"></i>
<i style="left:12.95px;top:12.95px;width:163.30px;height:163.30px;background:conic-gradient(#f8a12b,#f8a22b,#f9c52e,#f9c42e,#f79f2b,#f8ac2c,#f8a42b,#f79b2b,#f79e2b,#f5882a,#f37328,#f47a29,#f6942a,#f8a52b,#f8b02c,#f5852a,#f7992b,#f47e29,#f68d2a,#f47929,#f48129,#f37528,#f6902a,#f8b62c,#f6de31,#f9cc2e,#f8d22f,#ebe738,#eee637,#d5e449,#bcdd5c,#e8e83b,#eee637,#cee24e,#c3df56,#b8dc60,#bcdd5c,#aeda68,#a5d86f,#b5db62,#c2df57,#b7dc61,#a5d86f,#43c4e9,#3fc1ed,#3cafe4,#3895d2,#3682c3,#3476bb,#3580c1,#378ecc,#3aa6df,#3fc1ed,#42c4ea,#9fd675,#96d57d,#9ad579,#a1d773,#89d289,#8ed384,#9dd677,#b0da66,#c5df56,#c0de5a,#bede5b,#dde643,#f7d730,#f0e535,#f5e132,#f9b82d,#f8aa2b,#f8a32b,#f68d2a,#f6932a,#f6952a,#f5862a,#f48129,#f68f2a,#f26227,#f26327,#f26427,#f36e28,#f26127,#f47c29,#f26827,#f37528,#f47f29,#f36e28,#ee4626,#f05427,#f36d28,#f48129,#f68f2a,#f5882a,#f7a02b,#f9b82d,#f8a12b)"></i>
<i style="left:14.94px;top:14.94px;width:159.32px;height:159.32px;background:conic-gradient(#f8a12b,#f79d2b,#f9bf2d,#f9bf2d,#f79b2b,#f8ad2c,#f8a22b,#f7982b,#f7992b,#f5862a,#f36e28,#f37628,#f6922a,#f8a32b,#f8af2c,#f47a29,#f68e2a,#f37428,#f5812a,#f36d28,#f37228,#f26127,#f47929,#f79e2b,#f9c32d,#f8b72c,#f9bb2d,#f6de31,#f6da31,#ece638,#d9e446,#f6db31,#f7d630,#e8e73b,#e0e640,#d8e447,#d1e24c,#c0de5a,#a7d86e,#b5db62,#c2df57,#b7dc61,#a5d86f,#afda68,#60ccc1,#3fc3ee,#3ec0ec,#3db7e8,#3aa5de,#3cb3e6,#3ebfec,#3fc2ed,#42c4ea,#a0d774,#9fd675,#96d57d,#9ad579,#a1d773,#8dd385,#8fd383,#a8d86d,#c3df57,#d6e448,#d2e34b,#d3e34a,#f1e535,#f9c12d,#f7d730,#f9ca2e,#f8a32b,#f7992b,#f6932a,#f47d29,#f5852a,#f5862a,#f47629,#f37228,#f5842a,#f15927,#f05627,#f15a27,#f26327,#f05727,#f37328,#f15d27,#f36d28,#f47929,#f26827,#ed3e26,#ef4d26,#f26427,#f47629,#f5842a,#f47e29,#f7982b,#f8b72c,#f8a12b)"></i>
<i style="left:16.93px;top:16.93px;width:155.34px;height:155.34px;background:conic-gradient(#f79e2b,#f79a2b,#f9bc2d,#f9be2d,#f7992b,#f8aa2b,#f79c2b,#f6952a,#f6952a,#f5822a,#f36e28,#f47929,#f6902a,#f8a32b,#f8b02c,#f36e28,#f5832a,#f36e28,#f47829,#f26427,#f26327,#ef4d26,#f26627,#f5872a,#f8ab2b,#f7a02b,#f7a02b,#f9c32e,#f9be2d,#f8d32f,#f0e535,#f9bd2d,#f9bb2d,#f6de31,#f4e432,#f0e535,#eae73a,#d7e447,#b6dc61,#b5db62,#c3df56,#b7dc61,#a5d86f,#afda68,#cde14f,#7ccf99,#41c4eb,#3fc3ee,#3fc1ed,#3fc3ee,#40c3ec,#49c6e2,#b2db65,#a0d774,#9fd675,#96d57d,#9ad579,#a4d770,#95d47e,#9ad57a,#b9dc5f,#dae545,#e8e73b,#e8e73a,#e7e83b,#f7d830,#f8a92b,#f9c32d,#f8b32c,#f68e2a,#f5892a,#f5822a,#f36b28,#f37228,#f47729,#f26427,#f26327,#f47929,#ef4c26,#ef4926,#ef4d26,#f15b27,#ef4d26,#f26a27,#f05126,#f26727,#f37228,#f26527,#ea3826,#ee4326,#f15927,#f36c28,#f47929,#f37328,#f68f2a,#f8b12c,#f79e2b)"></i>
<i style="left:18.92px;top:18.92px;width:151.35px;height:151.35px;background:conic-gradient(#f79e2b,#f7972b,#f8b62c,#f9b92d,#f6962a,#f8aa2b,#f7992b,#f6922a,#f6902a,#f48029,#f26627,#f37228,#f58c2a,#f7a02b,#f8af2c,#f26827,#f47f29,#f36c28,#f47929,#f26627,#f16027,#ee4126,#f05527,#f37128,#f6902a,#f58c2a,#f5872a,#f8a52b,#f79f2b,#f8b42c,#f8cd2f,#f79d2b,#f7982b,#f9bb2d,#f9c32d,#f9c82e,#f7d630,#eee637,#d2e34b,#c6e054,#d6e449,#b7dc61,#a5d86f,#afda68,#cde14f,#f3e433,#bede5b,#68ccb4,#41c4eb,#54cbd3,#89d28a,#d5e449,#b2db65,#a0d774,#a3d771,#99d57a,#a7d86e,#b2db65,#9fd675,#a1d773,#c6df55,#eae739,#f2e534,#f4e433,#f5e432,#f9c12d,#f7972b,#f8ac2c,#f79b2b,#f37528,#f37428,#f37028,#f15827,#f15d27,#f26927,#f05326,#ef4f26,#f26a27,#ed4026,#ec3c26,#ed4026,#f05026,#ee4426,#f26527,#ef4726,#f15d27,#f36e28,#f26227,#e72f27,#ec3c26,#ef4b26,#f26127,#f36d28,#f36c28,#f5882a,#f8ad2c,#f79e2b)"></i>
<i style="left:20.91px;top:20.91px;width:147.37px;height:147.37px;background:conic-gradient(#f79c2b,#f6932a,#f8b32c,#f8b52c,#f6922a,#f8a82b,#f7972b,#f68e2a,#f5872a,#f47929,#f26327,#f37028,#f5882a,#f79f2b,#f8ad2c,#f26a27,#f47e29,#f37228,#f47f29,#f26927,#f26127,#ee4426,#f15827,#f26827,#f47b29,#f37228,#f26727,#f5862a,#f5832a,#f6942a,#f8a62b,#f47929,#f37528,#f79a2b,#f8a12b,#f8a42b,#f8b32c,#f9ca2e,#efe636,#e1e740,#eee637,#c9e052,#b6dc61,#afda68,#cde14f,#f3e433,#f1e535,#e4e73e,#afda67,#dae545,#c9e053,#d5e449,#b2db65,#a2d772,#afda68,#a2d772,#b3db64,#bede5b,#a9d96c,#a8d86d,#d1e24c,#f2e534,#f6de31,#f7d730,#f8d12f,#f8ab2b,#f48129,#f6962a,#f47f29,#f05727,#f15927,#f15827,#ee4326,#ef4b26,#f15c27,#ef4826,#ee4126,#f15b27,#ea3826,#ea3626,#eb3a26,#ef4926,#ed3f26,#f16127,#ed3f26,#f15a27,#f36c28,#f26427,#e52927,#e83327,#ee4426,#f15827,#f26827,#f26427,#f5832a,#f8a92b,#f79c2b)"></i>
<i style="left:22.91px;top:22.91px;width:143.39px;height:143.39px;background:conic-gradient(#f79b2b,#f6912a,#f8af2c,#f8af2c,#f6902a,#f8a52b,#f6932a,#f58c2a,#f47f29,#f47729,#f26627,#f36f28,#f5892a,#f79f2b,#f8aa2b,#f36f28,#f48129,#f47a29,#f5852a,#f37128,#f26627,#ef4d26,#f26927,#f36c28,#f37228,#f26227,#f05126,#f37428,#f37128,#f47d29,#f68c2a,#f26127,#f26627,#f68d2a,#f6922a,#f68e2a,#f7972b,#f8aa2b,#f8d12f,#f5e132,#f7d630,#e1e740,#cfe24e,#c0de5a,#cde14f,#f3e433,#f1e535,#e4e73e,#e2e73f,#dae545,#d3e34b,#d5e449,#b7dc60,#b0da66,#bcdd5c,#b3db64,#c1de58,#c9e052,#b2db65,#b0da67,#d9e546,#f6da31,#f8d12f,#f9c22d,#f9b92d,#f6962a,#f26927,#f47d29,#f26427,#ee4226,#ef4826,#ef4726,#ea3726,#ec3c26,#f04f26,#ec3d26,#ea3726,#f05226,#e83227,#e83227,#e73027,#ee4226,#eb3b26,#f15a27,#eb3926,#f05226,#f26927,#f26427,#e32627,#e62e27,#ec3d26,#ef4e26,#f26127,#f15e27,#f47f29,#f8a62b,#f79b2b)"></i>
<i style="left:24.90px;top:24.90px;width:139.40px;height:139.40px;background:conic-gradient(#f7992b,#f68f2a,#f8ab2b,#f8a42b,#f58b2a,#f8a12b,#f68d2a,#f5842a,#f37628,#f37328,#f26327,#f26b27,#f48129,#f79d2b,#f8a92b,#f37428,#f5862a,#f5852a,#f68e2a,#f47c29,#f36e28,#f15c27,#f47729,#f47829,#f47829,#f26227,#ef4c26,#f36b28,#f26827,#f47929,#f58a2a,#f26127,#f26427,#f68d2a,#f6922a,#f5862a,#f68d2a,#f7a02b,#f9cb2e,#f7d430,#f8cd2f,#eee637,#e0e740,#d0e24d,#e0e640,#f6df31,#f4e432,#f2e534,#f1e535,#e8e73a,#e4e83d,#dde643,#c3df57,#b9dc5f,#c0de5a,#bede5b,#cee24e,#d7e447,#c0de59,#c2de58,#f2e534,#f9bc2d,#f9bb2d,#f8a92b,#f7a02b,#f48029,#f05026,#f26527,#ef4826,#e73127,#ea3826,#ea3726,#e52a27,#e72f27,#ed3f26,#e73027,#e52a27,#ee4526,#e52b27,#e32627,#e52a27,#ec3c26,#ea3726,#f05527,#e93626,#ef4e26,#f26727,#f26127,#e12527,#e52927,#ea3826,#ef4b26,#f16027,#f15c27,#f47f29,#f8a32b,#f7992b)"></i>
<i style="left:26.89px;top:26.89px;width:135.42px;height:135.42px;background:conic-gradient(#f7982b,#f68f2a,#f8a62b,#f7992b,#f47e29,#f79b2b,#f5842a,#f47729,#f36b28,#f36d28,#f16027,#f26527,#f47b29,#f7982b,#f8a42b,#f47729,#f5892a,#f58a2a,#f6922a,#f5822a,#f37628,#f26727,#f5862a,#f58b2a,#f5862a,#f26a27,#f05026,#f36b28,#f26927,#f37628,#f5872a,#f15f27,#f26727,#f68f2a,#f6942a,#f5882a,#f68d2a,#f8a22b,#f8ce2f,#f7da30,#f8ce2f,#f0e535,#e3e73e,#d9e446,#ede637,#f7d430,#f7d830,#f6dd31,#f6dc31,#f3e533,#ece638,#e8e83b,#c7e054,#bddd5c,#c6df55,#cae151,#dde643,#e7e83c,#d2e34b,#dae545,#f8cf2f,#f8a22b,#f79f2b,#f6902a,#f5852a,#f26927,#eb3926,#ef4e26,#e93626,#e12527,#e52927,#e62e27,#de2427,#df2427,#e73127,#df2427,#d82227,#e83327,#de2427,#db2327,#dc2327,#e93526,#e83327,#ef4c26,#e72f27,#ee4526,#f26227,#f15b27,#df2427,#e32527,#e93426,#ee4526,#f15c27,#f05627,#f47a29,#f79d2b,#f7982b)"></i>
<i style="left:28.88px;top:28.88px;width:131.44px;height:131.44px;background:conic-gradient(#f7972b,#f68e2a,#f7a12b,#f68f2a,#f37328,#f7972b,#f47e29,#f37128,#f26527,#f26527,#f15b27,#f26127,#f47829,#f6962a,#f8a22b,#f47a29,#f58c2a,#f68e2a,#f6942a,#f5862a,#f48029,#f37628,#f7972b,#f8a22b,#f79c2b,#f5832a,#f15f27,#f47829,#f47729,#f47f29,#f58b2a,#f26927,#f37428,#f79a2b,#f8a52b,#f7982b,#f79b2b,#f8b32c,#f7d730,#f1e534,#f6dd31,#e9e73a,#d8e447,#cce150,#e6e83c,#f5e132,#f2e534,#f1e535,#f0e536,#ebe739,#dce544,#dbe544,#c2de58,#bddd5b,#c4df56,#d1e34c,#e4e73e,#e9e73a,#d2e34b,#dde643,#f8cd2f,#f8a22b,#f7a12b,#f58b2a,#f37428,#f05527,#e62d27,#ec3e26,#e52a27,#dc2327,#e32527,#e52927,#d82227,#d72227,#e42827,#d82227,#cb1f26,#e12427,#d32126,#cd2026,#cf2026,#e42727,#e62d27,#ee4526,#e62c27,#ed4026,#f15a27,#f05527,#db2327,#e02427,#e83227,#ed4026,#f15a27,#f05627,#f37628,#f7982b,#f7972b)"></i>
<i style="left:30.87px;top:30.87px;width:127.46px;height:127.46px;background:conic-gradient(#f6912a,#f5892a,#f7992b,#f5852a,#f36c28,#f6902a,#f37128,#f26827,#f15f27,#f26127,#f15b27,#f15f27,#f37428,#f6912a,#f79b2b,#f47a29,#f58b2a,#f68f2a,#f7972b,#f58b2a,#f5892a,#f47f29,#f8a22b,#f8b62c,#f8b62c,#f8a22b,#f48129,#f7982b,#f7992b,#f7a02b,#f8ac2b,#f58b2a,#f79a2b,#f9bf2d,#f9cc2e,#f9be2d,#f9c82e,#f5e332,#e9e73a,#dde643,#ede638,#d7e447,#c5df55,#bddd5c,#d7e448,#eee637,#e3e73e,#e3e73e,#e5e83d,#dee642,#cde14f,#d5e349,#bddd5c,#bcdd5c,#c1de58,#d1e24c,#e0e641,#e0e641,#c2df57,#cce150,#f6dd31,#f8ae2c,#f8ac2c,#f6932a,#f37528,#f05627,#e72f27,#ea3726,#e42627,#db2327,#e02427,#e52927,#db2327,#d82227,#e62c27,#d72227,#c51e25,#d92327,#cd2026,#c51e25,#c11e25,#d92327,#dd2427,#eb3a26,#e22527,#ea3726,#ef4e26,#ef4926,#d62226,#da2327,#e62d27,#eb3926,#f05326,#f04f26,#f36e28,#f68f2a,#f6912a)"></i>
<i style="left:32.86px;top:32.86px;width:123.47px;height:123.47px;background:conic-gradient(#f5892a,#f48129,#f68e2a,#f37528,#f15a27,#f48129,#f26727,#f15f27,#f05126,#f05627,#f05627,#f05627,#f36e28,#f5842a,#f6902a,#f47829,#f5842a,#f68e2a,#f6962a,#f68c2a,#f68e2a,#f5892a,#f8aa2b,#f9c12d,#f9c82e,#f9be2d,#f79f2b,#f9be2d,#f9c52e,#f8d22f,#f6dc31,#f9bc2d,#f8ce2f,#eee637,#dfe641,#ebe739,#e7e83b,#c3df57,#c0de5a,#c3df57,#e1e740,#cde14f,#b8dc60,#b1db65,#c7e054,#e2e73f,#d0e24d,#cee24e,#d2e34b,#d2e34b,#c1de58,#c9e052,#b5dc62,#badd5f,#bede5b,#d3e34b,#dde643,#d1e24c,#b3db64,#b7dc61,#eae739,#f9c32d,#f9be2d,#f7a02b,#f5832a,#f26527,#ea3926,#eb3a26,#e52927,#df2427,#e32527,#e52b27,#de2427,#db2327,#e73127,#de2427,#d02126,#dd2427,#d42126,#ca1f26,#c01e25,#d42126,#d82227,#e73127,#db2327,#e72e27,#ee4626,#ed3f26,#d12126,#d52226,#e52a27,#e83327,#ef4726,#ef4726,#f26527,#f5842a,#f5892a)"></i>
<i style="left:34.86px;top:34.86px;width:119.49px;height:119.49px;background:conic-gradient(#f48129,#f47929,#f5842a,#f26827,#ef4c26,#f37228,#f15927,#f05126,#ee4626,#ef4a26,#ef4a26,#ef4826,#f16027,#f37428,#f47e29,#f36c28,#f47829,#f5892a,#f68f2a,#f58c2a,#f68e2a,#f6902a,#f8b22c,#f9ca2e,#f7d330,#f7d630,#f9bf2d,#f5e132,#ebe738,#dce543,#d6e448,#f2e534,#e8e73b,#c7e053,#b5db62,#c2df58,#bede5b,#a0d774,#a4d870,#b3db64,#d6e448,#c2df58,#aeda68,#a4d870,#badd5e,#d2e34b,#bede5b,#bddd5c,#c1de58,#c8e053,#b4db63,#bcdd5d,#adda69,#b8dc60,#bbdd5d,#cee24e,#d5e349,#c0de59,#a6d86f,#aad96c,#d9e446,#f7d330,#f8d02f,#f8aa2b,#f68e2a,#f47729,#ef4626,#ee4426,#e83227,#e42827,#e62c27,#e72e27,#e22527,#df2427,#ea3626,#e42727,#d82227,#e12527,#d92327,#cf2026,#c11e25,#d22126,#d62227,#e52a27,#d32126,#e42727,#eb3b26,#ea3726,#cb1f26,#cd2026,#e32527,#e52b27,#ed3e26,#ed3f26,#f16027,#f47d29,#f48129)"></i>
<i style="left:36.85px;top:36.85px;width:115.51px;height:115.51px;background:conic-gradient(#f37528,#f36b28,#f37228,#f05527,#ec3d26,#f26327,#ef4626,#ed3f26,#eb3a26,#ec3d26,#ee4226,#ed4026,#f05727,#f26827,#f37128,#f26527,#f36f28,#f5862a,#f68d2a,#f68c2a,#f68d2a,#f6962a,#f9bd2d,#f7d430,#f6e031,#f0e535,#f6da31,#e6e83c,#d5e349,#c7e054,#c6e054,#e0e641,#cce150,#aeda68,#9ed676,#a8d86d,#aeda68,#94d47f,#9dd676,#acd96a,#cfe24e,#bcdd5d,#a3d771,#9ed676,#afda67,#c4df56,#aeda68,#b1da66,#b7dc61,#bfde5a,#adda69,#b9dc5f,#adda69,#b9dc5f,#bddd5c,#d4e34a,#d8e447,#c1de58,#a6d86f,#a6d86e,#d4e34a,#f6db31,#f6da31,#f8b52c,#f79c2b,#f5882a,#f15d27,#f05627,#ee4226,#ea3726,#ea3726,#eb3926,#e62d27,#e42927,#ec3d26,#e52a27,#de2427,#e22527,#e02427,#d62226,#c31e25,#ce2026,#d02126,#da2327,#c61f26,#d92327,#e72e27,#e52b27,#c21e25,#c21e25,#dd2427,#de2427,#e93626,#e93626,#f05226,#f36e28,#f37528)"></i>
<i style="left:38.84px;top:38.84px;width:111.52px;height:111.52px;background:conic-gradient(#f26327,#f15c27,#f26527,#ee4426,#e73027,#f04f26,#ea3726,#e72f27,#e72f27,#e73027,#ea3826,#e93526,#ef4926,#f15927,#f26527,#f15a27,#f26227,#f48029,#f5892a,#f58a2a,#f6922a,#f8a42b,#f9c92e,#f6df31,#f0e535,#e5e83c,#f1e535,#dfe641,#cde14f,#c0de59,#c1de58,#d3e34a,#bcdd5c,#aad96c,#9ad57a,#a2d772,#acd96a,#91d382,#9ad579,#abd96b,#cae151,#b7dc61,#a0d774,#9cd677,#aad96b,#bddd5c,#a5d870,#adda69,#b3db64,#bfde5a,#abd96b,#b5db62,#acd96a,#bcdd5d,#bcdd5c,#d7e448,#d9e446,#c0de5a,#a3d771,#a5d870,#d3e34b,#f6df31,#f5e332,#f9c02d,#f8ab2b,#f7992b,#f47a29,#f36e28,#f15d27,#ef4e26,#ef4926,#ef4a26,#eb3b26,#e93526,#ef4926,#ea3626,#e52b27,#e52b27,#e32627,#da2327,#c41e25,#cd2026,#cd2026,#cd2026,#b21c22,#cd2026,#df2427,#da2327,#b71d23,#b71c23,#d72227,#d42226,#e52b27,#e52b27,#ee4426,#f15b27,#f26327)"></i>
<i style="left:40.83px;top:40.83px;width:107.54px;height:107.54px;background:conic-gradient(#f15827,#ef4d26,#f05226,#e83327,#de2427,#ec3d26,#e42827,#dd2427,#e12527,#df2427,#e62d27,#e52a27,#ec3d26,#ef4c26,#f05627,#f04f26,#f15c27,#f47f29,#f5842a,#f58a2a,#f6942a,#f8ad2c,#f7d330,#f0e535,#e7e83c,#d6e449,#e6e83c,#d1e24c,#c4df56,#bbdd5d,#bfde5a,#cee24e,#b8dc60,#a7d86e,#99d57b,#9dd676,#a9d96c,#8ed385,#99d57b,#aad96b,#c6e054,#b4db63,#9fd675,#99d57b,#a2d772,#b4db63,#9ed676,#a7d86e,#a9d96d,#b9dc5f,#a8d86d,#b5dc62,#abd96b,#bddd5c,#badd5e,#d6e448,#d8e446,#bbdd5e,#9fd675,#a2d772,#d1e24c,#f3e534,#eee637,#f9cc2e,#f9be2d,#f8ae2c,#f7982b,#f5882a,#f47829,#f26827,#f26227,#f26327,#ef4d26,#ee4326,#f05627,#ed4026,#e93426,#e83227,#e73027,#e22527,#cd2026,#d12126,#cd2026,#c71f26,#a21a1f,#bd1d24,#cf2026,#ce2026,#b21c22,#af1b22,#d32126,#d12126,#e22527,#e02427,#eb3a26,#ef4a26,#f15827)"></i>
<i style="left:42.82px;top:42.82px;width:103.56px;height:103.56px;background:conic-gradient(#ef4b26,#ed3f26,#ec3e26,#e22527,#d12126,#e62c27,#d72227,#cc2026,#d42226,#d22126,#e32627,#e32527,#e93426,#ee4626,#f05126,#ef4d26,#f15a27,#f47f29,#f5852a,#f58a2a,#f7972b,#f8b62c,#f6dc31,#ede637,#e4e83d,#d1e34c,#e1e740,#d3e34b,#c8e053,#bddd5c,#bbdd5e,#c9e052,#b0da66,#a5d86f,#98d57b,#9ad57a,#a5d870,#87d18b,#92d480,#a9d96c,#c7e054,#b1db66,#9bd579,#94d47f,#9dd677,#afda67,#9cd678,#a6d86e,#a5d86f,#b6dc62,#a6d86e,#b2db65,#a6d86f,#bcdd5d,#b8dc60,#d3e34b,#d5e449,#b9dc5f,#a1d773,#a6d86f,#cfe24e,#ede637,#ebe739,#f7d830,#f8ce2f,#f9c32d,#f8b52c,#f8a52b,#f7982b,#f5862a,#f47929,#f47829,#f26227,#f05326,#f26127,#ef4c26,#ed3f26,#eb3a26,#eb3b26,#e72f27,#d82227,#d82227,#d32126,#c91f26,#9f191f,#b21c22,#c01e24,#bb1d24,#a81a20,#a31a20,#cd2026,#cb1f26,#d72227,#d62227,#e62d27,#ea3926,#ef4b26)"></i>
<i style="left:44.81px;top:44.81px;width:99.57px;height:99.57px;background:conic-gradient(#eb3a26,#e72f27,#e52927,#cf2026,#ba1d24,#d62226,#c31e25,#b41c23,#c31e25,#c41e25,#e02427,#db2327,#e52c27,#ec3d26,#ef4c26,#ef4c26,#f05627,#f47b29,#f47f29,#f5852a,#f6952a,#f8b32c,#f8d22f,#f6df31,#efe636,#e1e740,#e7e83b,#d9e546,#cce150,#c0de5a,#bede5b,#c7e054,#b2db65,#adda69,#9bd678,#9bd678,#a7d86e,#86d18c,#90d382,#a7d86e,#c3df57,#afda67,#9ad579,#93d480,#96d47d,#a3d771,#95d47f,#9ed675,#a0d774,#b3db64,#a6d86f,#b0da66,#a2d772,#bcdd5d,#b8dc60,#d0e24d,#d1e34c,#b8dc60,#a1d773,#a8d86d,#cde14f,#e8e83b,#e4e73e,#f4e433,#f6dc31,#f7d630,#f8d12f,#f9c12d,#f9b82d,#f8a22b,#f68e2a,#f68d2a,#f37428,#f26227,#f37128,#f15c27,#ef4c26,#ed4026,#ee4226,#eb3a26,#e22527,#e22527,#e02427,#d52226,#ab1b21,#b61c23,#b51c23,#ae1b22,#9f191f,#97181e,#c31e25,#bc1d24,#ca1f26,#c91f26,#dd2427,#e42727,#eb3a26)"></i>
<i style="left:46.80px;top:46.80px;width:95.59px;height:95.59px;background:conic-gradient(#dd2427,#d32126,#cc2026,#ad1b21,#9b191e,#be1e24,#ad1b21,#9e191f,#b31c22,#b61c23,#de2427,#d92327,#e22527,#ea3726,#ef4826,#ef4c26,#f05427,#f47d29,#f47d29,#f5822a,#f6912a,#f8af2c,#f9c82e,#f8d22f,#f5e132,#e9e73a,#eae739,#e6e83c,#d8e447,#c3df56,#c3df57,#cbe150,#b2db65,#afda67,#9cd677,#9fd675,#a9d96c,#85d18e,#8ed385,#a6d86f,#c0de59,#abd96a,#98d57b,#8fd384,#90d383,#9bd579,#90d383,#9dd677,#9fd674,#adda69,#a1d773,#acd96a,#a1d773,#badd5e,#b6dc62,#cfe24e,#d2e34b,#b7dc60,#a0d674,#a6d86e,#cae151,#e7e83c,#dfe641,#f1e535,#f5e332,#f6df31,#f6e031,#f8d22f,#f8d12f,#f9bb2d,#f8a12b,#f7a12b,#f5882a,#f37528,#f48129,#f36d28,#f15b27,#ef4926,#ef4a26,#ee4126,#e72f27,#e73027,#eb3a26,#e72e27,#ca1f26,#cf2026,#c51e25,#b51c23,#9f191f,#89171b,#b01c22,#a61a20,#b51c23,#af1b22,#c71f26,#c81f26,#dd2427)"></i>
<i style="left:48.80px;top:48.80px;width:91.61px;height:91.61px;background:conic-gradient(#c41e25,#b91d23,#b01c22,#95181d,#87161b,#ac1b21,#a51a20,#99191e,#b71c23,#b91d23,#e12527,#e02427,#e42827,#ec3c26,#ef4d26,#f04f26,#f15a27,#f47e29,#f47929,#f47f29,#f68f2a,#f8a82b,#f9bc2d,#f9c12d,#f8ce2f,#f4e433,#f1e535,#ede637,#e5e83c,#cbe150,#c7e054,#d0e24d,#b1db65,#b1db66,#a0d774,#9ed676,#a7d86e,#82d091,#8cd286,#a3d771,#bedd5b,#a8d86d,#96d47d,#8bd287,#8dd286,#99d57b,#8fd384,#9fd675,#a2d772,#afda67,#a2d772,#adda69,#a3d771,#badd5e,#b4db63,#cce150,#d1e24c,#b8dc60,#a5d870,#aad96b,#c8e053,#e6e83c,#dfe641,#ede637,#f3e533,#f4e433,#f0e535,#f5e132,#f5e132,#f8cf2f,#f9b82d,#f8b72c,#f79a2b,#f58b2a,#f6932a,#f47d29,#f36d28,#f15927,#f15b27,#ef4b26,#eb3926,#ec3d26,#ef4726,#ee4126,#e02427,#e42727,#da2327,#c91f26,#b31c22,#8e171c,#aa1b21,#96181d,#a0191f,#94181d,#ae1b22,#a61a20,#c41e25)"></i>
<i style="left:50.79px;top:50.79px;width:87.63px;height:87.63px;background:conic-gradient(#b61c23,#ad1b21,#a71a20,#91181d,#88161b,#aa1b21,#ac1b21,#a81a20,#ca1f26,#c61f25,#e42727,#e42827,#e62c27,#ed3e26,#ef4f26,#f05727,#f15c27,#f5822a,#f47929,#f47b29,#f68f2a,#f8a42b,#f8b22c,#f8b42c,#f9c02d,#f7d730,#f6de31,#f2e534,#ede637,#d3e34a,#cee24e,#d3e34a,#b6dc61,#b8dc60,#a4d770,#9dd676,#a9d96c,#81d092,#8bd288,#a0d774,#bbdd5d,#a9d96c,#95d47e,#8dd286,#8dd385,#99d57b,#90d382,#a0d774,#a2d772,#adda69,#a4d771,#afda67,#a3d771,#bcdd5c,#b4db63,#cbe150,#d0e24d,#b9dc5f,#a8d86d,#aeda68,#cae052,#e7e83b,#e1e740,#ece638,#f1e535,#f2e534,#ede637,#f2e534,#f0e536,#f6dd31,#f9c72e,#f9c52e,#f8ab2b,#f79e2b,#f8a42b,#f68f2a,#f48029,#f36c28,#f36f28,#f15e27,#ef4726,#ef4b26,#f05527,#ef4b26,#e62e27,#ea3826,#e73027,#e02427,#d02126,#ad1b21,#bb1d24,#a0191f,#9e191f,#8f171c,#a61a20,#96181d,#b61c23)"></i>
<i style="left:52.78px;top:52.78px;width:83.64px;height:83.64px;background:conic-gradient(#c31e25,#c01e24,#ba1d24,#a91b21,#a81a20,#c31e25,#c71f26,#c11e25,#db2327,#d62226,#e83327,#e72e27,#e83127,#ee4126,#f05427,#f16027,#f26227,#f5862a,#f47929,#f47829,#f58b2a,#f7a02b,#f8a92b,#f8a72b,#f8b12c,#f9c62e,#f7d730,#f6e031,#f4e433,#dfe641,#d3e34a,#d5e449,#b9dc5f,#bddd5c,#a8d96d,#9fd675,#acd96a,#82d091,#8bd288,#9fd675,#badd5e,#a8d86d,#97d57c,#8ed385,#8fd384,#97d57c,#90d383,#9fd675,#a5d870,#aeda68,#a7d86e,#b2db65,#a6d86e,#bcdd5d,#b2db65,#c8e053,#cfe24e,#badd5f,#afda67,#b3db64,#c7e054,#e5e83d,#e2e73f,#eae73a,#efe636,#f0e535,#e7e83b,#ede638,#e9e73a,#f3e534,#f8d22f,#f7d630,#f9be2d,#f8b22c,#f9b82d,#f8a22b,#f6922a,#f47f29,#f47f29,#f36f28,#f05827,#f15c27,#f26227,#f05727,#ec3c26,#ee4426,#eb3b26,#e83127,#e52c27,#cf2026,#d82227,#c21e25,#bd1d24,#ad1b21,#bc1d24,#ac1b21,#c31e25)"></i>
<i style="left:54.77px;top:54.77px;width:79.66px;height:79.66px;background:conic-gradient(#e02427,#df2427,#db2327,#ce2026,#cd2026,#dc2327,#db2327,#d22126,#e62c27,#e02427,#eb3b26,#e83327,#e93526,#ee4426,#f15a27,#f26727,#f26627,#f5892a,#f47929,#f37528,#f5862a,#f7992b,#f8a32b,#f7a02b,#f8a72b,#f9bc2d,#f8ce2f,#f6db31,#f5e332,#e2e73f,#d4e349,#d4e34a,#bcdd5d,#bfde5a,#a8d86d,#9dd676,#adda69,#82d091,#8bd288,#9ed676,#b9dc5f,#a7d86e,#98d57b,#91d382,#8ed385,#94d47f,#90d383,#9fd675,#a5d870,#b0da66,#abd96a,#b5dc62,#a9d96c,#bddd5c,#b0da67,#c3df57,#cde14f,#b9dc5f,#b3db64,#b8dc60,#c9e052,#e6e83c,#e1e740,#e7e83b,#ece638,#eee636,#e1e740,#e6e83c,#e0e640,#ebe739,#f6df31,#f2e534,#f7d330,#f8cf2f,#f7d630,#f9c12d,#f8ac2c,#f6952a,#f6952a,#f48029,#f36e28,#f37428,#f37528,#f26a27,#ef4b26,#f05427,#ef4926,#ed3e26,#ec3d26,#e12527,#e83227,#de2427,#d92327,#cf2026,#df2427,#d12126,#e02427)"></i>
<i style="left:56.76px;top:56.76px;width:75.68px;height:75.68px;background:conic-gradient(#ed4026,#ec3d26,#ea3726,#e42827,#e32527,#e62d27,#e52b27,#dd2427,#ea3626,#e52b27,#ed4026,#eb3926,#ea3826,#ee4426,#f15d27,#f36d28,#f26927,#f68c2a,#f47d29,#f47729,#f5852a,#f7972b,#f7a02b,#f79d2b,#f8a52b,#f9bb2d,#f9cc2e,#f6dc31,#f5e332,#e2e73f,#d4e34a,#d1e24c,#bcdd5d,#c0de59,#a6d86f,#9ad579,#a7d86e,#81d092,#8ad288,#9dd677,#b4db63,#a3d771,#98d57c,#91d382,#8dd286,#93d480,#91d382,#a0d674,#a7d86e,#b2db64,#aeda68,#b6dc62,#acd96a,#bfde5a,#b0da66,#c2de58,#cae152,#b9dc5f,#b8dc60,#bddd5c,#c9e052,#e3e73e,#dee642,#e0e641,#e8e73b,#ebe739,#d8e447,#d9e546,#d5e349,#e0e641,#f0e535,#e9e73a,#f4e433,#f3e433,#ede638,#f6e031,#f9cc2e,#f8b52c,#f8b52c,#f79b2b,#f5862a,#f68c2a,#f58a2a,#f47d29,#f15b27,#f26127,#f05627,#ef4826,#ef4826,#e62c27,#eb3b26,#e73027,#e62d27,#e32527,#ec3c26,#e52a27,#ed4026)"></i>
<i style="left:58.75px;top:58.75px;width:71.69px;height:71.69px;background:conic-gradient(#f05727,#ef4e26,#ee4626,#ea3726,#e83327,#ea3626,#e93526,#e32527,#eb3b26,#e73027,#ec3e26,#e93626,#e93426,#ee4126,#f15d27,#f37328,#f36c28,#f6932a,#f58a2a,#f47f29,#f68d2a,#f79d2b,#f8a32b,#f79e2b,#f8a62b,#f9bc2d,#f9cc2e,#f6de31,#f5e332,#e2e73f,#d4e34a,#cfe24e,#bbdd5d,#c2df57,#a7d86e,#9ad579,#a4d771,#81d092,#8bd287,#9dd677,#b3db64,#a2d772,#99d57b,#92d381,#8dd385,#92d381,#91d381,#a1d773,#aad96b,#b4db63,#b1db66,#b8dc60,#aeda68,#c0de59,#b0da66,#c3df57,#cfe24e,#bede5b,#bede5b,#c0de59,#c6e054,#dfe641,#dae545,#d8e447,#e3e73e,#eae739,#cfe24e,#cce150,#c9e052,#d3e34a,#eae739,#e1e740,#ece638,#e3e73e,#d8e446,#e8e83b,#f5e432,#f7d330,#f7d730,#f9bb2d,#f8a42b,#f8a62b,#f79e2b,#f6912a,#f37028,#f37228,#f26527,#f05326,#f05126,#e72f27,#eb3926,#e73127,#e73027,#e62d27,#ef4926,#ec3c26,#f05727)"></i>
<i style="left:60.74px;top:60.74px;width:67.71px;height:67.71px;background:conic-gradient(#f05527,#f05026,#ef4e26,#ed3f26,#ec3d26,#ec3d26,#ec3c26,#e62c27,#ed3f26,#e93426,#ed4026,#ea3826,#e83227,#ed3f26,#f15e27,#f47729,#f37028,#f7992b,#f6932a,#f5862a,#f6952a,#f8a52b,#f8a82b,#f8a12b,#f8a82b,#f9bc2d,#f9cc2e,#f6de31,#f5e132,#e3e73e,#d6e448,#d0e24d,#bcdd5c,#c4df56,#a9d96c,#9ad579,#a0d774,#81d093,#89d289,#9ad579,#b2db65,#a1d773,#9ad579,#94d47f,#8fd383,#93d480,#91d381,#a2d772,#aad96c,#b7dc60,#b7dc61,#b8dc60,#b1da66,#c1de59,#b1db65,#c2de58,#cde14f,#c0de59,#c0de59,#c4df56,#c6e054,#dbe544,#dbe545,#d3e34a,#dee642,#e8e83b,#cae151,#c3df57,#bfde5a,#c9e052,#e1e740,#d8e447,#e3e73f,#cfe24d,#c7e054,#dae545,#ebe738,#f2e534,#f0e535,#f7d730,#f9c82e,#f9cb2e,#f9ba2d,#f8a52b,#f5872a,#f5872a,#f47929,#f26727,#f26227,#ea3626,#ea3826,#e62d27,#e52927,#e32527,#ee4326,#ea3826,#f05527)"></i>
<i style="left:62.74px;top:62.74px;width:63.73px;height:63.73px;background:conic-gradient(#ef4826,#ee4626,#ee4626,#ed3e26,#ec3c26,#ec3d26,#ed3f26,#e73027,#ef4726,#ea3726,#ec3e26,#e93526,#e73027,#ec3d26,#f15e27,#f47929,#f37628,#f79d2b,#f7982b,#f58a2a,#f7982b,#f8a32b,#f8a52b,#f79d2b,#f8a52b,#f9bc2d,#f8ce2f,#f5e132,#f6df31,#e6e83c,#d9e546,#d0e24d,#c0de59,#c7e053,#acd969,#9bd579,#9dd676,#81d093,#88d18a,#96d47d,#add969,#9fd675,#99d57a,#93d480,#8ed384,#8ed385,#8dd286,#a0d774,#a6d86f,#b4db63,#b4db63,#b4db63,#b3db64,#c0de59,#b0da67,#bfde5a,#c7e054,#bbdd5e,#bfde5a,#c4df56,#c0de59,#d5e349,#d3e34b,#cae151,#d7e447,#e1e740,#c2de58,#bddd5c,#b9dc5f,#bcdd5c,#d5e449,#d1e24c,#dae545,#c4df56,#bcdd5d,#cee24f,#e3e73f,#e7e83b,#e5e83d,#f3e533,#f5e132,#ece638,#f5e232,#f9c82e,#f7a02b,#f79c2b,#f6912a,#f47e29,#f47629,#ee4626,#ec3c26,#e52b27,#e02427,#dc2327,#ea3926,#e62d27,#ef4826)"></i>
<i style="left:64.73px;top:64.73px;width:59.74px;height:59.74px;background:conic-gradient(#e93426,#e93526,#e93526,#e73027,#e62c27,#e52a27,#e83327,#e52927,#ef4626,#eb3a26,#ed4026,#ec3d26,#eb3926,#ef4726,#f26627,#f48129,#f47c29,#f7a02b,#f79e2b,#f58a2a,#f79b2b,#f8a42b,#f8a52b,#f79f2b,#f8a92b,#f9c02d,#f8ce2f,#f5e132,#f6dd31,#e9e73a,#dce543,#d2e34b,#c3df56,#c9e052,#adda69,#9ad57a,#9bd678,#80d094,#85d18d,#92d381,#a6d86f,#9dd677,#98d57b,#92d481,#8ed384,#8cd287,#8cd286,#9ed675,#a2d772,#b2db65,#b1db66,#b3db64,#b2db65,#bcdd5c,#adda69,#badd5e,#c1de58,#b6dc61,#bddd5c,#c0de59,#bbdd5d,#cae151,#cae052,#bfde5a,#cde14f,#dbe544,#c1de58,#bbdd5d,#b9dc5f,#bfde5a,#d7e448,#d0e24d,#d9e546,#c2de58,#b7dc61,#c6e054,#dde643,#dee642,#dae545,#ece638,#ede637,#dce544,#e8e73a,#f2e534,#f9c12d,#f9bb2d,#f8ab2b,#f6952a,#f37628,#ef4a26,#ec3c26,#e52927,#d82227,#d02126,#e42827,#db2327,#e93426)"></i>
<i style="left:66.72px;top:66.72px;width:55.76px;height:55.76px;background:conic-gradient(#d82227,#d92327,#d82327,#d92327,#d22126,#d42226,#e32627,#e32527,#ee4426,#ec3c26,#ee4626,#ef4826,#ee4326,#f05026,#f37028,#f5892a,#f48029,#f8a12b,#f8a12b,#f58c2a,#f79e2b,#f8a52b,#f8a82b,#f8a42b,#f8b02c,#f9c52e,#f8d02f,#f5e432,#f6e031,#ebe739,#e3e73e,#d3e34a,#c5df55,#c8e053,#adda69,#98d57b,#99d57b,#80d094,#83d090,#8dd385,#a0d774,#99d57a,#95d47e,#91d382,#8ed384,#8bd287,#8ad288,#9dd677,#a0d774,#b2db65,#b0da67,#b0da67,#b0da66,#b8dc60,#acd96a,#b9dc5f,#bede5b,#b5db63,#bbdd5e,#c0de59,#b5dc62,#c2df57,#c3df57,#b7dc60,#c6df55,#d7e447,#bddd5c,#b6dc61,#b5dc62,#bcdd5c,#d4e34a,#cce150,#d5e449,#bcdd5d,#b1db66,#c3df57,#dae545,#d9e446,#d1e24c,#e3e73e,#e5e83d,#cee24e,#dae545,#e2e73f,#f5e132,#f6de31,#f8d02f,#f9b82d,#f16027,#e93626,#e42727,#d72227,#c31e25,#bc1d24,#d22126,#c21e25,#d82227)"></i>
<i style="left:68.71px;top:68.71px;width:51.78px;height:51.78px;background:conic-gradient(#b91d23,#c11e25,#c31e25,#cb1f26,#c51e25,#cb2026,#e32527,#e42827,#ef4726,#ee4226,#ef4a26,#f05226,#f05126,#f15c27,#f47929,#f68f2a,#f5832a,#f8a22b,#f8a52b,#f6902a,#f8a22b,#f8a72b,#f8ae2c,#f8a82b,#f8b52c,#f9ca2e,#f8d12f,#f1e535,#f5e132,#ede637,#e7e83b,#d3e34b,#c5df55,#c8e053,#a9d96c,#96d47d,#95d47e,#7ed096,#82d092,#8bd288,#9cd677,#97d57c,#93d480,#91d382,#8fd384,#89d289,#88d28a,#9dd677,#9ed675,#b0da67,#abd96b,#a9d96c,#adda69,#b3db64,#a6d86e,#b5db63,#bbdd5d,#b3db64,#b9dc5f,#bddd5c,#b0da66,#bddd5c,#bbdd5d,#aeda68,#bcdd5c,#d0e24d,#b7dc61,#b3db64,#b3db64,#b8dc60,#cde14f,#c7e054,#d0e24d,#b3db64,#adda69,#bfde5a,#d6e448,#d0e24d,#c8e053,#dde543,#dae545,#c3df57,#d0e24d,#d3e34a,#eae739,#e6e83c,#eae739,#f5e232,#f36d28,#e93626,#db2327,#c71f26,#a61a20,#a41a20,#bb1d24,#a31a20,#b91d23)"></i>
<i style="left:70.70px;top:70.70px;width:47.80px;height:47.80px;background:conic-gradient(#af1b22,#c01e25,#c61f25,#cf2026,#ce2026,#d42126,#e73027,#e72f27,#f05427,#f05627,#f15e27,#f26a27,#f26627,#f36f28,#f58b2a,#f79c2b,#f68e2a,#f8ae2c,#f8b42c,#f79d2b,#f8ae2c,#f8b02c,#f8b72c,#f8b12c,#f9bf2d,#f8d12f,#f7d730,#ede638,#f4e432,#ece638,#e7e83b,#d0e24d,#c0de5a,#c4df56,#a6d86e,#94d47f,#92d481,#7fd096,#81d092,#88d18a,#98d57b,#96d47d,#93d480,#91d382,#8fd384,#87d18b,#88d18a,#9cd677,#9fd675,#afda67,#a8d96d,#a7d86e,#acd96a,#b1db66,#a3d771,#b1db65,#b6dc61,#afda67,#b4db63,#b8dc60,#aad96b,#b7dc61,#b6dc62,#a8d86d,#b5dc62,#c4df56,#b4db63,#aeda68,#acd96a,#afda67,#c6e054,#c0de59,#c8e053,#abd96a,#a5d86f,#badd5e,#cfe24e,#c7e053,#bede5b,#cee24f,#cde24f,#b6dc62,#c5df55,#c4df56,#dde643,#d3e34b,#cde14f,#d4e34a,#f9c52e,#f5842a,#f05226,#e62d27,#bd1d24,#b01b22,#be1e24,#9d191f,#af1b22)"></i>
<i style="left:72.69px;top:72.69px;width:43.81px;height:43.81px;background:conic-gradient(#e42827,#ea3726,#eb3a26,#ee4326,#ec3d26,#ed3e26,#f15c27,#f05326,#f37528,#f47a29,#f48029,#f68d2a,#f5862a,#f58c2a,#f8a42b,#f9b82d,#f8a52b,#f9c42e,#f9ca2e,#f8b02c,#f9c12d,#f9c02d,#f9c82e,#f9c02d,#f9cc2e,#f7d930,#f6db31,#eae73a,#f0e535,#ebe739,#e7e83c,#cee24e,#c2de58,#c6e055,#a9d96c,#95d47e,#95d47e,#84d18e,#85d18d,#8cd287,#9bd579,#9bd678,#9ad57a,#98d57c,#97d57d,#89d289,#8cd286,#a1d773,#a1d773,#b7dc60,#aad96b,#a6d86f,#afda67,#b2db65,#a5d870,#b4db63,#b7dc60,#afda67,#b7dc61,#bbdd5d,#a8d86d,#b4db63,#b5db62,#aad96c,#b5db63,#c0de59,#b1db65,#aad96b,#aad96b,#aad96c,#bede5b,#badd5e,#c0de59,#a3d771,#a1d772,#b5db62,#c7e054,#bddd5c,#b5db63,#c3df57,#c1de59,#abd96b,#b9dc5f,#b8dc60,#cfe24d,#c5df55,#badd5f,#b7dc61,#c4df56,#f3e433,#f9bc2d,#f7992b,#f15e27,#ee4426,#ef4926,#e32527,#e42827)"></i>
<i style="left:74.69px;top:74.69px;width:39.83px;height:39.83px;background:conic-gradient(#f68f2a,#f79a2b,#f6932a,#f6942a,#f5892a,#f47b29,#f68e2a,#f5822a,#f79f2b,#f79d2b,#f79e2b,#f8af2c,#f8a22b,#f8a72b,#f9c32e,#f7d330,#f9be2d,#f6da31,#f5e132,#f9c52e,#f7d630,#f8d12f,#f7d630,#f8ce2f,#f6db31,#f3e433,#f5e432,#e4e83d,#ebe739,#e9e73a,#e5e83c,#cbe151,#c1de59,#c7e054,#adda69,#98d57c,#97d57c,#89d289,#8ad289,#90d383,#9ed676,#a0d774,#a1d773,#9dd677,#9cd677,#8ed385,#91d382,#a8d86d,#a7d86e,#bddd5c,#afda68,#a8d86d,#b2db65,#b3db64,#a6d86f,#b4db63,#b8dc60,#b0da66,#b9dc5f,#bede5b,#a9d96c,#b2db65,#b7dc61,#abd96b,#b7dc61,#bfde5a,#aeda68,#a9d96c,#a7d86e,#a4d770,#b8dc60,#b4db63,#b9dc5f,#9fd675,#9dd677,#b0da67,#c1de58,#b6dc61,#a9d96c,#b6dc61,#b4db63,#9fd675,#b2db65,#b0da67,#c8e053,#bcdd5d,#aeda68,#a9d96c,#a2d772,#c2df57,#d9e446,#e9e73a,#f9c52e,#f8af2c,#f8b52c,#f68f2a,#f68f2a)"></i>
<i style="left:76.68px;top:76.68px;width:35.85px;height:35.85px;background:conic-gradient(#f6df31,#f1e535,#f5e132,#f6e031,#f8d32f,#f9c02d,#f8d22f,#f9c42e,#f6dc31,#f7d530,#f8d02f,#f6dc31,#f9c62e,#f9c52e,#f5e232,#eee637,#f7d430,#efe636,#eae739,#f7d830,#f1e535,#f6e031,#f5e232,#f6dd31,#eee637,#eae739,#f0e535,#dce544,#e4e83d,#e8e73b,#e4e73e,#cbe150,#c2de58,#c8e053,#afda67,#9ad579,#99d57b,#8dd286,#8ed384,#94d47f,#a2d772,#a4d870,#a5d86f,#a1d773,#a3d771,#93d480,#96d47d,#aeda68,#adda69,#c1de59,#b0da67,#a8d86d,#b5db63,#b5db62,#a8d86d,#b7dc61,#badd5e,#b3db64,#bbdd5e,#c2de58,#acd96a,#aeda68,#b7dc61,#aad96b,#b9dc5f,#c0de59,#afda68,#a8d86d,#a8d86d,#a3d771,#b5dc62,#b5db63,#b9dc5f,#9ed676,#9dd676,#b1db66,#c6df55,#b9dc5f,#a8d96d,#b2db65,#aeda68,#9cd678,#b0da67,#acd96a,#c3df57,#bcdd5d,#aad96b,#a4d771,#9ed676,#b6dc61,#c1de58,#c3df57,#e6e83c,#ece638,#e3e73f,#f7d830,#f6df31)"></i>
<i style="left:78.67px;top:78.67px;width:31.86px;height:31.86px;background:conic-gradient(#cce150,#bfde5a,#c6e054,#cbe150,#dce544,#eee637,#dfe642,#eae739,#dae545,#e6e83c,#ebe738,#e0e641,#f5e432,#f5e232,#e3e73e,#d7e448,#f0e535,#e0e640,#d5e349,#f0e535,#e2e73f,#ece638,#ece638,#f0e535,#e2e73f,#e0e641,#ece738,#d7e448,#dbe544,#e7e83c,#e0e641,#cbe151,#c5df55,#cce150,#b5db63,#9dd676,#9bd579,#91d381,#93d480,#98d57b,#a8d86d,#aad96c,#afda68,#aad96c,#aeda68,#99d57a,#9cd677,#b5db63,#b4db64,#cbe151,#b2db65,#a7d86e,#b6dc61,#b8dc60,#aad96c,#b6dc62,#b7dc60,#b1db65,#badd5e,#c5df55,#a9d96c,#acd969,#b7dc61,#add969,#bbdd5e,#bfde5a,#afda68,#a9d96d,#a9d96c,#a1d773,#b4db63,#b5db62,#b4db63,#9cd677,#9cd677,#b1da66,#c9e052,#bbdd5e,#a9d96c,#b1db66,#afda67,#9cd678,#b0da67,#a6d86f,#c0de59,#badd5e,#a6d86f,#9fd675,#9bd579,#b1da66,#badd5f,#b5dc62,#d1e24c,#cde14f,#b8dc60,#d6e448,#cce150)"></i>
<i style="left:80.66px;top:80.66px;width:27.88px;height:27.88px;background:conic-gradient(#bfde5a,#abd96a,#b7dc61,#bcdd5d,#cbe151,#e2e73f,#cee24f,#d5e349,#c5df55,#d6e448,#e0e641,#cbe151,#e9e73a,#ede637,#dae545,#cbe151,#e5e83d,#d1e34c,#c8e053,#e6e83c,#d1e24c,#e4e73e,#e6e83c,#e9e73a,#d4e34a,#d7e448,#e6e83c,#cee24e,#d2e34b,#e4e73d,#dbe544,#c9e052,#c7e054,#cee24e,#b8dc60,#9fd675,#9fd675,#98d57c,#9bd579,#9dd677,#aeda68,#b1da66,#b6dc62,#b3db64,#b7dc61,#a0d774,#a4d770,#bcdd5c,#b8dc60,#d0e24d,#b3db64,#a9d96c,#b8dc60,#b6dc61,#afda68,#b9dc5f,#badd5e,#b2db65,#bbdd5d,#c8e053,#abd96b,#adda69,#b6dc62,#aeda68,#bddd5c,#c3df57,#b5db62,#afda67,#afda67,#a2d772,#b4db63,#b9dc5f,#b7dc61,#9ed676,#a0d674,#b8dc60,#cee24f,#c1de58,#acd969,#b3db64,#b0da66,#9dd676,#b4db64,#a7d86e,#c0de5a,#bcdd5d,#a5d870,#9dd677,#9bd678,#afda67,#b4db63,#acd96a,#cbe151,#c4df56,#acd969,#c8e053,#bfde5a)"></i>
<i style="left:82.65px;top:82.65px;width:23.90px;height:23.90px;background:conic-gradient(#b8dc60,#a4d870,#aeda68,#b1db65,#bfde5a,#d2e34b,#c2de58,#c3df57,#b9dd5f,#c7e053,#d4e349,#c0de5a,#dfe641,#eae73a,#d1e24c,#c0de59,#d9e446,#c8e053,#bfde5a,#d9e546,#c3df57,#d6e448,#dae545,#e2e73f,#cbe151,#cce150,#dce543,#cae052,#c8e053,#dfe641,#d8e446,#c7e054,#c6e054,#cbe151,#b7dc61,#9fd674,#a0d773,#99d57a,#9dd676,#9ed676,#afda67,#b5db63,#badd5e,#b7dc61,#bcdd5c,#a2d772,#a6d86e,#c1de58,#b9dc5f,#d3e34b,#b2db65,#a9d96c,#bcdd5c,#b7dc60,#b1da66,#b9dc5f,#bbdd5d,#b3db64,#bddd5c,#c9e052,#a9d96c,#afda68,#b8dc60,#b3db64,#bedd5b,#c2df58,#b9dc5f,#b3db64,#b2db65,#a4d870,#b7dc61,#bcdd5d,#b9dc5f,#a2d772,#a6d86f,#bcdd5d,#cee24e,#c4df56,#b2db65,#b5db63,#b4db63,#a0d774,#b5dc62,#a6d86e,#c0de59,#bddd5b,#a6d86f,#9dd677,#9cd678,#acd96a,#aeda68,#a8d86d,#c6df55,#bede5b,#a6d86f,#c1de59,#b8dc60)"></i>
<i style="left:84.64px;top:84.64px;width:19.91px;height:19.91px;background:conic-gradient(#b7dc61,#a1d773,#a6d86e,#a9d96d,#b5db63,#c8e053,#badd5e,#b8dc60,#b1da66,#bede5b,#cde14f,#b5db63,#d6e448,#e4e73d,#cae151,#bbdd5e,#d0e24d,#c2df58,#badd5e,#d0e24d,#bbdd5e,#cde14f,#d4e349,#dae545,#c4df56,#c6df55,#d6e448,#c8e053,#c3df57,#dde643,#d6e448,#c4df56,#c6e054,#c9e052,#b8dc60,#a0d774,#a2d772,#9cd678,#a2d772,#a2d772,#b1db65,#b8dc60,#bcdd5c,#bbdd5d,#c0de59,#a2d772,#a6d86e,#c0de5a,#b8dc60,#d5e349,#b1db65,#aad96c,#c1de59,#b9dc5f,#b3db64,#bcdd5d,#bede5b,#b3db64,#bbdd5d,#c9e053,#adda69,#afda67,#b5db63,#b7dc61,#bede5b,#c3df57,#bcdd5d,#badd5f,#b7dc61,#a8d86d,#badd5e,#bede5b,#bbdd5d,#a0d774,#a5d86f,#bede5b,#d0e24d,#c8e053,#b5db63,#b6dc62,#b5dc62,#a1d772,#b8dc60,#a8d86d,#c2de58,#c0de59,#aad96c,#a0d774,#a0d774,#afda68,#abd96b,#a1d773,#bfde5a,#b6dc61,#a1d773,#bcdd5c,#b7dc61)"></i>
<i style="left:86.63px;top:86.63px;width:15.93px;height:15.93px;background:conic-gradient(#b6dc61,#a3d772,#a7d86e,#a9d96c,#b3db64,#c8e053,#badd5e,#b7dc61,#acd969,#b7dc61,#c7e054,#acd96a,#cfe24e,#dde643,#c4df56,#b7dc61,#c8e053,#bcdd5d,#b3db64,#c6df55,#b3db64,#c0de59,#cae151,#d1e24c,#bddd5c,#bcdd5c,#cfe24d,#c9e052,#c1de59,#d9e446,#d2e34c,#c3df56,#c5df56,#c8e053,#badd5e,#9fd674,#a4d870,#9fd675,#a9d96c,#a7d86e,#b4db63,#b9dc5f,#bcdd5c,#bddd5c,#c1de58,#a5d86f,#acd96a,#c2df57,#b7dc60,#d4e34a,#b2db65,#abd96b,#c1de58,#b9dc5f,#b1db65,#bcdd5c,#c1de59,#b5db63,#b9dc5f,#c6df55,#acd96a,#acd96a,#b6dc62,#bede5b,#bddd5c,#c3df56,#bddd5c,#bddd5c,#b8dc60,#a5d86f,#b5db63,#bbdd5d,#b8dc60,#9ed676,#a4d870,#bddd5c,#cae151,#c3df57,#afda68,#adda69,#b2db64,#a0d774,#b4db63,#a2d772,#bede5b,#bfde5a,#a7d86d,#9ed676,#a0d774,#afda67,#aad96b,#9fd675,#bcdd5c,#b5db63,#a2d772,#bede5b,#b6dc61)"></i>
<i style="left:88.63px;top:88.63px;width:11.95px;height:11.95px;background:conic-gradient(#b4db63,#a3d771,#a8d86d,#a8d86d,#b4db63,#c7e053,#b9dc5f,#b1db65,#a7d86e,#afda67,#c1de58,#a8d86d,#c2df57,#d2e34c,#badd5e,#b0da66,#bfde5a,#b7dc61,#acd969,#bfde5a,#aad96b,#b6dc62,#c0de59,#cae151,#b6dc61,#b5db62,#cae151,#c6e054,#bcdd5c,#d8e447,#d0e24d,#bfde5a,#c3df57,#c6df55,#bddd5c,#a0d674,#a5d86f,#a3d771,#afda67,#aeda68,#b6dc62,#bbdd5d,#bddd5b,#c1de58,#c5df55,#a8d86d,#aeda68,#c2de58,#b5dc62,#d3e34b,#b3db64,#acd96a,#c2df57,#b8dc60,#b2db65,#bcdd5d,#c1de59,#b2db65,#b8dc60,#c9e052,#aeda68,#a9d96c,#b5dc62,#c2df58,#bfde5a,#c5df55,#bcdd5c,#bddd5c,#b6dc62,#a3d771,#b1db65,#b5dc62,#b3db64,#9dd677,#a4d770,#bcdd5d,#c4df56,#bddd5b,#abd96b,#a8d86d,#b1da66,#a0d774,#b8dc60,#a1d773,#bcdd5d,#bddd5c,#a6d86e,#9dd677,#9fd675,#aeda68,#a9d96c,#9dd676,#bedd5b,#b4db64,#a4d770,#badd5e,#b4db63)"></i>
<i style="left:90.62px;top:90.62px;width:7.97px;height:7.97px;background:conic-gradient(#b1db66,#a1d773,#a8d86d,#aad96b,#b4db63,#c6e055,#b8dc60,#afda67,#a6d86f,#abd96b,#badd5e,#a1d773,#bbdd5d,#cbe150,#b3db64,#aad96b,#b9dc5f,#adda69,#a3d771,#b9dc5f,#a5d870,#aeda68,#b9dc5f,#c2df58,#b0da67,#aad96b,#c1de59,#c3df56,#b7dc61,#d4e34a,#cce150,#bddd5c,#c3df57,#c5df55,#bbdd5d,#a0d774,#a9d96c,#a7d86e,#b0da67,#b0da67,#b9dd5f,#bede5b,#bddd5c,#c4df56,#c5df55,#a7d86e,#b0da67,#c3df57,#b6dc62,#d2e34b,#b4db63,#afda67,#c3df57,#bbdd5d,#b4db63,#bbdd5d,#c1de58,#b0da66,#b8dc60,#cbe151,#b0da66,#a7d86e,#b4db63,#c7e054,#bede5b,#c3df57,#bddd5c,#bddd5c,#b4db63,#a0d773,#afda67,#b5db63,#b1db66,#9ed676,#a6d86f,#b8dc60,#c1de58,#bbdd5d,#a8d86d,#a1d773,#aeda68,#a0d774,#b4db63,#9ed676,#b8dc60,#bbdd5e,#a5d86f,#9ad579,#9ed676,#add969,#a9d96c,#9cd678,#bbdd5d,#afda67,#a2d772,#b7dc60,#b1db66)"></i>
<i style="left:92.61px;top:92.61px;width:3.98px;height:3.98px;background:conic-gradient(#b0da66,#a3d771,#a9d96d,#a9d96c,#b2db65,#c3df57,#b8dc60,#adda69,#a4d770,#a6d86f,#b4db64,#9dd677,#b7dc61,#c3df57,#abd96a,#a3d771,#aeda68,#a6d86f,#9ed676,#afda67,#9fd675,#a5d86f,#afda67,#bbdd5e,#a8d86d,#a5d870,#bbdd5e,#c1de58,#b3db64,#d0e24d,#c7e053,#b9dd5f,#bede5b,#c3df57,#bddd5c,#a4d870,#add969,#aeda68,#b7dc60,#b6dc61,#bddd5c,#bede5b,#bfde5a,#c3df57,#c2df57,#a5d86f,#b3db64,#c4df56,#b7dc61,#d0e24c,#b6dc62,#b2db64,#c5df55,#b8dc60,#b5db62,#badd5f,#c3df57,#afda67,#b8dc60,#cbe151,#b2db65,#a4d870,#b4db64,#cbe151,#bede5b,#c0de59,#b9dd5f,#bcdd5d,#b4db63,#9ed675,#adda69,#b1db65,#b0da67,#9ed676,#a7d86e,#b6dc62,#bddd5c,#b9dc5f,#a3d771,#9fd675,#a9d96c,#9fd675,#b2db65,#99d57a,#b3db64,#b7dc60,#a3d771,#99d57a,#9ed676,#acd96a,#a7d86e,#9cd678,#b9dc5f,#acd96a,#a2d772,#b7dc60,#b0da66)"></i>
</div>
<svg class="ov" style="left:37.0px;top:273.6px" width="200" height="200" viewBox="-100 -100 200 200">
<circle r="23.40" stroke="#b0b0b0" stroke-opacity="0.38" stroke-width="0.5" fill="none"/>
<circle r="46.80" stroke="#b0b0b0" stroke-opacity="0.38" stroke-width="0.5" fill="none"/>
<circle r="70.20" stroke="#b0b0b0" stroke-opacity="0.38" stroke-width="0.5" fill="none"/>
<line x1="0.00" y1="-93.60" x2="-0.00" y2="93.60" stroke="#b0b0b0" stroke-opacity="0.38" stroke-width="0.5" fill="none"/>
<line x1="66.19" y1="-66.19" x2="-66.19" y2="66.19" stroke="#b0b0b0" stroke-opacity="0.38" stroke-width="0.5" fill="none"/>
<line x1="93.60" y1="-0.00" x2="-93.60" y2="0.00" stroke="#b0b0b0" stroke-opacity="0.38" stroke-width="0.5" fill="none"/>
<line x1="66.19" y1="66.19" x2="-66.19" y2="-66.19" stroke="#b0b0b0" stroke-opacity="0.38" stroke-width="0.5" fill="none"/>
<circle r="93.65" stroke="#3c3c3c" stroke-width="0.75" fill="none"/>
</svg>
<div class="pl" style="left:268.6px;top:279.0px">
<i style="left:0.65px;top:0.65px;width:187.90px;height:187.90px;background:conic-gradient(#f9c22d,#f9c82e,#f9c12d,#f8b72c,#f8b12c,#f8b02c,#f9c12d,#f9c52e,#f8a22b,#f79a2b,#f6962a,#f8a22b,#f8a12b,#f7992b,#f8ae2c,#f79a2b,#f6902a,#f58b2a,#f6922a,#f58b2a,#f36c28,#f68e2a,#f6912a,#f8a32b,#f8a72b,#f8b72c,#f8d02f,#f6db31,#f0e536,#c7e053,#c1de59,#b9dc5f,#99d57b,#a6d86f,#3476bb,#305cab,#2f56a9,#2f52a7,#2e4fa6,#2e4ca5,#2d48a3,#2d46a1,#2c43a0,#2c429f,#2c409e,#2c3f9e,#2b3e9d,#2b3e9d,#2b3d9c,#2b3d9d,#2b3e9d,#2b3f9d,#2c3f9e,#2c409e,#2c429f,#2c43a0,#2d45a1,#2d48a3,#2e4ca5,#2e4fa6,#2e51a7,#2f54a8,#3161ad,#7acf9c,#7fd095,#91d382,#89d28a,#7ed097,#94d47f,#9fd675,#9ed676,#a2d772,#a9d96c,#b8dc60,#eee637,#d5e449,#f7d830,#f9bf2d,#f9bb2d,#f9c22d,#f8b22c,#f8aa2b,#f8a62b,#f8a42b,#f8ae2c,#f6922a,#f79e2b,#f8a22b,#f8b32c,#f8a42b,#f8a72b,#f9c22d,#f7d730,#f9bc2d,#f9c22d,#f9c42e,#f9c22d)"></i>
<i style="left:2.99px;top:2.99px;width:183.22px;height:183.22px;background:conic-gradient(#f9be2d,#f9c42e,#f9be2d,#f8b32c,#f8aa2b,#f8b02c,#f9c42e,#f9c42e,#f8a22b,#f6942a,#f6952a,#f79f2b,#f7a02b,#f6942a,#f8a82b,#f6962a,#f68e2a,#f58b2a,#f68f2a,#f5862a,#f26527,#f68d2a,#f58b2a,#f79f2b,#f8a22b,#f8b42c,#f9c12d,#f9cb2e,#f6dd31,#d9e546,#d2e34b,#c8e053,#a2d772,#afda67,#a9d96c,#8cd286,#42c4ea,#3cb3e6,#3476bb,#3161ad,#305eac,#305aab,#2f57aa,#2f55a9,#2f53a8,#2f52a7,#2e51a7,#2e50a7,#2e4fa6,#2e50a7,#2e50a7,#2e51a7,#2f52a8,#2f53a8,#2f55a9,#2f57a9,#305aab,#305dac,#3162ad,#336db5,#399bd6,#3fc2ee,#8cd286,#7fd096,#86d18d,#9bd579,#92d381,#83d090,#99d57b,#a9d96c,#a5d86f,#acd96a,#b5db63,#c2de58,#f2e534,#d6e449,#f7d530,#f9b82d,#f9b82d,#f9c22d,#f8b12c,#f8aa2b,#f8ab2b,#f8a92b,#f8b12c,#f6912a,#f79d2b,#f8a52b,#f8b22c,#f8a52b,#f8aa2b,#f9c22d,#f8d22f,#f9b82d,#f9bf2d,#f9c22d,#f9be2d)"></i>
<i style="left:4.98px;top:4.98px;width:179.23px;height:179.23px;background:conic-gradient(#f9ba2d,#f9c42e,#f9bf2d,#f8b12c,#f8a42b,#f8b02c,#f9c42e,#f9c42e,#f7a12b,#f68f2a,#f6932a,#f7982b,#f8a22b,#f6902a,#f8a32b,#f6932a,#f58b2a,#f5842a,#f5882a,#f48029,#f26127,#f5892a,#f5872a,#f79a2b,#f79a2b,#f8a82b,#f8b22c,#f9ba2d,#f8ce2f,#e8e73b,#e4e83d,#d9e446,#adda69,#bddd5b,#b7dc61,#90d382,#99d57a,#b6dc62,#94d47f,#40c3ed,#3cb0e5,#357cbf,#3164af,#3160ad,#305eac,#305cab,#305aab,#3059aa,#2f58aa,#3059aa,#305aaa,#305bab,#305cab,#305eac,#3160ad,#3163ae,#3478bc,#3baae2,#40c3ed,#88d18a,#a7d86e,#a9d96d,#8dd385,#82d091,#8cd287,#a2d772,#9ad57a,#87d18b,#a1d773,#b9dd5f,#b2db65,#bbdd5e,#c6e054,#d0e24d,#f6de31,#dfe641,#f8ce2f,#f8b42c,#f8b42c,#f9c02d,#f8b52c,#f8ad2c,#f8ae2c,#f8a72b,#f8b12c,#f6922a,#f79b2b,#f8a82b,#f8b22c,#f8a42b,#f8aa2b,#f9c22d,#f8d32f,#f8b62c,#f9bd2d,#f9c32d,#f9ba2d)"></i>
<i style="left:6.97px;top:6.97px;width:175.25px;height:175.25px;background:conic-gradient(#f8b72c,#f9bf2d,#f9bd2d,#f8b02c,#f8a12b,#f8ac2c,#f9c42e,#f9bf2d,#f8a12b,#f58b2a,#f6942a,#f6922a,#f7a12b,#f6902a,#f79a2b,#f68d2a,#f5852a,#f47f29,#f5822a,#f37628,#f05727,#f5862a,#f48129,#f6912a,#f6932a,#f7a12b,#f8a52b,#f8ab2b,#f9bb2d,#f3e533,#eee637,#e8e73a,#badd5e,#c8e053,#c3df57,#95d47e,#9ed676,#badd5f,#95d47e,#8fd383,#92d481,#41c4ec,#3ebfec,#3899d5,#3478bc,#3165af,#3162ae,#3161ad,#305fad,#3160ad,#3161ad,#3163ae,#3268b1,#347abd,#3895d1,#3ebeec,#40c3ed,#93d480,#a0d774,#a2d772,#a8d86d,#adda69,#93d480,#89d289,#93d47f,#b0da66,#a4d771,#90d383,#abd96b,#c8e053,#bede5b,#c7e054,#dae545,#dfe642,#f7d830,#e9e73a,#f9ca2e,#f8b42c,#f8b12c,#f9bd2d,#f8b62c,#f8ac2c,#f8ab2b,#f8a42b,#f8ac2c,#f6922a,#f79b2b,#f8ae2c,#f8b22c,#f8a62b,#f8ae2c,#f9c32e,#f8d02f,#f8b32c,#f9be2d,#f9c52e,#f8b72c)"></i>
<i style="left:8.97px;top:8.97px;width:171.27px;height:171.27px;background:conic-gradient(#f8b32c,#f9bb2d,#f9ba2d,#f8af2c,#f79d2b,#f8ad2c,#f9c32d,#f9bd2d,#f79e2b,#f5882a,#f6912a,#f58c2a,#f79d2b,#f58c2a,#f6932a,#f58b2a,#f5832a,#f47c29,#f47d29,#f36e28,#ef4e26,#f48129,#f47c29,#f58a2a,#f68f2a,#f79f2b,#f79d2b,#f79f2b,#f8ad2c,#f6dc31,#f6e031,#f3e534,#cbe151,#d9e446,#d1e24c,#9bd579,#a2d772,#bbdd5d,#97d57c,#90d383,#92d481,#94d47f,#9ad579,#41c4ec,#3fc0ed,#3bade3,#3894d1,#3681c2,#3474ba,#357dc0,#3788c8,#399bd6,#3db6e7,#3fc1ed,#40c3ec,#8bd287,#b1db65,#9ad579,#a0d774,#a3d771,#aad96b,#b1db65,#97d57c,#8fd383,#9bd678,#c2df57,#b7dc61,#9ed675,#c0de59,#e0e640,#d2e34b,#dfe642,#e9e73a,#e9e73a,#f8d02f,#f0e535,#f9c12d,#f8af2c,#f8af2c,#f9c02d,#f8b52c,#f8ae2c,#f8ae2c,#f8a62b,#f8aa2b,#f6922a,#f79d2b,#f8b02c,#f8b12c,#f8a82b,#f8b42c,#f9c12d,#f9c92e,#f8b02c,#f9bf2d,#f9c42e,#f8b32c)"></i>
<i style="left:10.96px;top:10.96px;width:167.29px;height:167.29px;background:conic-gradient(#f8ac2b,#f9b82d,#f9b82d,#f8ac2c,#f7992b,#f8b32c,#f9c72e,#f9bb2d,#f79a2b,#f47f29,#f58a2a,#f5842a,#f79c2b,#f5862a,#f68f2a,#f58b2a,#f47f29,#f37628,#f47a29,#f26727,#ef4c26,#f47e29,#f47b29,#f5872a,#f58c2a,#f6962a,#f6962a,#f6942a,#f8a12b,#f8ce2f,#f8d02f,#f7d530,#dbe545,#e8e83b,#e0e740,#a3d771,#abd96a,#c2df57,#98d57b,#91d382,#92d481,#94d47f,#bbdd5d,#b0da67,#88d18a,#41c4ec,#3fc2ee,#3ec0ec,#3db8e8,#3ebfec,#3fc1ed,#3fc3ee,#42c4ea,#8fd383,#a6d86f,#c6df55,#b1db65,#9ad579,#a1d773,#a7d86e,#b2db65,#bbdd5d,#a8d86d,#9fd674,#aad96c,#d9e446,#d6e449,#b9dd5f,#dae545,#f5e432,#ebe739,#f5e432,#f7d930,#f6dc31,#f9bb2d,#f7d930,#f8b32c,#f8a52b,#f8a52b,#f9bb2d,#f8b22c,#f8a92b,#f8b12c,#f8a72b,#f8ab2b,#f6942a,#f79f2b,#f8b42c,#f8b32c,#f8aa2b,#f8b52c,#f9c12d,#f9c32d,#f8ab2b,#f9bf2d,#f9c02d,#f8ac2b)"></i>
<i style="left:12.95px;top:12.95px;width:163.30px;height:163.30px;background:conic-gradient(#f8ab2b,#f8b72c,#f8b52c,#f8af2c,#f7982b,#f8b22c,#f9c72e,#f9ba2d,#f79a2b,#f47b29,#f58a2a,#f5822a,#f79f2b,#f5852a,#f68d2a,#f68c2a,#f48029,#f37528,#f47d29,#f26527,#f05026,#f5872a,#f47f29,#f5882a,#f68e2a,#f7972b,#f68f2a,#f68e2a,#f79b2b,#f9cb2e,#f9ca2e,#f9cb2e,#e4e73d,#eae739,#e7e83c,#a9d96c,#b0da67,#cce150,#9cd677,#91d381,#92d481,#94d47f,#bbdd5d,#b0da67,#c8e053,#cee24e,#95d47e,#46c5e6,#41c4ec,#42c4ea,#71cda8,#b0da66,#cde14f,#c2df57,#a6d86f,#c6df55,#b1db65,#9ad579,#a3d771,#afda67,#bbdd5e,#d2e34b,#c1de58,#b8dc60,#bbdd5e,#eae73a,#eae73a,#d2e34b,#efe636,#f9cc2e,#f6dd31,#f9ca2e,#f9bc2d,#f9c62e,#f8ab2b,#f9c92e,#f8a32b,#f7982b,#f7972b,#f8b42c,#f8ad2c,#f8a72b,#f8b42c,#f8a62b,#f8ab2b,#f7972b,#f7a02b,#f8b52c,#f8b32c,#f8a82b,#f8b52c,#f9bf2d,#f9bd2d,#f8ac2c,#f9bf2d,#f9c12d,#f8ab2b)"></i>
<i style="left:14.94px;top:14.94px;width:159.32px;height:159.32px;background:conic-gradient(#f8aa2b,#f8b72c,#f8b22c,#f8b32c,#f6962a,#f8b32c,#f9c82e,#f9bc2d,#f7972b,#f47a29,#f58c2a,#f47c29,#f79e2b,#f5842a,#f58c2a,#f58a2a,#f47d29,#f37528,#f47f29,#f26327,#f05226,#f58b2a,#f5832a,#f5882a,#f68f2a,#f7992b,#f68d2a,#f58a2a,#f7982b,#f9c72e,#f9c62e,#f9c82e,#e9e73a,#f1e535,#efe636,#b4db64,#b4db63,#d1e24c,#a6d86f,#9dd677,#95d47f,#94d47f,#bbdd5d,#b0da67,#c8e053,#cee24e,#dae545,#d2e34b,#b9dc5f,#e4e83d,#d8e446,#d8e447,#cde14f,#c2df57,#a6d86f,#c6df55,#b1db65,#9ad579,#b5db62,#bddd5c,#cce150,#e2e73f,#cbe150,#c2df57,#c3df57,#ede637,#efe636,#e0e640,#f6e031,#f9bd2d,#f8cd2f,#f9b92d,#f8a92b,#f8b62c,#f79f2b,#f9bb2d,#f79c2b,#f68c2a,#f68d2a,#f8ac2c,#f8a92b,#f8a22b,#f8b02c,#f8a52b,#f8aa2b,#f7992b,#f79e2b,#f8b32c,#f8b02c,#f8a42b,#f8b12c,#f9b82d,#f8b42c,#f8a72b,#f9bb2d,#f9c32e,#f8aa2b)"></i>
<i style="left:16.93px;top:16.93px;width:155.34px;height:155.34px;background:conic-gradient(#f8aa2b,#f9b82d,#f8b32c,#f8b12c,#f6962a,#f8b62c,#f9ca2e,#f9bb2d,#f7972b,#f47829,#f58c2a,#f47a29,#f8a12b,#f5862a,#f58b2a,#f58b2a,#f47e29,#f47729,#f5822a,#f15e27,#f05627,#f68f2a,#f5882a,#f58b2a,#f6912a,#f79b2b,#f58b2a,#f5852a,#f6912a,#f9c02d,#f9c02d,#f9bf2d,#eae739,#f4e433,#f2e534,#b9dc5f,#b5db62,#d1e34c,#b1db65,#acd96a,#9ed676,#9fd674,#bbdd5d,#b0da67,#c8e053,#cee24e,#dae545,#d2e34b,#bbdd5d,#e4e83d,#d8e446,#d8e447,#cde14f,#c2df57,#a6d86f,#c6df55,#c2df57,#a7d86e,#c7e054,#cfe24e,#d9e546,#eae73a,#d6e448,#cee24e,#c6e054,#f0e535,#f5e232,#ece638,#f8d12f,#f8ae2c,#f9ba2d,#f8a82b,#f7992b,#f8a42b,#f6932a,#f8ac2b,#f6922a,#f5832a,#f5882a,#f8a32b,#f8a42b,#f79e2b,#f8b12c,#f7a12b,#f8a42b,#f7982b,#f7992b,#f8af2c,#f8ad2c,#f7a02b,#f8ad2c,#f8b32c,#f8ae2c,#f8a92b,#f9c02d,#f9c32d,#f8aa2b)"></i>
<i style="left:18.92px;top:18.92px;width:151.35px;height:151.35px;background:conic-gradient(#f8ac2c,#f9b92d,#f8b32c,#f8b42c,#f6962a,#f8b72c,#f9c92e,#f9bc2d,#f7992b,#f47729,#f68c2a,#f47a29,#f8a32b,#f5872a,#f58c2a,#f58a2a,#f47e29,#f47729,#f5842a,#f26127,#f15d27,#f6942a,#f58b2a,#f58c2a,#f6942a,#f79d2b,#f58c2a,#f5882a,#f79a2b,#f9cc2e,#f8cd2f,#f9cc2e,#dfe642,#ede637,#efe636,#badd5e,#b7dc61,#d3e34a,#b9dc5f,#bbdd5d,#abd96b,#b4db63,#cde14f,#c1de59,#c8e053,#cee24e,#dae545,#d2e34b,#bbdd5d,#e4e83d,#d8e446,#d8e447,#cde14f,#c2df57,#b7dc61,#d9e546,#dde643,#c0de59,#dce544,#e3e73f,#e9e73a,#f5e432,#e2e73f,#dae545,#d2e34b,#f6e031,#f7d730,#f5e232,#f9c32d,#f8a22b,#f8ac2c,#f7992b,#f58b2a,#f7972b,#f5852a,#f79e2b,#f58a2a,#f47a29,#f48029,#f7a02b,#f8a12b,#f79d2b,#f8af2c,#f7a02b,#f8a22b,#f79a2b,#f7992b,#f8ad2c,#f8aa2b,#f79f2b,#f8ac2c,#f8b02c,#f8a82b,#f8a92b,#f9c42e,#f9c02d,#f8ac2c)"></i>
<i style="left:20.91px;top:20.91px;width:147.37px;height:147.37px;background:conic-gradient(#f8ac2c,#f9b92d,#f8b22c,#f8b32c,#f7972b,#f8b62c,#f9c72e,#f9b92d,#f6932a,#f47629,#f68d2a,#f47829,#f8a52b,#f5892a,#f6902a,#f58c2a,#f47e29,#f47929,#f5892a,#f26527,#f26527,#f7972b,#f68f2a,#f58c2a,#f6942a,#f79d2b,#f6912a,#f68e2a,#f8a52b,#f7d930,#f7d830,#f7d930,#d8e447,#eee637,#f1e535,#c1de58,#bfde5a,#dce543,#c9e052,#cce150,#bbdd5e,#cbe151,#e8e73b,#dbe544,#dce544,#e1e740,#e1e740,#dae545,#c6e054,#ede638,#e5e83d,#dde643,#e1e740,#d5e449,#e0e641,#f4e433,#f3e433,#dce543,#efe636,#f3e534,#f5e332,#f8d02f,#f1e534,#efe636,#e8e73a,#f9c92e,#f9c22d,#f8cf2f,#f8af2c,#f7972b,#f7a02b,#f6912a,#f47c29,#f6902a,#f5872a,#f79d2b,#f58a2a,#f47629,#f47b29,#f79c2b,#f7992b,#f6942a,#f8a52b,#f79c2b,#f79f2b,#f79b2b,#f7992b,#f8ac2c,#f8ab2b,#f79f2b,#f8ac2b,#f8ad2c,#f8a52b,#f8a92b,#f9c32d,#f9bc2d,#f8ac2c)"></i>
<i style="left:22.91px;top:22.91px;width:143.39px;height:143.39px;background:conic-gradient(#f8ab2b,#f9ba2d,#f8b32c,#f8b32c,#f7972b,#f8b72c,#f9c22d,#f8b52c,#f68f2a,#f47929,#f6912a,#f47829,#f8a32b,#f5892a,#f6902a,#f58a2a,#f48029,#f47c29,#f58a2a,#f26227,#f36b28,#f8a12b,#f6912a,#f58b2a,#f6952a,#f8a12b,#f7992b,#f79a2b,#f8ad2c,#f6e031,#f6df31,#f5e232,#d4e34a,#efe536,#f2e534,#c4df56,#c5df55,#e2e73f,#d1e24c,#d9e446,#c2de58,#d2e34b,#f0e535,#e9e73a,#e2e73f,#ece738,#ebe739,#e5e83c,#cde14f,#f1e535,#eae73a,#e9e73a,#eee636,#e5e83d,#f3e534,#f8cd2f,#f8ce2f,#f1e535,#f7d630,#f8ce2f,#f9cb2e,#f9bb2d,#f8d32f,#f7d330,#f6e031,#f8b62c,#f8a92b,#f8b42c,#f7992b,#f58c2a,#f7972b,#f58a2a,#f37128,#f58a2a,#f5852a,#f7972b,#f5852a,#f36f28,#f37528,#f6952a,#f7972b,#f6912a,#f8a32b,#f79b2b,#f79d2b,#f79e2b,#f79a2b,#f8aa2b,#f8aa2b,#f79f2b,#f8a92b,#f8ab2b,#f8a22b,#f8a72b,#f9c22d,#f9b92d,#f8ab2b)"></i>
<i style="left:24.90px;top:24.90px;width:139.40px;height:139.40px;background:conic-gradient(#f8ae2c,#f9be2d,#f8b22c,#f8b32c,#f7972b,#f9b92d,#f9c32e,#f9b82d,#f68f2a,#f47a29,#f6922a,#f37428,#f8a12b,#f58a2a,#f6902a,#f58b2a,#f5832a,#f47d29,#f58a2a,#f26127,#f36f28,#f8a22b,#f6932a,#f68f2a,#f6942a,#f8a22b,#f7a02b,#f79d2b,#f8b32c,#f4e432,#f6de31,#f5e232,#d6e448,#f0e535,#f3e533,#c5df56,#c0de59,#d7e448,#d0e24d,#d5e349,#bfde5a,#cde14f,#ede637,#ebe739,#dee642,#ece638,#ece638,#e8e83b,#d3e34b,#f2e534,#ebe739,#eee637,#f4e433,#e8e73a,#f6da31,#f9bf2d,#f9c42e,#f7da30,#f9c62e,#f9ba2d,#f8b42c,#f8a32b,#f9bd2d,#f9b82d,#f9c32e,#f79e2b,#f6922a,#f79b2b,#f5832a,#f47b29,#f5882a,#f47b29,#f26827,#f47e29,#f47d29,#f6902a,#f5842a,#f26727,#f36c28,#f6922a,#f6952a,#f6912a,#f8a12b,#f7972b,#f79a2b,#f79c2b,#f6962a,#f8a82b,#f8aa2b,#f79c2b,#f8a52b,#f8a52b,#f79a2b,#f8a52b,#f9c42e,#f9ba2d,#f8ae2c)"></i>
<i style="left:26.89px;top:26.89px;width:135.42px;height:135.42px;background:conic-gradient(#f8b12c,#f9c22d,#f8b32c,#f8b42c,#f6952a,#f8b62c,#f9c12d,#f8b62c,#f58c2a,#f47d29,#f6922a,#f37528,#f8a12b,#f58a2a,#f68f2a,#f58a2a,#f5862a,#f47c29,#f5872a,#f16027,#f37128,#f8a32b,#f6952a,#f68e2a,#f6962a,#f8a52b,#f8a72b,#f8a32b,#f8b32c,#f3e433,#f5e132,#f0e535,#d1e24c,#eee636,#f2e534,#c4df56,#b9dc5f,#cde14f,#d0e24d,#d1e24c,#badd5e,#cae151,#ece638,#ede638,#e0e740,#ece638,#eee637,#e5e83d,#cfe24e,#efe536,#e7e83b,#f0e536,#f6da31,#ece638,#f8d02f,#f8b72c,#f9bf2d,#f8cd2f,#f9b92d,#f8a82b,#f7a02b,#f6902a,#f8a42b,#f79f2b,#f8ab2b,#f58b2a,#f47b29,#f48029,#f26a27,#f26a27,#f47a29,#f36c28,#f05727,#f36e28,#f37328,#f5872a,#f47b29,#f15a27,#f26127,#f58a2a,#f68f2a,#f5892a,#f79a2b,#f6952a,#f6942a,#f7992b,#f6942a,#f79f2b,#f7a12b,#f7972b,#f7a02b,#f8a12b,#f6942a,#f8a22b,#f9c12d,#f9b92d,#f8b12c)"></i>
<i style="left:28.88px;top:28.88px;width:131.44px;height:131.44px;background:conic-gradient(#f8b02c,#f9c42e,#f8b42c,#f8b52c,#f7972b,#f9b92d,#f9c12d,#f8b52c,#f68d2a,#f5822a,#f6942a,#f47929,#f79f2b,#f68d2a,#f6902a,#f5862a,#f5842a,#f47a29,#f5852a,#f26327,#f37628,#f8a22b,#f6932a,#f68d2a,#f7992b,#f8a72b,#f8b12c,#f8ac2c,#f9b82d,#f0e535,#f5e332,#ece638,#cde14f,#ede637,#f1e535,#c0de59,#b3db64,#c9e052,#cce150,#cee24e,#b7dc60,#c6e054,#e9e73a,#ece638,#dee642,#ede637,#f0e535,#e6e83c,#cee24f,#eee637,#e2e73f,#eee636,#f6dd31,#ebe739,#f8cd2f,#f8b42c,#f9c02d,#f9c42e,#f8b12c,#f79d2b,#f6912a,#f47e29,#f6912a,#f68e2a,#f7982b,#f47929,#f26927,#f36c28,#f05427,#f05727,#f26927,#f16027,#ef4a26,#f16027,#f26b27,#f47b29,#f37028,#f05126,#f15a27,#f5822a,#f5892a,#f48029,#f6952a,#f68e2a,#f68c2a,#f7982b,#f6942a,#f79b2b,#f79d2b,#f6952a,#f7992b,#f79a2b,#f68f2a,#f79f2b,#f9bb2d,#f8b42c,#f8b02c)"></i>
<i style="left:30.87px;top:30.87px;width:127.46px;height:127.46px;background:conic-gradient(#f8ab2b,#f9c62e,#f8b32c,#f8b42c,#f7972b,#f8b72c,#f9be2d,#f8b32c,#f68d2a,#f5862a,#f7972b,#f47729,#f79a2b,#f68d2a,#f6912a,#f5892a,#f5862a,#f47e29,#f5852a,#f26727,#f47929,#f8a42b,#f6952a,#f68c2a,#f7992b,#f8a92b,#f8b22c,#f8ae2c,#f9bb2d,#f0e535,#f5e432,#e6e83c,#c6e055,#eae739,#eee637,#bfde5a,#b1db65,#c1de58,#c7e054,#c7e054,#b3db64,#c5df55,#e4e83d,#ebe739,#dae545,#ede637,#f0e535,#e6e83c,#cae052,#ebe738,#dbe544,#ede637,#f6de31,#e9e73a,#f9cc2e,#f8b72c,#f9c32d,#f9c22d,#f8b32c,#f79c2b,#f6902a,#f47b29,#f5892a,#f5852a,#f68f2a,#f37228,#f26127,#f16027,#ef4a26,#f05226,#f15f27,#f15827,#ee4426,#f05527,#f26627,#f37228,#f26727,#ef4926,#f05226,#f47b29,#f5872a,#f47729,#f6902a,#f58c2a,#f5872a,#f6932a,#f6902a,#f6962a,#f6962a,#f6922a,#f6952a,#f6912a,#f5872a,#f79d2b,#f8b52c,#f8ae2c,#f8ab2b)"></i>
<i style="left:32.86px;top:32.86px;width:123.47px;height:123.47px;background:conic-gradient(#f8a82b,#f9c62e,#f8b02c,#f8b12c,#f6922a,#f8b32c,#f9bc2d,#f8b02c,#f5882a,#f5862a,#f7972b,#f47829,#f7982b,#f6912a,#f6902a,#f58b2a,#f58a2a,#f47b29,#f47c29,#f26127,#f47729,#f79c2b,#f6902a,#f5892a,#f6962a,#f8a72b,#f8b72c,#f8b02c,#f9be2d,#f0e535,#f5e332,#e4e73d,#cde14f,#e9e73a,#eae73a,#bcdd5c,#acd96a,#badd5e,#c3df57,#c4df56,#b0da66,#c3df57,#dfe641,#e9e73a,#d8e447,#ebe739,#f0e535,#e7e83b,#cde14f,#e9e73a,#d5e449,#ede638,#f6e031,#e6e83c,#f8cf2f,#f9ba2d,#f9c92e,#f9c22d,#f8b52c,#f79c2b,#f58a2a,#f47929,#f5822a,#f47929,#f5832a,#f36f28,#f15d27,#f15827,#ed3f26,#ef4f26,#f15827,#f05226,#ec3c26,#ef4826,#f15e27,#f26827,#f16027,#ed4026,#ef4926,#f37328,#f47e29,#f36f28,#f68c2a,#f5882a,#f48029,#f68d2a,#f68d2a,#f6912a,#f6942a,#f68f2a,#f6912a,#f58c2a,#f5842a,#f79d2b,#f8b12c,#f8a82b,#f8a82b)"></i>
<i style="left:34.86px;top:34.86px;width:119.49px;height:119.49px;background:conic-gradient(#f8a62b,#f9c32d,#f8ac2c,#f8ad2c,#f68e2a,#f8b02c,#f9b82d,#f8a82b,#f47b29,#f48129,#f68f2a,#f37228,#f68e2a,#f5842a,#f5872a,#f5862a,#f5822a,#f37228,#f37128,#f15e27,#f37328,#f7972b,#f58a2a,#f5842a,#f6952a,#f7a02b,#f8b52c,#f8b02c,#f9bb2d,#f6de31,#f8d32f,#eae73a,#dae545,#ede637,#e9e73a,#bfde5a,#acd969,#b7dc61,#bfde5a,#bddd5c,#b0da66,#bddd5b,#d7e448,#e4e73e,#cfe24e,#ebe739,#f3e433,#e8e83b,#d2e34b,#ebe739,#d6e448,#eee636,#f6de31,#e7e83b,#f9c92e,#f8b62c,#f9ca2e,#f9c02d,#f8b42c,#f79b2b,#f5892a,#f47829,#f47c29,#f37328,#f47629,#f36c28,#f05727,#ef4f26,#ea3726,#ef4926,#f05226,#ef4e26,#ea3726,#ec3e26,#f05627,#f15f27,#f05727,#ea3826,#ee4526,#f26927,#f37328,#f26427,#f5822a,#f47b29,#f47629,#f5852a,#f5832a,#f5872a,#f58a2a,#f5882a,#f58a2a,#f5832a,#f48029,#f79a2b,#f8ab2b,#f79e2b,#f8a62b)"></i>
<i style="left:36.85px;top:36.85px;width:115.51px;height:115.51px;background:conic-gradient(#f79d2b,#f9ba2d,#f8a32b,#f8a32b,#f5842a,#f8a22b,#f8aa2b,#f79c2b,#f37128,#f47a29,#f5852a,#f26527,#f47c29,#f37428,#f47929,#f47d29,#f47929,#f36e28,#f26927,#f15d27,#f37428,#f6942a,#f5852a,#f48029,#f6922a,#f7982b,#f8b02c,#f8ac2b,#f8b12c,#f7d330,#f9c92e,#efe636,#e8e83b,#f3e433,#eae739,#bfde5a,#adda69,#b3db64,#b8dc5f,#b8dc60,#aeda68,#badd5f,#d1e24c,#e1e740,#cde14f,#ede637,#f6dd31,#ede638,#dce543,#efe636,#e0e640,#f3e433,#f6dc31,#e7e83c,#f9c82e,#f8b52c,#f9ca2e,#f9bb2d,#f8ae2c,#f7992b,#f5862a,#f37628,#f37528,#f26a27,#f36b28,#f26427,#f05326,#ef4b26,#e83227,#ee4526,#ef4e26,#ef4726,#e72f27,#e83327,#ef4d26,#f05627,#ef4d26,#e83127,#ed3e26,#f16027,#f26627,#f05827,#f37528,#f36e28,#f36c28,#f47829,#f47829,#f47f29,#f5832a,#f48029,#f5812a,#f47729,#f47729,#f6912a,#f79f2b,#f6942a,#f79d2b)"></i>
<i style="left:38.84px;top:38.84px;width:111.52px;height:111.52px;background:conic-gradient(#f68d2a,#f8a72b,#f6952a,#f6922a,#f37228,#f68f2a,#f79a2b,#f68f2a,#f26227,#f36e28,#f47729,#f05727,#f36f28,#f26827,#f36d28,#f37528,#f37028,#f26527,#f26227,#f15827,#f36f28,#f6912a,#f5832a,#f47e29,#f68d2a,#f6932a,#f8ac2c,#f8a52b,#f8aa2b,#f9ca2e,#f9bc2d,#f5e432,#ede637,#f5e132,#ece638,#c4df56,#adda69,#b1db65,#b4db64,#b2db65,#a9d96c,#b2db65,#cae151,#dae545,#c9e052,#efe636,#f6dc31,#f1e535,#e4e73e,#f1e535,#e3e73e,#f5e132,#f7d730,#e9e73a,#f9c62e,#f8b02c,#f9c12d,#f8b12c,#f8a22b,#f68e2a,#f47a29,#f26827,#f26a27,#f15d27,#f15f27,#f15b27,#ef4b26,#ee4626,#e62c27,#ee4126,#ef4c26,#ef4826,#e72f27,#e62c27,#ef4826,#ef4a26,#ee4526,#e42927,#ea3926,#f05727,#f15a27,#ef4c26,#f26927,#f15d27,#f15d27,#f26927,#f26627,#f37028,#f37228,#f37328,#f37228,#f26527,#f26727,#f5822a,#f58a2a,#f47e29,#f68d2a)"></i>
<i style="left:40.83px;top:40.83px;width:107.54px;height:107.54px;background:conic-gradient(#f47f29,#f7982b,#f5862a,#f5832a,#f16027,#f47c29,#f5862a,#f48029,#f05326,#f26327,#f26927,#ef4b26,#f15f27,#f15a27,#f26427,#f36f28,#f26827,#f15e27,#f15c27,#f05727,#f36c28,#f58c2a,#f47e29,#f47729,#f5842a,#f5842a,#f79f2b,#f7992b,#f79e2b,#f9bd2d,#f8b02c,#f7d830,#f4e433,#f6db31,#eee637,#c7e054,#aeda68,#afda68,#b0da67,#b2db65,#a8d86d,#acd96a,#c0de59,#d2e34b,#c6e054,#eee637,#f6dc31,#efe636,#e3e73e,#ede637,#e0e641,#f2e534,#f6dd31,#e7e83b,#f9c62e,#f8b02c,#f9bd2d,#f8a92b,#f7972b,#f5832a,#f36e28,#f15c27,#f15b27,#f05026,#ef4d26,#f05126,#ee4526,#ed4026,#e42727,#ed4026,#ef4726,#ee4426,#e73027,#e52927,#ee4526,#ee4626,#ed3e26,#e12527,#e83227,#ef4b26,#ef4e26,#ed4126,#f05827,#ef4726,#ef4d26,#f05427,#f05226,#f16027,#f26227,#f26927,#f26527,#f05627,#f15b27,#f37528,#f47729,#f36c28,#f47f29)"></i>
<i style="left:42.82px;top:42.82px;width:103.56px;height:103.56px;background:conic-gradient(#f36d28,#f5872a,#f37628,#f37228,#f05226,#f36d28,#f37428,#f37128,#ee4326,#f05527,#f15c27,#ee4226,#f04f26,#ef4f26,#f05727,#f26627,#f16027,#f05226,#ef4e26,#ef4c26,#f15b27,#f47a29,#f36d28,#f26427,#f36f28,#f36f28,#f6902a,#f58b2a,#f6912a,#f8ac2c,#f8a32b,#f8cf2f,#f6dc31,#f7d930,#efe636,#cae151,#b3db64,#adda69,#add969,#aeda68,#a7d86e,#a8d86d,#bbdd5d,#c9e052,#bede5b,#ece738,#f5e332,#eae73a,#dce543,#e7e83b,#d8e447,#e9e73a,#f3e534,#e1e740,#f8d02f,#f8b62c,#f9bd2d,#f8a92b,#f6902a,#f47c29,#f26527,#f05126,#ef4e26,#ee4326,#ec3e26,#ee4526,#ed3f26,#eb3b26,#e02427,#eb3a26,#ee4126,#ee4126,#e62e27,#e42627,#ed3f26,#ec3e26,#eb3926,#df2427,#e62c27,#ec3e26,#ed4026,#eb3926,#ef4b26,#eb3a26,#ed3e26,#ee4526,#ee4226,#f05226,#f05226,#f15927,#f05527,#ee4326,#ef4c26,#f26927,#f26527,#f05627,#f36d28)"></i>
<i style="left:44.81px;top:44.81px;width:99.57px;height:99.57px;background:conic-gradient(#f15f27,#f47629,#f26927,#f26527,#ef4726,#f15e27,#f26427,#f26227,#ea3826,#ef4b26,#ef4f26,#e93626,#ed4026,#ed4026,#ee4626,#f05627,#ef4e26,#ec3d26,#eb3926,#eb3b26,#ee4526,#f16027,#f05427,#ef4e26,#f15c27,#f05827,#f48129,#f47d29,#f5862a,#f8a22b,#f79c2b,#f9c62e,#f7d430,#f7d530,#efe636,#cbe151,#b1db65,#aad96c,#a9d96d,#a6d86e,#a4d771,#a5d870,#b5dc62,#c1de58,#b6dc61,#e3e73e,#ece638,#dbe545,#cde14f,#dae545,#cde14f,#dce544,#eae739,#dae545,#f6da31,#f9c02d,#f9c12d,#f8ad2c,#f6902a,#f48029,#f26627,#f05527,#f04f26,#ee4426,#ed4026,#ef4d26,#ef4726,#ee4126,#e32627,#ed3f26,#ee4626,#ee4626,#e73127,#e42927,#ee4326,#ec3c26,#ea3626,#df2427,#e52927,#ea3726,#eb3a26,#e83127,#ed4026,#e52b27,#e93526,#eb3a26,#e93626,#ee4226,#ee4526,#ef4b26,#ee4526,#e93426,#ee4126,#f26127,#f05627,#ee4326,#f15f27)"></i>
<i style="left:46.80px;top:46.80px;width:95.59px;height:95.59px;background:conic-gradient(#ef4c26,#f15d27,#f05026,#ef4926,#e72e27,#ed3f26,#ee4426,#ee4326,#dd2427,#e73027,#e83227,#da2327,#e22527,#e42827,#e52b27,#ea3826,#e83327,#e32527,#e02427,#e32527,#e52b27,#ee4526,#ec3d26,#eb3a26,#ef4726,#ef4726,#f37628,#f47629,#f47f29,#f7972b,#f6932a,#f9bb2d,#f9cb2e,#f7d630,#e9e73a,#c1de58,#abd96a,#a3d771,#a0d774,#9fd675,#9ed676,#9dd676,#abd96b,#b5db62,#a6d86f,#c9e052,#d6e448,#c4df56,#b8dc60,#c2de58,#b3db64,#bddd5c,#cce150,#c0de59,#e8e73b,#f7d730,#f8d02f,#f9b92d,#f6952a,#f5832a,#f36c28,#f15b27,#f05226,#ef4c26,#ef4726,#f15b27,#f05627,#f05026,#e93526,#f05427,#f15a27,#f15b27,#ee4426,#eb3b26,#f05527,#ef4c26,#ee4126,#e62c27,#e83127,#ec3c26,#eb3a26,#e72f27,#eb3a26,#e02427,#e62c27,#e72e27,#e52927,#e93626,#ea3826,#ed4126,#ec3d26,#e42827,#e93426,#f05527,#ee4226,#e73027,#ef4c26)"></i>
<i style="left:48.80px;top:48.80px;width:91.61px;height:91.61px;background:conic-gradient(#ea3726,#ee4626,#ec3c26,#e93626,#d92327,#e42827,#e62d27,#e62c27,#ca1f26,#d52226,#d72227,#bf1e24,#c91f26,#ce2026,#d42226,#de2427,#db2327,#cc2026,#cc2026,#d32126,#d72227,#e72f27,#e52b27,#e52b27,#ea3726,#ea3826,#f26927,#f26a27,#f37628,#f68d2a,#f5862a,#f8ae2c,#f9bf2d,#f8cf2f,#e7e83b,#c2de58,#aad96b,#a2d772,#9dd676,#9cd678,#9cd678,#97d57c,#a2d772,#a9d96c,#9cd678,#b7dc61,#c3df57,#b4db63,#a7d86e,#a9d96d,#9cd678,#a1d773,#b1da66,#a8d86d,#c8e053,#e7e83b,#f0e536,#f8d22f,#f8a62b,#f6952a,#f47a29,#f26a27,#f15f27,#f05727,#f05427,#f36c28,#f26a27,#f26627,#ef4726,#f26627,#f36c28,#f36d28,#f15b27,#f05126,#f26727,#f15b27,#ef4926,#e93526,#ec3c26,#ee4426,#ed3e26,#e83327,#eb3b26,#de2427,#e52c27,#e42827,#dd2427,#e62c27,#e62c27,#e93526,#e83327,#de2427,#e42827,#ef4926,#e83127,#de2427,#ea3726)"></i>
<i style="left:50.79px;top:50.79px;width:87.63px;height:87.63px;background:conic-gradient(#e12427,#e72f27,#e32527,#de2427,#c31e25,#cf2026,#d32126,#d32126,#b01c22,#b81d23,#b61c23,#99191e,#a61a20,#b01b22,#bd1d24,#c81f26,#c41e25,#b61c23,#b61c23,#c31e25,#c61f25,#dd2427,#dd2427,#df2427,#e52c27,#e52b27,#f15e27,#f26327,#f37128,#f5882a,#f5832a,#f8aa2b,#f9c12d,#f7d530,#e0e641,#c0de5a,#a9d96c,#a1d773,#99d57a,#94d47f,#98d57b,#94d47f,#9cd678,#9cd677,#90d383,#a2d772,#acd96a,#a1d773,#9ad579,#95d47e,#8dd286,#8fd384,#9bd579,#96d47d,#abd96a,#cae052,#d2e34b,#e8e73a,#f9c12d,#f8b62c,#f79c2b,#f58a2a,#f47829,#f36f28,#f26927,#f5852a,#f5852a,#f5822a,#f26227,#f47929,#f47f29,#f5832a,#f36b28,#f15f27,#f47829,#f36c28,#f15a27,#ee4226,#ef4c26,#f05026,#ef4626,#e93526,#eb3b26,#dc2327,#e52b27,#e12527,#d72227,#e22527,#e02427,#e62d27,#e52927,#d52226,#da2327,#eb3a26,#de2427,#ce2026,#e12427)"></i>
<i style="left:52.78px;top:52.78px;width:83.64px;height:83.64px;background:conic-gradient(#d22126,#d82227,#d02126,#cb2026,#a81a20,#ae1b22,#b71c23,#bb1d24,#9a191e,#a21a1f,#9d191f,#80151a,#8f171c,#9e191f,#ac1b21,#b51c23,#b11c22,#a31a20,#a11a1f,#ae1b22,#af1b22,#d12126,#d62226,#d82327,#e52a27,#e62c27,#f15d27,#f26527,#f37528,#f58c2a,#f5882a,#f8aa2b,#f9c12d,#f7d730,#d9e546,#c0de59,#a9d96c,#9fd674,#95d47e,#8dd385,#93d47f,#91d382,#98d57b,#93d480,#87d18b,#99d57b,#9fd674,#99d57a,#96d47d,#8ed384,#86d18c,#86d18c,#90d383,#8cd286,#98d57b,#aeda68,#b3db64,#c4df56,#f5e232,#f7d730,#f9be2d,#f8a62b,#f7982b,#f68d2a,#f5852a,#f7a02b,#f79f2b,#f79d2b,#f47c29,#f6902a,#f6942a,#f6952a,#f47e29,#f37428,#f58b2a,#f47a29,#f26927,#f05527,#f15e27,#f26527,#f15c27,#ef4726,#ee4526,#e22527,#e62d27,#df2427,#d12126,#d92327,#d42226,#df2427,#dc2327,#cb1f26,#ce2026,#e62d27,#cf2026,#ba1d23,#d22126)"></i>
<i style="left:54.77px;top:54.77px;width:79.66px;height:79.66px;background:conic-gradient(#bf1e24,#cb1f26,#c31e25,#bc1d24,#98181e,#a31a20,#ab1b21,#b11c22,#95181d,#96181d,#91181d,#7c1519,#85161b,#94181d,#a1191f,#a81a20,#a41a20,#95181d,#96181d,#af1b22,#af1b22,#d02126,#dc2327,#dc2327,#e72f27,#e83327,#f26827,#f37028,#f47f29,#f6932a,#f68f2a,#f8ae2c,#f9c72e,#f6e031,#c7e054,#b7dc61,#a3d771,#99d57b,#8fd384,#87d18b,#8bd288,#88d18a,#93d480,#8cd286,#81d092,#92d481,#98d57b,#95d47e,#93d480,#86d18c,#80d094,#80d094,#8ad288,#87d18b,#91d382,#9ed675,#9fd675,#a8d86d,#dee642,#e2e73f,#f1e534,#f8cf2f,#f9ba2d,#f8a52b,#f79e2b,#f9ba2d,#f9bb2d,#f8b62c,#f6912a,#f7a02b,#f8a62b,#f8a72b,#f6922a,#f5892a,#f79b2b,#f58a2a,#f47a29,#f36b28,#f47629,#f47729,#f37028,#f15a27,#f05827,#e93526,#ed3f26,#e72f27,#da2327,#e12527,#d52226,#db2327,#d12126,#bf1e24,#c01e24,#de2427,#be1d24,#a31a20,#bf1e24)"></i>
<i style="left:56.76px;top:56.76px;width:75.68px;height:75.68px;background:conic-gradient(#b01c22,#bb1d24,#b81d23,#b31c22,#8e171c,#9c191e,#a91b21,#b11c22,#99191e,#92181d,#8d171c,#7c1519,#89171b,#9e191f,#a71a20,#b41c23,#b01c22,#a21a1f,#a51a20,#bf1e24,#bc1d24,#d82227,#e32627,#e32527,#eb3a26,#ed3f26,#f47729,#f48129,#f6902a,#f8a42b,#f79e2b,#f9be2d,#f7d830,#ebe739,#b1db65,#abd96b,#9fd675,#94d47f,#8cd286,#84d18f,#89d289,#85d18e,#90d383,#87d18b,#7ccf99,#8ad288,#90d382,#91d382,#8fd384,#81d092,#7bcf9b,#79cf9d,#84d18e,#82d091,#87d18b,#93d480,#90d383,#95d47e,#b8dc60,#b7dc61,#c5df55,#e1e740,#f1e535,#f8d22f,#f9ca2e,#f5e332,#f6df31,#f7d630,#f8af2c,#f8b72c,#f9bd2d,#f9bc2d,#f8a42b,#f79c2b,#f8ac2c,#f79a2b,#f5852a,#f47c29,#f5872a,#f58b2a,#f5882a,#f37028,#f36c28,#ef4926,#f05527,#ed4126,#e62d27,#e83227,#e22527,#e52a27,#d92327,#c61f26,#bf1e24,#db2327,#b31c22,#94181d,#b01c22)"></i>
<i style="left:58.75px;top:58.75px;width:71.69px;height:71.69px;background:conic-gradient(#a1191f,#ae1b22,#af1b22,#b31c22,#8f171c,#a0191f,#ac1b21,#ba1d23,#a51a20,#99191e,#97181e,#89171b,#9d191f,#b31c22,#b71d23,#c31e25,#be1e24,#af1b22,#b41c23,#d12126,#cc2026,#e52a27,#eb3a26,#eb3926,#f05126,#f05627,#f68f2a,#f79a2b,#f8ad2c,#f9c02d,#f8b52c,#f7d530,#efe636,#d7e447,#a1d773,#a1d773,#9dd676,#93d480,#89d289,#81d093,#86d18c,#83d090,#8ed384,#85d18d,#79cf9d,#86d18c,#8dd385,#8ed385,#8bd288,#7ed097,#78cf9e,#74cea4,#81d093,#7fd095,#82d091,#8cd287,#89d289,#8dd385,#a9d96c,#9ed675,#a5d86f,#b8dc60,#c5df55,#dce543,#e4e73d,#cce150,#cae152,#d9e546,#f6e031,#f6e031,#f3e534,#f5e232,#f9cb2e,#f9c42e,#f8d12f,#f9c12d,#f8a82b,#f8a22b,#f8ab2b,#f8aa2b,#f8a42b,#f68d2a,#f5892a,#f26927,#f37528,#f26227,#ee4426,#ef4926,#ea3626,#ea3826,#e42727,#d02126,#c41e25,#db2327,#a91b21,#88161b,#a1191f)"></i>
<i style="left:60.74px;top:60.74px;width:67.71px;height:67.71px;background:conic-gradient(#97181e,#a51a20,#ac1b21,#b41c23,#9f191f,#b11c22,#bc1d24,#cc2026,#bd1d24,#ae1b22,#ab1b21,#9f191f,#b21c22,#c81f26,#ca1f26,#d62226,#d12126,#c31e25,#cc2026,#e42727,#df2427,#ed3e26,#f05427,#f05326,#f37228,#f47729,#f8af2c,#f9b92d,#f9ca2e,#f7da30,#f9ca2e,#f5e332,#e5e83d,#cbe150,#9cd678,#a0d774,#9bd678,#93d480,#88d18a,#7fd096,#85d18e,#82d091,#8dd385,#83d090,#77cea0,#82d091,#88d18a,#8ad288,#8ad288,#7dcf98,#77ce9f,#73cea5,#7fd095,#7fd095,#81d093,#88d18b,#85d18e,#87d18b,#a1d773,#96d47d,#99d57a,#a6d86e,#b0da66,#c0de59,#c3df56,#aad96b,#a4d771,#acd96a,#cde14f,#d2e34b,#c8e053,#d1e24c,#e7e83c,#e9e73a,#dee642,#ece638,#f7d730,#f8d22f,#f6df31,#f6dc31,#f7d430,#f8b52c,#f8b12c,#f6932a,#f79c2b,#f5872a,#f26927,#f36d28,#f05326,#ef4e26,#eb3926,#df2427,#d02126,#e12527,#ad1b21,#87161b,#97181e)"></i>
<i style="left:62.74px;top:62.74px;width:63.73px;height:63.73px;background:conic-gradient(#c11e25,#ca1f26,#cc2026,#d22126,#bf1e24,#ce2026,#d32126,#e02427,#d92327,#cb1f26,#c91f26,#c51f25,#d42126,#e42827,#e42827,#e93426,#e72f27,#df2427,#e42927,#ee4526,#ed4026,#f26727,#f48029,#f47e29,#f79a2b,#f79c2b,#f7d430,#f7d930,#f4e433,#eee637,#f6de31,#ece638,#d5e449,#bbdd5d,#94d47f,#99d57a,#96d47e,#8dd385,#84d18e,#7dcf97,#82d091,#7fd095,#8ad288,#80d094,#74cea4,#7fd096,#85d18d,#89d289,#89d289,#7bcf9a,#77ce9f,#72cea6,#7ccf98,#7dcf98,#7ed097,#83d090,#81d093,#81d093,#97d57c,#8cd287,#8fd384,#9bd579,#a1d773,#b1db66,#b3db64,#9bd678,#97d57c,#9ed676,#b5db62,#b9dc5f,#abd96a,#b2db65,#bede5b,#c2df57,#bfde5a,#c9e052,#e6e83c,#e4e73e,#d2e34b,#d3e34a,#d6e448,#f1e535,#f1e534,#f9c92e,#f8d12f,#f9ba2d,#f6952a,#f7972b,#f47a29,#f37328,#f15f27,#ee4126,#e62d27,#ec3e26,#d02126,#b31c22,#c11e25)"></i>
<i style="left:64.73px;top:64.73px;width:59.74px;height:59.74px;background:conic-gradient(#e32527,#e62d27,#e72f27,#eb3926,#e42827,#e93526,#eb3b26,#f05026,#ef4926,#e93426,#e83127,#e93426,#ed4026,#f05527,#f05226,#f26127,#f15b27,#ef4b26,#f15b27,#f47d29,#f47629,#f7972b,#f8ac2c,#f8a32b,#f9bc2d,#f9b82d,#f2e534,#f2e534,#e9e73a,#e0e740,#ede638,#e2e73f,#c9e052,#b0da67,#8ed385,#97d57c,#93d480,#8bd287,#82d091,#7ccf99,#82d092,#80d094,#8ad289,#7ed096,#74cea3,#7ccf99,#83d090,#86d18c,#87d18b,#78cf9e,#77cea0,#73cea5,#7ccf98,#7ed097,#7ed097,#81d093,#7ed096,#7ccf99,#8ed384,#82d091,#84d18f,#91d381,#96d57d,#a1d773,#a3d771,#92d481,#8dd385,#94d47f,#a3d772,#a6d86f,#9bd678,#9ed676,#a1d773,#a3d771,#a2d772,#a8d86d,#c1de58,#bddd5c,#acd96a,#adda69,#b1db65,#d0e24d,#cee24e,#e6e83c,#dde643,#ebe738,#f9c52e,#f9c82e,#f8a52b,#f79a2b,#f5872a,#f26827,#f05126,#f26527,#e83327,#da2327,#e32527)"></i>
<i style="left:66.72px;top:66.72px;width:55.76px;height:55.76px;background:conic-gradient(#f05527,#f15c27,#f15f27,#f26a27,#f15b27,#f36b28,#f36f28,#f5872a,#f5852a,#f36d28,#f26727,#f36c28,#f47829,#f58b2a,#f5892a,#f7972b,#f6922a,#f5822a,#f6902a,#f8ad2c,#f8a32b,#f9be2d,#f9c92e,#f9b92d,#f8d12f,#f9cb2e,#e8e83b,#e8e83b,#d7e448,#cee24f,#dee642,#d3e34b,#bede5b,#a7d86e,#8ad288,#96d47d,#93d480,#8cd287,#81d093,#7bcf9a,#7fd094,#7ed096,#88d18b,#7ed097,#74cea3,#7acf9b,#81d093,#85d18e,#84d18f,#75cea2,#75cea2,#71cda8,#7bcf9a,#7dcf98,#7dd097,#7fd096,#7bcf9a,#7acf9c,#88d28a,#7ed096,#7fd096,#8ad288,#8ed384,#99d57a,#99d57a,#89d289,#84d18e,#8cd287,#9ad57a,#9ed676,#96d57d,#96d47d,#9ad57a,#99d57a,#9ad57a,#9ad579,#b4db63,#abd96b,#9cd678,#9cd678,#9dd677,#b6dc62,#b0da66,#bfde5a,#b4db63,#bddd5c,#e9e73a,#e7e83b,#f7d430,#f9c72e,#f8b22c,#f7982b,#f5882a,#f79a2b,#f36c28,#ef4b26,#f05527)"></i>
<i style="left:68.71px;top:68.71px;width:51.78px;height:51.78px;background:conic-gradient(#f8b02c,#f8b52c,#f8b02c,#f8b52c,#f8a22b,#f8a82b,#f8a82b,#f9bf2d,#f9bd2d,#f7a12b,#f79a2b,#f7a02b,#f8a92b,#f9bc2d,#f8b72c,#f9c22d,#f9b82d,#f8a32b,#f8b02c,#f8cc2f,#f9c02d,#f7d630,#f6df31,#f8cd2f,#f5e332,#f6dd31,#d7e448,#d8e447,#c6e054,#c3df57,#d4e34a,#c8e053,#b6dc61,#a0d774,#86d18c,#93d480,#90d383,#88d18a,#7fd094,#7ccf98,#7dcf97,#7bcf9a,#87d18b,#7ccf99,#6fcda9,#78cf9e,#7ed096,#82d091,#82d091,#74cea3,#74cea3,#70cda9,#78cf9e,#7ccf99,#7dcf98,#7ccf99,#79cf9d,#78cf9e,#83d18f,#79cf9d,#79cf9d,#82d091,#84d18f,#90d383,#90d382,#83d190,#7dd097,#82d091,#91d382,#97d57c,#8fd383,#90d382,#91d382,#92d481,#94d47f,#96d57d,#adda69,#a1d773,#92d481,#92d480,#94d47f,#a6d86f,#a0d774,#acd96a,#9dd677,#9fd675,#c3df57,#b8dc60,#dbe544,#eae739,#f5e432,#f8cf2f,#f9c52e,#f5e232,#f9bb2d,#f8a32b,#f8b02c)"></i>
<i style="left:70.70px;top:70.70px;width:47.80px;height:47.80px;background:conic-gradient(#eee637,#e9e73a,#ece638,#e9e73a,#f6de31,#f6df31,#f7da30,#eee637,#eee636,#f8ce2f,#f9c72e,#f8ce2f,#f7d730,#f3e533,#f6dc31,#f4e433,#f7d930,#f9c02d,#f9cb2e,#f3e534,#f6dc31,#eee637,#eae739,#f5e332,#e7e83b,#eee637,#c9e052,#cbe150,#badd5e,#bbdd5e,#c7e054,#bddd5b,#aeda68,#9bd579,#83d090,#91d381,#8ed384,#85d18d,#7ed097,#7ccf99,#7dcf98,#7bcf9b,#85d18d,#7ccf9a,#6dcdad,#75cea2,#7ccf99,#80d094,#81d092,#73cea5,#73cea5,#70cda9,#79cf9d,#7ccf99,#7dcf98,#7acf9c,#76cea0,#76cea1,#7ed096,#73cea5,#73cea5,#7dcf98,#7ccf99,#88d18a,#89d28a,#7dcf98,#76cea0,#7ccf98,#88d18a,#8fd384,#89d289,#8dd286,#8dd286,#8bd288,#8fd384,#91d382,#a3d771,#9ad579,#8dd385,#8dd385,#8ed384,#9dd676,#98d57c,#9bd678,#8fd384,#8fd384,#abd96a,#9ed676,#b4db63,#c2de58,#cce150,#dfe642,#e4e83d,#c7e054,#ebe739,#f6e031,#eee637)"></i>
<i style="left:72.69px;top:72.69px;width:43.81px;height:43.81px;background:conic-gradient(#c2de58,#bddd5c,#bfde5b,#bbdd5d,#d6e448,#d6e448,#e0e641,#cde14f,#cce150,#ece638,#f3e534,#ede637,#eae739,#dfe641,#eee637,#e7e83b,#efe636,#f8d22f,#f6de31,#e5e83d,#ede637,#dee642,#dce544,#e9e73a,#d5e349,#dfe641,#b8dc60,#c1de59,#b0da66,#afda68,#bbdd5e,#b4db63,#a6d86f,#97d57c,#82d092,#91d382,#8cd286,#85d18d,#7ed096,#7dcf98,#7ccf99,#7acf9b,#84d18f,#7bcf9b,#6ccdaf,#75cea3,#7acf9c,#7ed096,#7fd095,#72cea6,#72cda6,#70cda9,#79cf9d,#7ccf99,#7dd097,#79cf9d,#75cea2,#75cea3,#7acf9c,#70cda8,#71cda8,#7bcf9a,#78cf9e,#84d18f,#84d18e,#7bcf9a,#75cea2,#7acf9c,#83d190,#8cd286,#85d18d,#89d28a,#87d18b,#86d18c,#8bd287,#8bd287,#9fd675,#96d47e,#88d18a,#86d18c,#8bd287,#99d57a,#96d47d,#97d57d,#89d28a,#85d18d,#9ed676,#91d381,#9fd675,#adda69,#b5db63,#bddd5c,#bbdd5d,#a2d772,#c2df58,#d0e24d,#c2de58)"></i>
<i style="left:74.69px;top:74.69px;width:39.83px;height:39.83px;background:conic-gradient(#a8d86d,#a3d771,#a3d771,#a1d773,#badd5e,#badd5e,#c7e053,#b8dc60,#b8dc60,#dae545,#e3e73e,#dce544,#d9e546,#cce150,#dee642,#d7e447,#e4e73e,#f3e433,#ebe738,#cee24f,#dbe545,#cbe151,#cae152,#d5e449,#c2df57,#cbe151,#aeda68,#b6dc61,#a7d86e,#a5d86f,#b0da66,#a8d86d,#9ed676,#93d480,#81d093,#8fd384,#89d289,#84d18f,#7fd095,#7dcf98,#7bcf9a,#79cf9c,#83d090,#7acf9c,#6bcdb0,#75cea3,#78cf9e,#7ccf99,#7ccf99,#71cda7,#71cda7,#70cda9,#79cf9d,#7bcf9a,#7ed097,#79cf9d,#75cea2,#75cea2,#77cea0,#6fcdab,#6dcdad,#79cf9d,#75cea2,#7fd095,#83d090,#7acf9b,#73cea4,#7acf9c,#81d092,#8bd288,#84d18e,#86d18c,#83d091,#83d090,#8ad288,#87d18b,#9cd678,#91d382,#84d18f,#82d091,#88d18a,#96d47e,#93d480,#95d47e,#86d18c,#81d093,#97d57c,#8ad288,#98d57c,#a0d773,#a5d870,#acd96a,#a9d96d,#97d57c,#add969,#b5db62,#a8d86d)"></i>
<i style="left:76.68px;top:76.68px;width:35.85px;height:35.85px;background:conic-gradient(#a1d773,#9bd579,#9ad579,#97d57c,#adda69,#acd96a,#b9dc5f,#aad96b,#a6d86e,#c7e054,#d1e34c,#cae151,#c7e054,#b8dc60,#cde14f,#c6df55,#cfe24d,#e8e83b,#dee642,#bede5b,#c6df55,#badd5e,#bede5b,#c4df56,#b8dc60,#bddd5c,#a2d772,#acd96a,#a0d774,#9dd677,#a3d771,#9ed676,#97d57c,#8ed385,#7fd095,#8dd286,#86d18d,#81d093,#7ed097,#7fd095,#7acf9c,#79cf9e,#81d092,#7bcf9b,#6dcdad,#75cea3,#76cea1,#79cf9d,#79cf9c,#70cda8,#70cda9,#70cda9,#78cf9e,#7acf9b,#7dcf97,#76cea1,#73cea4,#75cea3,#73cea4,#6bcdb0,#6bcdb1,#78cf9e,#73cea4,#7dcf98,#81d092,#79cf9d,#72cea5,#79cf9c,#7ed096,#87d18b,#83d090,#84d18f,#7fd095,#80d093,#88d18a,#84d18f,#98d57b,#8ed384,#81d093,#7ed096,#86d18d,#93d480,#8fd384,#8ed385,#84d18e,#80d094,#93d480,#85d18d,#92d481,#9bd579,#9ed675,#a2d772,#9fd675,#91d381,#a2d772,#a7d86e,#a1d773)"></i>
<i style="left:78.67px;top:78.67px;width:31.86px;height:31.86px;background:conic-gradient(#99d57a,#93d480,#92d481,#8dd286,#a0d774,#9dd677,#a9d96c,#9ed676,#9cd678,#b7dc61,#bbdd5d,#b5dc62,#b2db65,#a4d770,#bbdd5d,#b6dc61,#bfde5a,#d8e447,#cfe24d,#b0da66,#b8dc60,#b1da66,#b5dc62,#b8dc60,#aeda68,#b2db65,#9cd677,#a2d772,#97d57c,#96d57d,#9dd676,#97d57c,#91d382,#88d18a,#7dcf98,#8ad288,#83d090,#7ed096,#7dd097,#80d094,#79cf9d,#77cea0,#80d094,#7acf9b,#6ccdaf,#74cea4,#74cea3,#77cea0,#76cea1,#6ecdac,#6dcdad,#70cda8,#7bcf9b,#7bcf9a,#7fd095,#76cea1,#73cea5,#74cea4,#71cda7,#6acdb1,#6acdb2,#76cea1,#71cda7,#7acf9b,#81d092,#77ce9f,#72cea6,#79cf9d,#7ccf99,#85d18d,#82d092,#80d093,#7acf9c,#7ccf98,#85d18d,#80d094,#93d480,#8ad289,#7ed096,#7ccf99,#84d18f,#91d382,#8dd385,#8cd287,#83d18f,#7dcf97,#90d383,#84d18e,#91d382,#9bd579,#9dd676,#9dd677,#9ad579,#8dd385,#9dd676,#9dd677,#99d57a)"></i>
<i style="left:80.66px;top:80.66px;width:27.88px;height:27.88px;background:conic-gradient(#94d47f,#8bd287,#8ad289,#83d090,#94d47f,#91d382,#9cd678,#95d47e,#93d480,#a4d770,#abd96b,#a4d770,#a2d772,#9bd579,#b0da67,#a9d96c,#b2db65,#c8e053,#c1de58,#a2d772,#a7d86e,#a7d86e,#afda68,#abd96a,#a2d772,#a6d86e,#96d57d,#9bd579,#8fd383,#91d382,#97d57c,#91d382,#8ed385,#84d18e,#7ccf9a,#87d18b,#82d091,#7dcf98,#7ccf99,#80d094,#79cf9d,#77cea0,#7ed096,#7bcf9b,#6ecdac,#75cea3,#75cea2,#74cea3,#75cea3,#6ccdaf,#6bcdb0,#71cda7,#7bcf9b,#7acf9b,#80d093,#75cea2,#71cda7,#72cda6,#6dcdae,#68ccb5,#67ccb6,#72cea6,#70cda9,#77ce9f,#7fd095,#76cea1,#73cea5,#7acf9c,#79cf9d,#82d091,#80d093,#7dd097,#74cea3,#79cf9d,#84d18f,#7ccf99,#8fd383,#85d18d,#7acf9b,#78cf9e,#83d190,#8fd384,#8bd288,#88d18b,#82d092,#7ccf99,#8dd286,#82d091,#90d383,#9cd678,#9cd677,#99d57a,#94d47f,#8ad289,#98d57c,#96d47d,#94d47f)"></i>
<i style="left:82.65px;top:82.65px;width:23.90px;height:23.90px;background:conic-gradient(#90d383,#85d18e,#83d190,#7fd095,#8fd383,#8dd385,#97d57c,#91d381,#8ed384,#9ed676,#9fd675,#9dd677,#99d57a,#92d481,#a5d870,#9fd675,#a6d86f,#bbdd5d,#b5dc62,#9ad57a,#9ed676,#9fd675,#a6d86e,#9ed675,#9ad579,#9dd677,#91d382,#96d47d,#89d289,#8cd287,#92d481,#8cd287,#89d289,#82d092,#7ccf98,#86d18c,#81d093,#7ccf99,#7ccf99,#7fd095,#77cea0,#76cea0,#7ed096,#7ccf99,#6fcdaa,#76cea1,#75cea3,#74cea3,#72cea6,#6bcdb0,#6ccdaf,#75cea3,#7dcf97,#7ccf99,#81d092,#76cea1,#72cea6,#73cea5,#69cdb3,#66ccb8,#66ccb9,#6ecdac,#6bcdb0,#75cea2,#7dcf98,#76cea1,#74cea3,#78cf9e,#75cea2,#7fd095,#7ed097,#79cf9c,#6fcdaa,#77cea0,#82d091,#7acf9c,#8ad288,#81d092,#76cea1,#75cea3,#82d092,#8dd286,#87d18b,#85d18d,#80d094,#7bcf9a,#88d18a,#80d094,#8ed385,#9ad579,#99d57a,#96d47d,#8fd384,#85d18d,#94d47f,#91d381,#90d383)"></i>
<i style="left:84.64px;top:84.64px;width:19.91px;height:19.91px;background:conic-gradient(#8dd286,#81d093,#80d093,#7dcf98,#8cd286,#8ad289,#90d383,#8dd286,#8ad289,#98d57b,#97d57d,#97d57c,#90d383,#8ad288,#9dd677,#97d57c,#9cd678,#abd96b,#a8d86d,#92d481,#94d47f,#99d57a,#9ed676,#96d47e,#94d47f,#95d47e,#8bd287,#91d382,#85d18d,#88d18a,#8dd385,#86d18c,#84d18f,#7fd095,#7bcf9a,#85d18e,#7fd096,#7ccf99,#7ccf99,#7fd095,#77cea0,#78ce9f,#7dcf98,#7dcf98,#71cda7,#77cea0,#74cea4,#74cea4,#71cda7,#6ccdae,#6fcdab,#77cea0,#7fd095,#7dcf98,#84d18f,#77ce9f,#73cea5,#72cea6,#68ccb5,#68ccb5,#68ccb4,#6ecdab,#6ecdac,#75cea3,#7dcf98,#76cea1,#77cea0,#78cf9e,#74cea4,#7dcf97,#7ed097,#78ce9f,#6bcdb0,#76cea1,#82d091,#78cf9e,#89d289,#80d093,#75cea3,#72cea6,#82d091,#8bd287,#86d18c,#84d18e,#7ed097,#79cf9c,#86d18c,#7ed096,#8dd286,#97d57c,#96d47d,#92d481,#8ad289,#84d18f,#92d481,#8dd286,#8dd286)"></i>
<i style="left:86.63px;top:86.63px;width:15.93px;height:15.93px;background:conic-gradient(#8ad288,#7dcf98,#7ccf98,#79cf9d,#87d18b,#86d18c,#8cd287,#89d289,#86d18c,#92d480,#90d383,#8fd384,#86d18d,#83d190,#95d47e,#8fd383,#94d47f,#9fd675,#9ed676,#8ad288,#8cd287,#91d382,#95d47e,#8dd286,#8ed384,#8fd384,#86d18c,#8cd286,#82d091,#84d18f,#89d289,#81d092,#81d093,#7ccf99,#7bcf9a,#83d090,#7ed097,#7bcf9b,#7bcf9b,#81d092,#78ce9f,#78cf9e,#7dcf98,#7dcf98,#72cea6,#78cf9e,#75cea3,#74cea3,#72cda7,#6bcdb0,#6fcdaa,#77cea0,#80d094,#7ed097,#84d18e,#79cf9d,#75cea3,#73cea4,#67ccb7,#69cdb3,#6ccdaf,#6ecdab,#70cda9,#76cea0,#7ccf99,#77cea0,#79cf9d,#7acf9b,#75cea2,#7dcf97,#7ed096,#77cea0,#68ccb4,#76cea0,#83d090,#78cf9e,#87d18b,#7fd095,#74cea4,#72cda6,#83d090,#88d18a,#85d18d,#83d18f,#7dcf98,#78cf9e,#82d091,#7ccf99,#8bd287,#94d47f,#92d381,#8dd286,#85d18d,#83d18f,#8ed384,#89d289,#8ad288)"></i>
<i style="left:88.63px;top:88.63px;width:11.95px;height:11.95px;background:conic-gradient(#88d18a,#7dcf98,#7acf9c,#76cea0,#83d18f,#84d18f,#86d18c,#85d18d,#82d092,#8cd287,#89d289,#86d18c,#80d094,#7ed096,#8cd286,#86d18c,#8cd286,#98d57c,#96d47d,#84d18f,#84d18f,#8bd287,#90d383,#84d18e,#88d18b,#88d28a,#83d190,#88d18a,#7fd095,#80d093,#83d090,#7dcf98,#7dcf98,#7acf9b,#7ccf99,#83d190,#7dcf97,#7acf9c,#79cf9c,#81d093,#78cf9f,#7acf9c,#7ccf99,#7dcf98,#76cea0,#7ccf99,#76cea1,#73cea4,#71cda7,#69cdb3,#6ecdab,#79cf9c,#82d091,#7fd095,#85d18d,#79cf9d,#75cea2,#75cea2,#68ccb5,#6acdb2,#6ecdac,#6dcdad,#6fcdab,#76cea0,#7ed096,#77ce9f,#7bcf9a,#7bcf9a,#75cea2,#7ed096,#80d094,#76cea1,#68ccb5,#78cf9e,#84d18f,#77cea0,#86d18c,#7fd096,#73cea5,#72cda6,#83d190,#85d18d,#84d18f,#81d093,#7ccf9a,#78cf9f,#7fd095,#79cf9d,#89d289,#90d383,#8dd385,#88d28a,#81d093,#81d092,#8bd288,#85d18d,#88d18a)"></i>
<i style="left:90.62px;top:90.62px;width:7.97px;height:7.97px;background:conic-gradient(#85d18d,#7bcf9b,#76cea1,#74cea3,#81d093,#80d094,#83d190,#81d092,#7fd095,#85d18e,#83d090,#81d093,#78cf9e,#78ce9f,#83d190,#7ed096,#84d18e,#8dd385,#8dd385,#7dcf98,#7dd097,#84d18f,#88d28a,#7ed097,#83d190,#83d190,#7fd095,#82d091,#7bcf9a,#7dcf98,#7ed097,#79cf9d,#79cf9d,#77ce9f,#7bcf9a,#81d092,#7bcf9a,#78cf9f,#79cf9d,#80d094,#77cea0,#79cf9d,#7bcf9b,#7dcf98,#76cea1,#7dcf98,#75cea2,#71cda7,#70cda8,#6acdb1,#70cda8,#7bcf9b,#83d190,#80d094,#85d18d,#7acf9b,#79cf9d,#77ce9f,#6ccdae,#70cda9,#72cda7,#6dcdae,#6fcda9,#75cea2,#7ed097,#77cea0,#7ccf9a,#7ccf99,#75cea3,#7dcf97,#80d094,#75cea2,#66ccb8,#79cf9d,#85d18e,#76cea1,#84d18e,#7dcf98,#73cea5,#71cda7,#82d091,#82d091,#81d092,#7fd095,#7bcf9b,#76cea1,#7ccf99,#78cf9e,#88d18a,#8cd287,#88d18a,#85d18e,#7bcf9a,#7ed097,#87d18b,#82d091,#85d18d)"></i>
<i style="left:92.61px;top:92.61px;width:3.98px;height:3.98px;background:conic-gradient(#82d092,#77ce9f,#71cda7,#70cda8,#7ccf98,#7ccf99,#7fd095,#7dcf98,#7bcf9a,#7dcf97,#7acf9b,#7bcf9a,#72cda7,#70cda8,#7dcf98,#77ce9f,#7ed097,#86d18c,#85d18d,#76cea0,#77cea0,#7dcf97,#82d091,#77cea0,#7ed096,#7ed097,#7ccf99,#7ed097,#77cea0,#79cf9d,#7acf9b,#75cea3,#76cea1,#75cea2,#79cf9d,#7fd096,#79cf9c,#77cea0,#78cf9e,#7fd095,#76cea0,#7acf9c,#7bcf9a,#7ed097,#76cea0,#7ed097,#76cea1,#72cea6,#6ecdab,#6ccdaf,#72cea6,#7ccf99,#83d190,#81d093,#85d18d,#7bcf9b,#7bcf9a,#7acf9c,#70cda9,#73cea5,#75cea3,#6ccdaf,#72cda6,#77ce9f,#7fd095,#78cf9e,#7fd095,#7ed096,#76cea1,#7ed097,#81d093,#74cea4,#62ccbd,#78cf9e,#85d18d,#75cea2,#83d190,#7bcf9a,#73cea5,#72cea6,#7fd095,#7ed096,#7fd095,#7dcf98,#78cf9e,#73cea5,#7acf9c,#76cea1,#86d18c,#87d18b,#84d18f,#82d092,#77cea0,#7acf9b,#84d18f,#7fd095,#82d092)"></i>
</div>
<svg class="ov" style="left:263.2px;top:273.6px" width="200" height="200" viewBox="-100 -100 200 200">
<circle r="23.40" stroke="#b0b0b0" stroke-opacity="0.38" stroke-width="0.5" fill="none"/>
<circle r="46.80" stroke="#b0b0b0" stroke-opacity="0.38" stroke-width="0.5" fill="none"/>
<circle r="70.20" stroke="#b0b0b0" stroke-opacity="0.38" stroke-width="0.5" fill="none"/>
<line x1="0.00" y1="-93.60" x2="-0.00" y2="93.60" stroke="#b0b0b0" stroke-opacity="0.38" stroke-width="0.5" fill="none"/>
<line x1="66.19" y1="-66.19" x2="-66.19" y2="66.19" stroke="#b0b0b0" stroke-opacity="0.38" stroke-width="0.5" fill="none"/>
<line x1="93.60" y1="-0.00" x2="-93.60" y2="0.00" stroke="#b0b0b0" stroke-opacity="0.38" stroke-width="0.5" fill="none"/>
<line x1="66.19" y1="66.19" x2="-66.19" y2="-66.19" stroke="#b0b0b0" stroke-opacity="0.38" stroke-width="0.5" fill="none"/>
<circle r="93.65" stroke="#3c3c3c" stroke-width="0.75" fill="none"/>
</svg>
<div class="t tt" style="left:137.2px;top:12.8px">Quiet period: AE &nbsp;<span style="margin:0 -2.2px 0 -.3px">≤</span>&nbsp; 80 nT</div>
<div class="t tt" style="left:363.2px;top:12.8px">Disturbed period: AE &nbsp;<span style="margin:0 -3.2px 0 -.5px">≥</span>&nbsp; 120 nT</div>
<div class="t tk" style="left:138.8px;top:37.4px">12:00</div>
<div class="t tk" style="left:138.8px;top:238.4px">00:00</div>
<div class="t tk r90" style="left:34.1px;top:135.3px">18:00</div>
<div class="t tk r270" style="left:239.3px;top:134.7px">06:00</div>
<div class="t tt" style="left:137.0px;top:251.3px"><span style="letter-spacing:.55px">MLT-</span><em>λ</em><sub>QD</sub></div>
<div class="t tk" style="left:212.0px;top:106.2px">60°</div>
<div class="t tk" style="left:168.0px;top:124.5px">80°</div>
<div class="t tk" style="left:365.0px;top:37.4px">12:00</div>
<div class="t tk" style="left:365.0px;top:238.4px">00:00</div>
<div class="t tk r90" style="left:260.3px;top:135.3px">18:00</div>
<div class="t tk r270" style="left:465.5px;top:134.7px">06:00</div>
<div class="t tt" style="left:363.2px;top:251.3px"><span style="letter-spacing:.55px">MLT-</span><em>λ</em><sub>QD</sub></div>
<div class="t tk" style="left:438.2px;top:106.2px">60°</div>
<div class="t tk" style="left:394.2px;top:124.5px">80°</div>
<div class="t tk" style="left:138.8px;top:273.2px">12:00</div>
<div class="t tk" style="left:138.8px;top:474.2px">00:00</div>
<div class="t tk r90" style="left:34.1px;top:371.1px">18:00</div>
<div class="t tk r270" style="left:239.3px;top:370.5px">06:00</div>
<div class="t tt" style="left:137.0px;top:487.1px"><span style="letter-spacing:.55px">MLT-</span><em>λ</em><sub>QD</sub></div>
<div class="t tk" style="left:214.2px;top:342.5px">-60°</div>
<div class="t tk" style="left:169.5px;top:360.3px">-80°</div>
<div class="t tk" style="left:365.0px;top:273.2px">12:00</div>
<div class="t tk" style="left:365.0px;top:474.2px">00:00</div>
<div class="t tk r90" style="left:260.3px;top:371.1px">18:00</div>
<div class="t tk r270" style="left:465.5px;top:370.5px">06:00</div>
<div class="t tt" style="left:363.2px;top:487.1px"><span style="letter-spacing:.55px">MLT-</span><em>λ</em><sub>QD</sub></div>
<div class="t tk" style="left:440.4px;top:342.5px">-60°</div>
<div class="t tk" style="left:395.7px;top:360.3px">-80°</div>
<div class="t tt r90" style="left:15px;top:139.5px">Northern Hemisphere</div>
<div class="t tt r90" style="left:15px;top:375px">Southern Hemisphere</div>
<div class="cb"></div>
<div class="tick" style="left:67.2px"></div>
<div class="t tk" style="left:67.5px;top:525.1px;font-size:11.2px;letter-spacing:.2px">3.25</div>
<div class="tick" style="left:130.4px"></div>
<div class="t tk" style="left:130.7px;top:525.1px;font-size:11.2px;letter-spacing:.2px">3.30</div>
<div class="tick" style="left:193.7px"></div>
<div class="t tk" style="left:194.0px;top:525.1px;font-size:11.2px;letter-spacing:.2px">3.35</div>
<div class="tick" style="left:256.9px"></div>
<div class="t tk" style="left:257.2px;top:525.1px;font-size:11.2px;letter-spacing:.2px">3.40</div>
<div class="tick" style="left:320.2px"></div>
<div class="t tk" style="left:320.5px;top:525.1px;font-size:11.2px;letter-spacing:.2px">3.45</div>
<div class="tick" style="left:383.4px"></div>
<div class="t tk" style="left:383.7px;top:525.1px;font-size:11.2px;letter-spacing:.2px">3.50</div>
<div class="tick" style="left:446.7px"></div>
<div class="t tk" style="left:447.0px;top:525.1px;font-size:11.2px;letter-spacing:.2px">3.55</div>
<div class="t" style="left:250px;top:538.5px;font-size:11.2px;font-style:italic"><em>log</em><sub style="font-style:normal">10</sub><span style="font-style:normal">(</span><em>T</em><sub>e</sub><span style="font-style:normal">&thinsp;[</span><em>K</em><span style="font-style:normal">])</span></div>
</body></html>
